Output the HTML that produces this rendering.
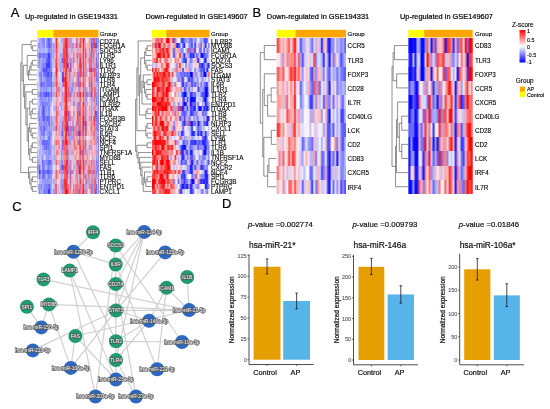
<!DOCTYPE html>
<html><head><meta charset="utf-8"><style>html,body{margin:0;padding:0;background:#fff;overflow:hidden}svg{display:block;will-change:transform}</style></head><body>
<svg width="550" height="409" viewBox="0 0 550 409" font-family='"Liberation Sans", sans-serif'>
<rect width="550" height="409" fill="#fff"/>
<path fill="#d8d8fc" d="M37 38h1v5h-1zM37 72h1v5h-1zM60 77h1v5h-1zM51 106h1v5h-1zM37 111h1v5h-1zM53 111h1v5h-1zM53 131h1v5h-1zM37 136h1v4h-1zM37 140h1v5h-1zM52 140h1v5h-1zM37 145h1v5h-1zM44 155h1v5h-1zM37 179h1v5h-1z"/>
<path fill="#c0c0fc" d="M38 38h1v5h-1zM45 43h1v5h-1zM38 48h1v5h-1zM45 48h1v5h-1zM53 63h1v5h-1zM52 68h1v4h-1zM52 77h2v5h-2zM37 82h1v5h-1zM60 82h1v5h-1zM87 87h1v5h-1zM51 102h1v4h-1zM71 102h1v4h-1zM38 106h1v5h-1zM50 106h1v5h-1zM53 106h1v5h-1zM60 106h1v5h-1zM61 111h1v5h-1zM38 121h1v5h-1zM38 126h1v5h-1zM39 136h1v4h-1zM46 136h1v4h-1zM60 136h1v4h-1zM41 145h1v5h-1zM41 150h1v5h-1zM40 155h1v5h-1zM45 155h1v5h-1zM52 155h1v5h-1zM40 160h1v5h-1zM53 160h1v5h-1zM52 165h1v5h-1zM38 174h1v5h-1zM52 179h1v5h-1zM38 189h1v5h-1zM52 189h1v5h-1z"/>
<path fill="#a8a8fc" d="M39 38h2v5h-2zM46 38h1v5h-1zM61 38h1v5h-1zM40 43h2v5h-2zM39 48h2v5h-2zM43 48h2v5h-2zM47 48h1v5h-1zM71 48h1v5h-1zM98 48h1v5h-1zM37 53h1v5h-1zM40 58h2v5h-2zM40 63h1v5h-1zM40 68h1v4h-1zM42 72h1v5h-1zM42 77h1v5h-1zM44 77h1v5h-1zM42 87h1v5h-1zM50 87h1v5h-1zM39 97h1v5h-1zM47 97h1v5h-1zM50 97h1v5h-1zM50 102h1v4h-1zM40 106h2v5h-2zM47 106h1v5h-1zM61 106h1v5h-1zM47 111h1v5h-1zM38 116h1v5h-1zM39 126h1v5h-1zM46 131h1v5h-1zM41 136h1v4h-1zM47 136h1v4h-1zM51 136h1v4h-1zM40 140h1v5h-1zM51 140h1v5h-1zM39 150h1v5h-1zM42 150h3v5h-3zM49 155h3v5h-3zM39 160h1v5h-1zM40 165h1v5h-1zM37 170h1v4h-1zM52 170h1v4h-1zM97 170h1v4h-1zM37 174h1v5h-1zM41 174h1v5h-1zM50 179h1v5h-1zM42 184h1v5h-1zM51 184h1v5h-1zM40 189h1v5h-1zM42 189h1v5h-1z"/>
<path fill="#9c9cfc" d="M41 38h1v5h-1zM38 43h1v5h-1zM42 43h1v5h-1zM98 43h1v5h-1zM50 48h1v5h-1zM38 53h1v5h-1zM61 53h1v5h-1zM42 58h1v5h-1zM44 58h2v5h-2zM98 58h1v5h-1zM41 63h1v5h-1zM98 68h1v4h-1zM43 77h1v5h-1zM40 87h1v5h-1zM45 87h1v5h-1zM47 87h2v5h-2zM43 97h1v5h-1zM46 97h1v5h-1zM39 106h1v5h-1zM45 106h1v5h-1zM39 111h1v5h-1zM45 111h2v5h-2zM40 116h1v5h-1zM40 121h1v5h-1zM42 121h1v5h-1zM47 121h1v5h-1zM46 126h1v5h-1zM51 126h1v5h-1zM40 131h1v5h-1zM47 131h1v5h-1zM98 131h1v5h-1zM40 136h1v4h-1zM44 136h1v4h-1zM50 136h1v4h-1zM71 136h1v4h-1zM41 140h1v5h-1zM50 140h1v5h-1zM42 145h1v5h-1zM50 145h2v5h-2zM45 150h1v5h-1zM45 160h1v5h-1zM38 165h1v5h-1zM51 165h1v5h-1zM38 170h1v4h-1zM41 170h1v4h-1zM40 174h1v5h-1zM47 174h1v5h-1zM42 179h3v5h-3zM46 179h1v5h-1zM48 179h1v5h-1zM51 179h1v5h-1zM61 179h1v5h-1zM40 184h1v5h-1zM43 184h1v5h-1zM41 189h1v5h-1zM43 189h1v5h-1z"/>
<path fill="#8484fc" d="M42 38h2v5h-2zM51 38h1v5h-1zM98 38h1v5h-1zM47 43h1v5h-1zM48 48h1v5h-1zM41 53h2v5h-2zM98 53h1v5h-1zM39 58h1v5h-1zM50 58h1v5h-1zM51 63h1v5h-1zM98 63h1v5h-1zM42 68h1v4h-1zM50 68h2v4h-2zM40 72h1v5h-1zM43 72h1v5h-1zM98 72h1v5h-1zM41 77h1v5h-1zM98 77h1v5h-1zM40 82h1v5h-1zM46 82h1v5h-1zM98 82h1v5h-1zM46 87h1v5h-1zM98 87h1v5h-1zM41 92h2v5h-2zM98 92h1v5h-1zM48 97h1v5h-1zM98 97h1v5h-1zM43 102h2v4h-2zM98 102h1v4h-1zM48 106h2v5h-2zM98 106h1v5h-1zM49 111h1v5h-1zM98 111h1v5h-1zM39 116h1v5h-1zM45 116h1v5h-1zM98 116h1v5h-1zM44 121h1v5h-1zM46 121h1v5h-1zM98 121h1v5h-1zM40 126h1v5h-1zM45 126h1v5h-1zM49 126h1v5h-1zM98 126h1v5h-1zM41 131h2v5h-2zM44 131h1v5h-1zM49 131h1v5h-1zM98 136h1v4h-1zM98 140h1v5h-1zM47 145h1v5h-1zM49 145h1v5h-1zM98 145h1v5h-1zM49 150h1v5h-1zM98 155h1v5h-1zM46 160h2v5h-2zM51 160h1v5h-1zM61 160h1v5h-1zM98 160h1v5h-1zM42 165h1v5h-1zM44 165h1v5h-1zM97 165h2v5h-2zM45 170h1v4h-1zM98 170h1v4h-1zM44 174h1v5h-1zM98 174h1v5h-1zM98 179h1v5h-1zM41 184h1v5h-1zM44 184h1v5h-1zM47 184h1v5h-1zM39 189h1v5h-1zM50 189h1v5h-1zM98 189h1v5h-1z"/>
<path fill="#9090fc" d="M44 38h1v5h-1zM50 38h1v5h-1zM39 43h1v5h-1zM43 43h2v5h-2zM46 43h1v5h-1zM51 43h1v5h-1zM51 48h1v5h-1zM46 53h1v5h-1zM51 53h1v5h-1zM43 58h1v5h-1zM51 58h1v5h-1zM61 58h1v5h-1zM39 63h1v5h-1zM42 63h1v5h-1zM44 63h1v5h-1zM41 68h1v4h-1zM39 72h1v5h-1zM40 77h1v5h-1zM45 77h1v5h-1zM45 82h1v5h-1zM41 87h1v5h-1zM43 87h2v5h-2zM71 87h1v5h-1zM39 92h1v5h-1zM50 92h1v5h-1zM40 97h3v5h-3zM44 97h2v5h-2zM49 97h1v5h-1zM51 97h1v5h-1zM40 102h2v4h-2zM46 102h1v4h-1zM48 102h2v4h-2zM46 106h1v5h-1zM38 111h1v5h-1zM41 111h1v5h-1zM48 111h1v5h-1zM41 116h1v5h-1zM39 121h1v5h-1zM41 121h1v5h-1zM43 121h1v5h-1zM45 121h1v5h-1zM42 126h1v5h-1zM47 126h1v5h-1zM48 131h1v5h-1zM50 131h2v5h-2zM61 131h1v5h-1zM43 136h1v4h-1zM43 145h1v5h-1zM48 150h1v5h-1zM50 150h1v5h-1zM61 150h1v5h-1zM98 150h1v5h-1zM42 155h1v5h-1zM46 155h1v5h-1zM48 155h1v5h-1zM44 160h1v5h-1zM47 165h1v5h-1zM49 165h2v5h-2zM45 174h1v5h-1zM49 174h3v5h-3zM45 179h1v5h-1zM47 179h1v5h-1zM49 179h1v5h-1zM39 184h1v5h-1zM45 184h1v5h-1zM50 184h1v5h-1zM61 184h1v5h-1zM98 184h1v5h-1zM45 189h1v5h-1zM53 189h1v5h-1z"/>
<path fill="#b4b4fc" d="M45 38h1v5h-1zM37 48h1v5h-1zM41 48h2v5h-2zM46 48h1v5h-1zM38 58h1v5h-1zM53 58h1v5h-1zM37 63h2v5h-2zM52 63h1v5h-1zM61 63h1v5h-1zM39 68h1v4h-1zM52 72h1v5h-1zM61 72h1v5h-1zM39 82h1v5h-1zM49 87h1v5h-1zM37 92h2v5h-2zM39 102h1v4h-1zM50 126h1v5h-1zM52 126h1v5h-1zM39 131h1v5h-1zM45 131h1v5h-1zM42 136h1v4h-1zM39 140h1v5h-1zM40 145h1v5h-1zM40 150h1v5h-1zM54 150h1v5h-1zM39 155h1v5h-1zM41 155h1v5h-1zM43 155h1v5h-1zM53 155h1v5h-1zM41 160h1v5h-1zM52 160h1v5h-1zM41 165h1v5h-1zM45 165h2v5h-2zM46 174h1v5h-1zM40 179h2v5h-2zM38 184h1v5h-1zM51 189h1v5h-1zM61 189h1v5h-1z"/>
<path fill="#7878fc" d="M47 38h1v5h-1zM50 43h1v5h-1zM49 48h1v5h-1zM40 53h1v5h-1zM43 53h3v5h-3zM50 53h1v5h-1zM43 63h1v5h-1zM45 63h1v5h-1zM50 63h1v5h-1zM48 68h1v4h-1zM41 72h1v5h-1zM50 72h1v5h-1zM46 77h6v5h-6zM42 82h3v5h-3zM47 82h4v5h-4zM51 87h1v5h-1zM43 92h1v5h-1zM49 92h1v5h-1zM45 102h1v4h-1zM47 102h1v4h-1zM42 116h1v5h-1zM46 116h1v5h-1zM49 116h1v5h-1zM48 121h1v5h-1zM41 126h1v5h-1zM43 126h1v5h-1zM48 136h1v4h-1zM45 140h1v5h-1zM48 140h2v5h-2zM44 145h2v5h-2zM48 145h1v5h-1zM43 160h1v5h-1zM43 165h1v5h-1zM48 165h1v5h-1zM61 165h1v5h-1zM42 170h1v4h-1zM50 170h2v4h-2zM39 174h1v5h-1zM42 174h1v5h-1zM48 174h1v5h-1zM46 184h1v5h-1zM48 184h1v5h-1zM46 189h2v5h-2z"/>
<path fill="#6060fc" d="M48 38h2v5h-2zM46 58h2v5h-2zM45 68h1v4h-1zM47 68h1v4h-1zM49 68h1v4h-1zM46 72h1v5h-1zM41 82h1v5h-1zM44 92h2v5h-2zM43 116h2v5h-2zM47 116h1v5h-1zM44 126h1v5h-1zM44 140h1v5h-1zM46 145h1v5h-1zM49 160h1v5h-1zM40 170h1v4h-1zM43 170h2v4h-2zM47 170h3v4h-3zM43 174h1v5h-1zM49 184h1v5h-1zM44 189h1v5h-1z"/>
<path fill="#ccccfc" d="M52 38h1v5h-1zM37 43h1v5h-1zM61 43h1v5h-1zM37 58h1v5h-1zM52 58h1v5h-1zM38 68h1v4h-1zM38 72h1v5h-1zM53 72h1v5h-1zM60 72h1v5h-1zM38 82h1v5h-1zM61 82h1v5h-1zM37 87h3v5h-3zM38 97h1v5h-1zM52 97h1v5h-1zM37 102h2v4h-2zM54 102h1v4h-1zM50 111h2v5h-2zM62 111h1v5h-1zM37 116h1v5h-1zM38 131h1v5h-1zM52 131h1v5h-1zM45 136h1v4h-1zM38 150h1v5h-1zM71 155h1v5h-1zM53 170h1v4h-1zM60 174h1v5h-1zM97 179h1v5h-1zM37 184h1v5h-1zM52 184h2v5h-2z"/>
<path fill="#e4e4fc" d="M53 38h1v5h-1zM37 68h1v4h-1zM53 68h1v4h-1zM37 97h1v5h-1zM52 102h1v4h-1zM38 179h1v5h-1z"/>
<path fill="#d8ccf0" d="M54 38h1v5h-1zM61 48h1v5h-1zM71 121h1v5h-1zM60 140h1v5h-1zM52 150h1v5h-1zM59 155h2v5h-2z"/>
<path fill="#f0909c" d="M55 38h1v5h-1zM55 43h1v5h-1zM84 48h1v5h-1zM82 58h1v5h-1zM77 68h1v4h-1zM85 77h1v5h-1zM69 82h1v5h-1zM80 87h1v5h-1zM63 97h1v5h-1zM94 106h1v5h-1zM73 111h1v5h-1zM63 116h1v5h-1zM95 131h1v5h-1zM85 136h1v4h-1zM95 140h1v5h-1zM69 184h1v5h-1zM74 189h1v5h-1z"/>
<path fill="#fc3030" d="M56 38h1v5h-1zM56 43h1v5h-1zM83 43h1v5h-1zM64 58h1v5h-1zM56 72h1v5h-1zM64 77h1v5h-1zM65 92h1v5h-1zM65 97h1v5h-1zM65 116h1v5h-1zM65 126h1v5h-1zM65 136h1v4h-1zM65 184h1v5h-1z"/>
<path fill="#fc9c9c" d="M57 38h1v5h-1zM89 43h1v5h-1zM84 53h1v5h-1zM84 58h1v5h-1zM89 72h1v5h-1zM94 82h1v5h-1zM76 92h1v5h-1zM81 92h1v5h-1zM57 97h1v5h-1zM81 97h1v5h-1zM73 106h1v5h-1zM89 106h1v5h-1zM64 131h1v5h-1zM75 140h1v5h-1zM73 145h1v5h-1zM77 145h1v5h-1zM76 150h2v5h-2zM88 160h2v5h-2zM57 174h1v5h-1z"/>
<path fill="#fccccc" d="M58 38h1v5h-1zM81 48h1v5h-1zM86 77h2v5h-2zM74 121h1v5h-1zM89 189h1v5h-1z"/>
<path fill="#f0ccd8" d="M59 38h1v5h-1zM75 38h1v5h-1zM74 63h1v5h-1zM59 97h1v5h-1zM58 102h1v4h-1zM81 102h1v4h-1zM88 102h1v4h-1zM75 106h1v5h-1zM88 126h1v5h-1zM89 136h1v4h-1zM90 150h1v5h-1zM59 174h1v5h-1z"/>
<path fill="#d8d8f0" d="M60 38h1v5h-1z"/>
<path fill="#c0a8e4" d="M62 38h1v5h-1zM92 53h1v5h-1zM61 68h1v4h-1zM96 87h1v5h-1zM62 97h1v5h-1zM97 97h1v5h-1zM97 102h1v4h-1zM97 106h1v5h-1zM71 116h2v5h-2zM54 126h1v5h-1zM72 131h1v5h-1zM71 150h1v5h-1zM59 160h1v5h-1z"/>
<path fill="#f08484" d="M63 38h1v5h-1z"/>
<path fill="#fc6060" d="M64 38h1v5h-1zM64 43h1v5h-1zM64 97h1v5h-1zM83 97h1v5h-1zM64 116h1v5h-1zM82 116h1v5h-1zM80 121h1v5h-1zM56 140h1v5h-1zM64 140h1v5h-1zM74 140h1v5h-1zM64 145h2v5h-2zM56 160h1v5h-1zM65 160h1v5h-1zM64 170h1v4h-1zM64 174h1v5h-1zM83 179h1v5h-1z"/>
<path fill="#fc4848" d="M65 38h1v5h-1zM56 48h1v5h-1zM64 48h1v5h-1zM64 53h2v5h-2zM56 58h1v5h-1zM65 68h1v4h-1zM89 68h1v4h-1zM94 72h1v5h-1zM66 77h1v5h-1zM56 82h1v5h-1zM83 82h1v5h-1zM56 92h1v5h-1zM77 116h1v5h-1zM64 165h1v5h-1zM65 170h1v4h-1zM89 170h1v4h-1z"/>
<path fill="#f0243c" d="M66 38h1v5h-1zM66 53h1v5h-1z"/>
<path fill="#a860c0" d="M67 38h1v5h-1zM67 111h1v5h-1z"/>
<path fill="#d890b4" d="M68 38h1v5h-1zM82 63h1v5h-1zM84 72h1v5h-1zM84 92h1v5h-1zM77 102h1v4h-1zM74 111h1v5h-1zM84 126h1v5h-1zM84 140h1v5h-1zM93 160h1v5h-1zM93 165h1v5h-1zM55 170h1v4h-1z"/>
<path fill="#e490b4" d="M69 38h1v5h-1zM94 53h1v5h-1zM86 111h1v5h-1zM55 116h1v5h-1zM55 140h1v5h-1zM73 170h1v4h-1z"/>
<path fill="#c084c0" d="M70 38h1v5h-1zM70 58h1v5h-1zM58 87h1v5h-1zM55 126h1v5h-1zM68 165h3v5h-3zM92 179h1v5h-1z"/>
<path fill="#b4a8f0" d="M71 38h1v5h-1zM54 43h1v5h-1zM60 53h1v5h-1zM92 58h1v5h-1zM96 82h1v5h-1zM52 92h1v5h-1zM62 102h1v4h-1zM87 102h1v4h-1zM50 116h1v5h-1zM52 121h1v5h-1zM61 121h1v5h-1zM61 145h1v5h-1zM96 145h1v5h-1zM38 160h1v5h-1zM91 174h1v5h-1zM53 179h1v5h-1zM54 189h1v5h-1z"/>
<path fill="#d8ccfc" d="M72 38h1v5h-1zM53 97h1v5h-1zM53 102h1v4h-1zM53 165h1v5h-1zM52 174h1v5h-1z"/>
<path fill="#f0cccc" d="M73 38h1v5h-1zM75 111h1v5h-1zM74 174h1v5h-1z"/>
<path fill="#fcd8d8" d="M74 38h1v5h-1zM75 63h1v5h-1zM88 72h1v5h-1zM58 77h1v5h-1zM74 77h1v5h-1zM86 82h1v5h-1zM72 106h1v5h-1zM88 136h1v4h-1zM88 189h1v5h-1z"/>
<path fill="#c078b4" d="M76 38h1v5h-1zM79 68h1v4h-1zM92 87h1v5h-1zM74 102h1v4h-1zM78 111h1v5h-1zM78 126h1v5h-1zM69 131h1v5h-1zM70 160h1v5h-1zM78 189h1v5h-1z"/>
<path fill="#f0849c" d="M77 38h1v5h-1zM90 87h1v5h-1zM85 97h1v5h-1zM92 121h1v5h-1zM81 165h1v5h-1zM85 179h1v5h-1z"/>
<path fill="#e4b4cc" d="M78 38h1v5h-1zM79 48h1v5h-1zM86 58h1v5h-1zM58 68h1v4h-1zM58 82h1v5h-1zM74 87h1v5h-1zM75 102h1v4h-1zM93 102h1v4h-1zM74 116h1v5h-1zM58 121h1v5h-1zM55 136h1v4h-1zM69 145h1v5h-1zM88 145h1v5h-1zM92 145h1v5h-1zM55 150h1v5h-1zM78 155h1v5h-1zM75 170h1v4h-1zM90 174h1v5h-1zM73 179h1v5h-1z"/>
<path fill="#d8a8cc" d="M79 38h1v5h-1zM90 43h1v5h-1zM97 53h1v5h-1zM76 72h1v5h-1zM73 77h1v5h-1zM81 82h1v5h-1zM97 87h1v5h-1zM74 97h1v5h-1zM70 150h1v5h-1zM87 150h1v5h-1zM74 165h2v5h-2zM87 165h1v5h-1zM68 174h1v5h-1zM75 174h1v5h-1zM87 174h1v5h-1zM71 179h1v5h-1z"/>
<path fill="#f05460" d="M80 38h1v5h-1zM63 48h1v5h-1zM85 53h1v5h-1zM65 63h1v5h-1zM63 82h1v5h-1zM80 111h1v5h-1zM83 111h1v5h-1zM85 126h1v5h-1zM83 145h1v5h-1z"/>
<path fill="#f090a8" d="M81 38h1v5h-1zM90 72h1v5h-1zM75 82h1v5h-1zM58 111h1v5h-1zM95 136h1v4h-1zM90 165h1v5h-1z"/>
<path fill="#fc7878" d="M82 38h1v5h-1zM77 58h1v5h-1zM64 68h1v4h-1zM57 82h1v5h-1zM82 92h1v5h-1zM82 106h1v5h-1zM74 145h2v5h-2zM57 150h1v5h-1zM65 155h1v5h-1zM88 165h2v5h-2z"/>
<path fill="#f02430" d="M83 38h1v5h-1zM56 68h1v4h-1zM83 116h1v5h-1zM66 131h1v5h-1zM66 165h1v5h-1zM83 189h1v5h-1z"/>
<path fill="#cc78a8" d="M84 38h1v5h-1zM76 82h1v5h-1zM79 106h1v5h-1zM84 116h1v5h-1zM76 121h1v5h-1zM59 170h1v4h-1zM63 179h1v5h-1z"/>
<path fill="#f0b4c0" d="M85 38h1v5h-1zM69 48h1v5h-1zM74 48h1v5h-1zM76 48h1v5h-1zM59 53h1v5h-1zM75 72h1v5h-1zM77 87h1v5h-1zM93 92h1v5h-1zM75 97h1v5h-1zM89 97h1v5h-1zM70 106h1v5h-1zM81 111h1v5h-1zM75 121h1v5h-1zM81 121h1v5h-1zM55 131h1v5h-1zM88 131h1v5h-1zM92 136h1v4h-1zM76 140h1v5h-1zM92 140h1v5h-1zM95 145h1v5h-1zM88 150h1v5h-1zM94 155h1v5h-1zM63 174h1v5h-1zM82 174h1v5h-1zM72 189h1v5h-1z"/>
<path fill="#fce4e4" d="M86 38h1v5h-1z"/>
<path fill="#fcd8e4" d="M87 38h1v5h-1zM90 155h1v5h-1zM57 165h2v5h-2zM58 179h1v5h-1z"/>
<path fill="#f0c0cc" d="M88 38h1v5h-1zM86 43h1v5h-1zM75 48h1v5h-1zM88 53h1v5h-1zM74 68h1v4h-1zM76 87h1v5h-1zM76 97h1v5h-1zM68 102h1v4h-1zM74 106h1v5h-1zM57 145h1v5h-1zM87 145h1v5h-1zM74 170h1v4h-1zM74 179h1v5h-1zM57 184h1v5h-1zM57 189h1v5h-1z"/>
<path fill="#f0a8b4" d="M89 38h1v5h-1zM55 53h1v5h-1zM58 63h1v5h-1zM75 92h1v5h-1zM77 97h1v5h-1zM59 102h1v4h-1zM63 102h1v4h-1zM63 106h1v5h-1zM68 106h1v5h-1zM90 111h1v5h-1zM90 121h1v5h-1zM90 126h1v5h-1zM90 131h1v5h-1zM77 136h2v4h-2zM95 150h1v5h-1zM58 160h1v5h-1zM73 160h1v5h-1zM81 170h1v4h-1zM85 170h1v4h-1zM69 179h1v5h-1z"/>
<path fill="#cc9ccc" d="M90 38h1v5h-1zM81 58h1v5h-1zM70 72h1v5h-1zM54 82h1v5h-1zM70 82h1v5h-1zM55 106h1v5h-1zM86 106h1v5h-1zM93 106h1v5h-1zM97 131h1v5h-1zM68 145h1v5h-1zM91 145h1v5h-1zM81 160h1v5h-1zM95 165h1v5h-1zM88 179h1v5h-1z"/>
<path fill="#846ce4" d="M91 38h1v5h-1zM91 48h1v5h-1zM91 82h1v5h-1z"/>
<path fill="#9c90fc" d="M92 38h1v5h-1zM60 68h1v4h-1zM51 116h1v5h-1zM46 150h1v5h-1zM96 165h1v5h-1z"/>
<path fill="#9c60cc" d="M93 38h1v5h-1zM67 43h1v5h-1zM62 145h1v5h-1z"/>
<path fill="#f04854" d="M94 38h1v5h-1zM80 43h1v5h-1zM63 53h1v5h-1zM94 68h1v4h-1zM66 72h1v5h-1zM80 82h1v5h-1zM77 111h1v5h-1zM94 121h1v5h-1zM56 126h1v5h-1zM85 131h1v5h-1zM80 145h1v5h-1z"/>
<path fill="#e484a8" d="M95 38h1v5h-1zM55 68h1v4h-1zM95 72h1v5h-1zM73 102h1v4h-1zM57 121h1v5h-1zM76 126h1v5h-1zM85 150h1v5h-1zM95 170h1v4h-1zM76 174h1v5h-1z"/>
<path fill="#786cf0" d="M96 38h1v5h-1zM96 184h1v5h-1zM96 189h1v5h-1z"/>
<path fill="#c09cd8" d="M97 38h1v5h-1zM62 53h1v5h-1zM93 63h1v5h-1zM78 68h1v4h-1zM86 68h1v4h-1zM62 116h1v5h-1zM72 121h1v5h-1zM91 131h1v5h-1zM72 150h1v5h-1zM96 150h1v5h-1zM86 184h1v5h-1z"/>
<path fill="#6c6cfc" d="M48 43h1v5h-1zM39 53h1v5h-1zM47 53h1v5h-1zM44 72h2v5h-2zM49 72h1v5h-1zM51 82h1v5h-1zM40 92h1v5h-1zM47 92h1v5h-1zM42 102h1v4h-1zM42 106h1v5h-1zM44 106h1v5h-1zM42 111h1v5h-1zM44 111h1v5h-1zM48 116h1v5h-1zM49 121h1v5h-1zM43 131h1v5h-1zM49 136h1v4h-1zM42 140h2v5h-2zM46 140h2v5h-2zM42 160h1v5h-1zM48 160h1v5h-1zM50 160h1v5h-1zM39 165h1v5h-1zM46 170h1v4h-1z"/>
<path fill="#5454fc" d="M49 43h1v5h-1zM43 68h2v4h-2zM46 68h1v4h-1zM47 72h1v5h-1zM51 72h1v5h-1zM48 92h1v5h-1zM43 106h1v5h-1zM43 111h1v5h-1z"/>
<path fill="#b4a8fc" d="M52 43h1v5h-1zM39 77h1v5h-1zM71 82h1v5h-1zM54 106h1v5h-1zM60 116h1v5h-1zM48 126h1v5h-1zM37 155h1v5h-1zM60 179h1v5h-1zM60 184h1v5h-1zM97 184h1v5h-1z"/>
<path fill="#a89cfc" d="M53 43h1v5h-1zM53 126h1v5h-1zM47 150h1v5h-1zM51 150h1v5h-1zM47 155h1v5h-1zM54 155h1v5h-1zM61 155h1v5h-1zM61 174h1v5h-1z"/>
<path fill="#fc8484" d="M57 43h1v5h-1zM85 43h1v5h-1zM82 48h1v5h-1zM55 82h1v5h-1zM64 87h1v5h-1zM56 102h1v4h-1zM64 102h1v4h-1zM64 136h1v4h-1zM94 136h1v4h-1zM94 140h1v5h-1zM82 145h1v5h-1zM56 150h1v5h-1zM82 165h1v5h-1zM75 184h1v5h-1z"/>
<path fill="#fcb4b4" d="M58 43h1v5h-1zM88 43h1v5h-1zM75 53h1v5h-1zM55 111h1v5h-1zM81 116h1v5h-1zM57 131h1v5h-1zM57 136h1v4h-1zM89 140h1v5h-1zM93 140h1v5h-1zM94 145h1v5h-1zM75 150h1v5h-1zM74 155h1v5h-1zM88 155h2v5h-2zM58 174h1v5h-1z"/>
<path fill="#e4c0d8" d="M59 43h1v5h-1zM87 48h2v5h-2zM72 53h1v5h-1zM95 53h1v5h-1zM88 63h1v5h-1zM72 72h1v5h-1zM55 87h1v5h-1zM55 97h1v5h-1zM90 97h1v5h-1zM93 111h1v5h-1zM38 140h1v5h-1zM59 150h1v5h-1zM95 155h1v5h-1z"/>
<path fill="#ccc0fc" d="M60 43h1v5h-1zM61 77h1v5h-1zM87 97h1v5h-1zM60 126h1v5h-1zM39 145h1v5h-1zM60 145h1v5h-1zM53 150h1v5h-1zM38 155h1v5h-1z"/>
<path fill="#ccb4e4" d="M62 43h1v5h-1zM68 48h1v5h-1zM70 48h1v5h-1zM72 92h1v5h-1zM86 102h1v4h-1zM60 111h1v5h-1zM54 116h1v5h-1zM59 121h1v5h-1zM97 155h1v5h-1zM97 174h1v5h-1zM58 184h1v5h-1zM87 184h1v5h-1z"/>
<path fill="#f07884" d="M63 43h1v5h-1zM57 87h1v5h-1zM94 111h1v5h-1zM63 126h1v5h-1zM58 140h1v5h-1zM77 140h1v5h-1zM85 160h1v5h-1zM77 165h1v5h-1zM77 174h1v5h-1zM73 184h1v5h-1zM82 184h1v5h-1z"/>
<path fill="#fc2424" d="M65 43h1v5h-1zM65 87h2v5h-2zM66 97h1v5h-1zM65 111h1v5h-1zM65 140h1v5h-1zM65 179h1v5h-1z"/>
<path fill="#e4243c" d="M66 43h1v5h-1zM80 170h1v4h-1z"/>
<path fill="#cc90c0" d="M68 43h1v5h-1zM70 43h1v5h-1zM93 48h1v5h-1zM78 53h1v5h-1zM86 72h1v5h-1zM79 77h1v5h-1zM74 92h1v5h-1zM79 97h1v5h-1zM67 102h1v4h-1zM91 121h1v5h-1zM69 126h1v5h-1zM70 140h1v5h-1zM89 145h1v5h-1zM84 150h1v5h-1zM84 184h1v5h-1z"/>
<path fill="#f08490" d="M69 43h1v5h-1zM94 48h1v5h-1zM82 53h1v5h-1zM85 68h1v4h-1zM57 72h1v5h-1zM82 72h1v5h-1zM69 77h1v5h-1zM80 77h1v5h-1zM67 87h1v5h-1zM89 87h1v5h-1zM85 102h1v4h-1zM95 106h1v5h-1zM73 121h1v5h-1zM75 126h1v5h-1zM75 131h1v5h-1zM63 136h1v4h-1zM80 136h1v4h-1zM63 150h1v5h-1zM94 160h1v5h-1zM94 165h1v5h-1zM89 174h1v5h-1zM94 174h1v5h-1z"/>
<path fill="#a89cf0" d="M71 43h1v5h-1zM53 48h1v5h-1zM53 53h1v5h-1zM60 63h1v5h-1zM52 82h2v5h-2zM53 92h1v5h-1zM91 97h1v5h-1zM91 106h1v5h-1zM91 111h1v5h-1zM61 126h1v5h-1zM70 136h1v4h-1zM62 179h1v5h-1z"/>
<path fill="#9c90f0" d="M72 43h1v5h-1zM71 68h1v4h-1zM72 82h1v5h-1zM71 131h1v5h-1zM96 155h1v5h-1zM60 165h1v5h-1zM61 170h1v4h-1z"/>
<path fill="#d884a8" d="M73 43h1v5h-1zM55 58h1v5h-1zM68 68h1v4h-1zM55 72h1v5h-1zM67 97h2v5h-2zM95 121h1v5h-1zM74 126h1v5h-1zM86 131h1v5h-1zM97 136h1v4h-1zM69 140h1v5h-1zM97 140h1v5h-1zM86 160h1v5h-1zM86 189h1v5h-1z"/>
<path fill="#fca8b4" d="M74 43h1v5h-1zM82 77h1v5h-1zM57 102h1v4h-1zM69 106h1v5h-1zM76 111h1v5h-1zM89 121h1v5h-1zM58 131h1v5h-1zM75 136h1v4h-1zM56 145h1v5h-1z"/>
<path fill="#f09cb4" d="M75 43h1v5h-1zM77 48h1v5h-1zM94 58h1v5h-1zM68 72h1v5h-1zM95 82h1v5h-1zM63 92h1v5h-1zM55 121h1v5h-1zM77 126h1v5h-1zM92 126h1v5h-1zM63 160h1v5h-1z"/>
<path fill="#c05490" d="M76 43h1v5h-1zM79 140h1v5h-1zM82 150h1v5h-1z"/>
<path fill="#f07890" d="M77 43h1v5h-1zM69 58h1v5h-1zM85 111h1v5h-1zM68 184h1v5h-1zM63 189h1v5h-1zM76 189h1v5h-1zM85 189h1v5h-1z"/>
<path fill="#e4a8c0" d="M78 43h1v5h-1zM86 48h1v5h-1zM90 48h1v5h-1zM59 63h1v5h-1zM76 77h1v5h-1zM58 92h1v5h-1zM76 102h1v4h-1zM76 106h1v5h-1zM54 140h1v5h-1zM90 160h1v5h-1zM59 189h1v5h-1zM90 189h1v5h-1z"/>
<path fill="#c06cb4" d="M79 43h1v5h-1z"/>
<path fill="#e4a8cc" d="M81 43h1v5h-1zM76 58h1v5h-1zM95 58h1v5h-1zM74 82h1v5h-1zM93 82h1v5h-1zM86 145h1v5h-1zM92 150h1v5h-1z"/>
<path fill="#fc9090" d="M82 43h1v5h-1zM84 43h1v5h-1zM57 48h1v5h-1zM80 48h1v5h-1zM88 58h1v5h-1zM77 63h1v5h-1zM84 68h1v4h-1zM64 72h1v5h-1zM57 77h1v5h-1zM93 87h1v5h-1zM55 92h1v5h-1zM57 116h1v5h-1zM56 131h1v5h-1zM74 131h1v5h-1zM57 140h1v5h-1zM73 140h1v5h-1zM76 145h1v5h-1zM64 155h1v5h-1zM75 155h1v5h-1zM76 179h1v5h-1z"/>
<path fill="#fcb4c0" d="M87 43h1v5h-1zM58 136h1v4h-1zM78 145h1v5h-1zM85 155h1v5h-1zM73 174h1v5h-1z"/>
<path fill="#6c54e4" d="M91 43h1v5h-1zM96 111h1v5h-1z"/>
<path fill="#906cd8" d="M92 43h1v5h-1z"/>
<path fill="#a86cc0" d="M93 43h1v5h-1zM79 58h1v5h-1zM81 63h1v5h-1zM78 72h1v5h-1zM67 184h1v5h-1z"/>
<path fill="#e43054" d="M94 43h1v5h-1zM80 58h1v5h-1z"/>
<path fill="#9c48a8" d="M95 43h1v5h-1zM78 131h1v5h-1z"/>
<path fill="#7854d8" d="M96 43h1v5h-1zM91 92h1v5h-1z"/>
<path fill="#d8789c" d="M97 43h1v5h-1zM95 87h1v5h-1z"/>
<path fill="#c0a8f0" d="M52 48h1v5h-1zM54 48h1v5h-1zM52 53h1v5h-1zM62 155h1v5h-1zM71 174h1v5h-1zM96 179h1v5h-1z"/>
<path fill="#e490a8" d="M55 48h1v5h-1zM95 48h1v5h-1zM76 53h1v5h-1zM95 63h1v5h-1zM68 77h1v5h-1zM69 87h1v5h-1zM73 92h1v5h-1zM90 116h1v5h-1zM82 136h1v4h-1zM93 136h1v4h-1zM87 155h1v5h-1zM84 160h1v5h-1zM69 170h1v4h-1zM78 184h1v5h-1z"/>
<path fill="#f0b4cc" d="M58 48h1v5h-1zM58 58h1v5h-1zM75 68h1v4h-1zM93 77h1v5h-1zM59 111h1v5h-1zM87 111h1v5h-1zM58 126h1v5h-1zM84 136h1v4h-1zM69 155h1v5h-1zM73 155h1v5h-1zM55 165h1v5h-1z"/>
<path fill="#d8b4d8" d="M59 48h1v5h-1zM70 53h1v5h-1zM59 82h1v5h-1zM88 82h1v5h-1zM92 116h1v5h-1zM54 121h1v5h-1zM97 145h1v5h-1zM86 155h1v5h-1zM75 160h1v5h-1zM59 165h1v5h-1zM81 174h1v5h-1zM68 179h1v5h-1zM71 184h1v5h-1zM58 189h1v5h-1z"/>
<path fill="#ccc0f0" d="M60 48h1v5h-1zM54 53h1v5h-1zM52 87h1v5h-1zM54 87h1v5h-1zM61 92h1v5h-1zM71 97h1v5h-1zM62 106h1v5h-1zM52 116h1v5h-1zM59 136h1v4h-1zM60 189h1v5h-1z"/>
<path fill="#cca8d8" d="M62 48h1v5h-1zM72 48h1v5h-1zM68 58h1v5h-1zM72 58h1v5h-1zM59 131h1v5h-1zM59 140h1v5h-1zM55 155h1v5h-1zM81 155h1v5h-1zM60 170h1v4h-1zM93 174h1v5h-1zM55 179h1v5h-1zM78 179h1v5h-1z"/>
<path fill="#fc5454" d="M65 48h1v5h-1zM56 77h1v5h-1zM64 82h1v5h-1zM94 92h1v5h-1zM83 106h1v5h-1zM64 111h1v5h-1zM65 121h1v5h-1zM83 155h1v5h-1zM65 174h1v5h-1z"/>
<path fill="#e43048" d="M66 48h1v5h-1zM66 63h1v5h-1zM80 63h1v5h-1zM63 72h1v5h-1zM66 121h1v5h-1zM85 121h1v5h-1zM66 160h1v5h-1zM80 165h1v5h-1z"/>
<path fill="#9060cc" d="M67 48h1v5h-1zM91 53h1v5h-1zM67 58h1v5h-1zM67 150h1v5h-1z"/>
<path fill="#f0a8a8" d="M73 48h1v5h-1zM56 165h1v5h-1z"/>
<path fill="#cc9cd8" d="M78 48h1v5h-1zM81 53h1v5h-1zM58 106h1v5h-1zM92 160h1v5h-1zM55 174h1v5h-1z"/>
<path fill="#fc3c3c" d="M83 48h1v5h-1zM83 53h1v5h-1zM83 58h1v5h-1zM64 63h1v5h-1zM83 63h1v5h-1zM83 68h1v4h-1zM65 72h1v5h-1zM65 102h1v4h-1zM65 106h1v5h-1zM65 131h1v5h-1zM65 165h1v5h-1zM64 184h1v5h-1z"/>
<path fill="#fc606c" d="M85 48h1v5h-1zM89 63h1v5h-1zM83 77h1v5h-1zM80 106h1v5h-1zM80 116h1v5h-1zM77 184h1v5h-1zM73 189h1v5h-1z"/>
<path fill="#f07878" d="M89 48h1v5h-1zM77 170h1v4h-1z"/>
<path fill="#b46cb4" d="M92 48h1v5h-1zM67 92h1v5h-1zM70 126h1v5h-1z"/>
<path fill="#a890e4" d="M96 48h1v5h-1zM71 63h1v5h-1zM62 170h1v4h-1z"/>
<path fill="#d8c0e4" d="M97 48h1v5h-1zM54 63h1v5h-1zM59 77h1v5h-1zM78 97h1v5h-1zM69 121h1v5h-1zM87 121h1v5h-1zM87 126h1v5h-1zM87 131h1v5h-1zM91 136h1v4h-1zM72 140h1v5h-1zM70 155h1v5h-1zM78 174h1v5h-1zM72 179h1v5h-1zM71 189h1v5h-1z"/>
<path fill="#3c3cfc" d="M48 53h1v5h-1zM47 63h3v5h-3zM48 189h2v5h-2z"/>
<path fill="#4848fc" d="M49 53h1v5h-1zM48 58h2v5h-2zM46 63h1v5h-1zM48 72h1v5h-1zM46 92h1v5h-1zM39 170h1v4h-1z"/>
<path fill="#fc5460" d="M56 53h1v5h-1zM77 92h1v5h-1zM56 116h1v5h-1zM83 140h1v5h-1zM56 170h1v4h-1zM82 189h1v5h-1z"/>
<path fill="#fc9ca8" d="M57 53h1v5h-1zM75 87h1v5h-1zM56 97h1v5h-1zM74 136h1v4h-1zM89 150h1v5h-1zM56 155h1v5h-1z"/>
<path fill="#f0c0c0" d="M58 53h1v5h-1z"/>
<path fill="#9c60c0" d="M67 53h1v5h-1zM68 63h1v5h-1zM78 77h1v5h-1zM62 140h1v5h-1zM67 174h1v5h-1z"/>
<path fill="#b484cc" d="M68 53h1v5h-1zM79 53h1v5h-1zM70 131h1v5h-1zM68 170h1v4h-1zM92 170h1v4h-1zM67 179h1v5h-1z"/>
<path fill="#f0a8c0" d="M69 53h1v5h-1zM88 68h1v4h-1zM93 72h1v5h-1zM90 106h1v5h-1zM69 150h1v5h-1zM75 179h1v5h-1z"/>
<path fill="#d8b4e4" d="M71 53h1v5h-1zM54 58h1v5h-1zM52 145h1v5h-1zM72 145h1v5h-1z"/>
<path fill="#fc7884" d="M73 53h1v5h-1zM89 53h1v5h-1zM94 77h1v5h-1zM82 82h1v5h-1zM77 179h1v5h-1z"/>
<path fill="#f09ca8" d="M74 53h1v5h-1zM59 58h1v5h-1zM78 63h1v5h-1zM94 63h1v5h-1zM73 72h1v5h-1zM73 116h1v5h-1zM57 126h1v5h-1zM90 140h1v5h-1zM58 145h1v5h-1zM73 150h1v5h-1zM63 155h1v5h-1zM69 160h1v5h-1zM73 165h1v5h-1zM76 165h1v5h-1zM82 170h1v4h-1zM69 174h1v5h-1zM56 179h1v5h-1zM82 179h1v5h-1z"/>
<path fill="#f0606c" d="M77 53h1v5h-1zM63 63h1v5h-1zM80 97h1v5h-1zM56 111h1v5h-1zM77 121h1v5h-1zM80 126h1v5h-1zM66 145h1v5h-1zM88 170h1v4h-1zM85 174h1v5h-1zM94 179h1v5h-1zM56 184h1v5h-1zM77 189h1v5h-1zM94 189h1v5h-1z"/>
<path fill="#e46078" d="M80 53h1v5h-1zM57 68h1v4h-1zM73 126h1v5h-1zM85 140h1v5h-1zM79 160h1v5h-1z"/>
<path fill="#c084cc" d="M86 53h1v5h-1z"/>
<path fill="#ccc0e4" d="M87 53h1v5h-1z"/>
<path fill="#e48490" d="M90 53h1v5h-1zM85 72h1v5h-1z"/>
<path fill="#9c78d8" d="M93 53h1v5h-1zM91 87h1v5h-1zM86 92h1v5h-1zM78 106h1v5h-1z"/>
<path fill="#9c84e4" d="M96 53h1v5h-1zM62 92h1v5h-1zM96 92h1v5h-1zM96 121h1v5h-1zM91 160h1v5h-1zM72 170h1v4h-1zM62 184h1v5h-1zM92 184h1v5h-1z"/>
<path fill="#f09c9c" d="M57 58h1v5h-1z"/>
<path fill="#ccb4f0" d="M60 58h1v5h-1zM71 72h1v5h-1zM72 102h1v4h-1zM71 145h1v5h-1z"/>
<path fill="#8460e4" d="M62 58h1v5h-1z"/>
<path fill="#e43c54" d="M63 58h1v5h-1zM90 68h1v4h-1zM80 150h1v5h-1z"/>
<path fill="#e44860" d="M65 58h1v5h-1zM80 72h1v5h-1zM94 116h1v5h-1zM80 131h1v5h-1zM63 165h1v5h-1zM80 179h1v5h-1z"/>
<path fill="#e43c60" d="M66 58h1v5h-1zM80 68h1v4h-1z"/>
<path fill="#b490d8" d="M71 58h1v5h-1zM93 58h1v5h-1zM62 82h1v5h-1zM71 92h1v5h-1zM86 97h1v5h-1zM93 97h1v5h-1zM97 111h1v5h-1zM81 131h1v5h-1zM62 136h1v4h-1zM69 136h1v4h-1zM96 136h1v4h-1zM97 160h1v5h-1zM91 165h1v5h-1zM96 174h1v5h-1zM79 179h1v5h-1zM81 184h1v5h-1z"/>
<path fill="#e46c84" d="M73 58h1v5h-1zM95 68h1v4h-1zM77 72h1v5h-1zM85 92h1v5h-1zM69 116h1v5h-1zM79 116h1v5h-1zM80 174h1v5h-1zM80 184h1v5h-1zM80 189h1v5h-1z"/>
<path fill="#d89cc0" d="M74 58h1v5h-1zM97 58h1v5h-1zM97 68h1v4h-1zM92 72h1v5h-1zM67 77h1v5h-1zM95 77h1v5h-1zM69 97h1v5h-1zM76 136h1v4h-1zM70 145h1v5h-1zM92 155h1v5h-1zM93 179h1v5h-1zM93 189h1v5h-1z"/>
<path fill="#f0c0d8" d="M75 58h1v5h-1zM78 58h1v5h-1zM60 92h1v5h-1zM58 97h1v5h-1zM90 102h1v4h-1zM88 121h1v5h-1zM81 136h1v4h-1zM86 165h1v5h-1z"/>
<path fill="#fc6c6c" d="M85 58h1v5h-1zM89 58h1v5h-1zM89 77h1v5h-1zM56 87h1v5h-1zM94 87h1v5h-1zM64 92h1v5h-1zM64 106h1v5h-1zM56 121h1v5h-1zM64 121h1v5h-1zM64 126h1v5h-1zM94 126h1v5h-1zM83 136h1v4h-1zM64 150h2v5h-2zM64 160h1v5h-1zM76 184h1v5h-1zM64 189h1v5h-1z"/>
<path fill="#e4b4d8" d="M87 58h1v5h-1zM60 87h1v5h-1zM55 102h1v4h-1zM88 116h1v5h-1zM55 145h1v5h-1zM86 170h1v4h-1z"/>
<path fill="#e47890" d="M90 58h1v5h-1zM77 77h1v5h-1zM94 97h1v5h-1zM69 111h1v5h-1zM82 111h1v5h-1zM77 131h1v5h-1zM82 155h1v5h-1zM76 170h1v4h-1zM89 184h1v5h-1z"/>
<path fill="#9078e4" d="M91 58h1v5h-1zM91 77h1v5h-1z"/>
<path fill="#906ce4" d="M96 58h1v5h-1zM96 72h1v5h-1zM96 116h1v5h-1z"/>
<path fill="#d878a8" d="M55 63h1v5h-1zM70 116h1v5h-1zM78 121h1v5h-1z"/>
<path fill="#f03c48" d="M56 63h1v5h-1zM66 136h1v4h-1zM80 160h1v5h-1zM66 170h1v4h-1zM83 170h1v4h-1zM66 179h1v5h-1zM83 184h1v5h-1z"/>
<path fill="#f09090" d="M57 63h1v5h-1z"/>
<path fill="#b49ce4" d="M62 63h1v5h-1zM70 87h1v5h-1zM86 87h1v5h-1zM88 92h1v5h-1zM92 97h1v5h-1zM96 131h1v5h-1zM59 145h1v5h-1zM91 179h1v5h-1z"/>
<path fill="#6c3ccc" d="M67 63h1v5h-1z"/>
<path fill="#e49cb4" d="M69 63h1v5h-1zM73 63h1v5h-1zM82 68h1v4h-1zM55 77h1v5h-1zM90 77h1v5h-1zM73 97h1v5h-1zM84 97h1v5h-1zM95 102h1v4h-1zM57 106h1v5h-1zM84 106h1v5h-1zM70 111h1v5h-1zM84 131h1v5h-1zM68 136h1v4h-1zM55 160h1v5h-1zM74 184h1v5h-1zM85 184h1v5h-1z"/>
<path fill="#b45490" d="M70 63h1v5h-1z"/>
<path fill="#d8a8d8" d="M72 63h1v5h-1zM87 68h1v4h-1zM81 126h1v5h-1zM61 140h1v5h-1zM91 150h1v5h-1zM95 160h1v5h-1zM54 184h1v5h-1zM87 189h1v5h-1z"/>
<path fill="#fcc0c0" d="M76 63h1v5h-1zM81 87h1v5h-1zM82 97h1v5h-1zM89 102h1v4h-1zM81 106h1v5h-1zM63 111h1v5h-1zM88 111h1v5h-1zM75 116h1v5h-1zM89 126h1v5h-1zM89 131h1v5h-1zM88 140h1v5h-1zM74 150h1v5h-1zM78 150h1v5h-1zM57 155h1v5h-1zM77 155h1v5h-1zM84 179h1v5h-1z"/>
<path fill="#cc5484" d="M79 63h1v5h-1z"/>
<path fill="#fc909c" d="M84 63h1v5h-1zM74 72h1v5h-1zM85 82h1v5h-1zM57 92h1v5h-1zM82 140h1v5h-1zM58 150h1v5h-1zM69 189h1v5h-1z"/>
<path fill="#fc6c78" d="M85 63h1v5h-1zM63 68h1v4h-1zM75 189h1v5h-1z"/>
<path fill="#d8a8c0" d="M86 63h1v5h-1z"/>
<path fill="#e4cce4" d="M87 63h1v5h-1zM72 68h1v4h-1zM58 72h1v5h-1zM88 87h1v5h-1zM60 97h1v5h-1zM87 106h1v5h-1zM54 111h1v5h-1zM54 131h1v5h-1zM52 136h1v4h-1zM54 136h1v4h-1zM86 136h1v4h-1zM90 136h1v4h-1zM87 140h1v5h-1zM74 160h1v5h-1zM59 179h1v5h-1zM59 184h1v5h-1zM72 184h1v5h-1z"/>
<path fill="#f06c84" d="M90 63h1v5h-1zM56 106h1v5h-1zM57 111h1v5h-1zM63 145h1v5h-1zM79 150h1v5h-1z"/>
<path fill="#a878cc" d="M91 63h1v5h-1zM92 68h1v4h-1zM81 150h1v5h-1zM86 179h1v5h-1z"/>
<path fill="#c0b4f0" d="M92 63h1v5h-1zM54 72h1v5h-1zM54 77h1v5h-1zM71 77h1v5h-1zM53 87h1v5h-1zM61 102h1v4h-1zM92 102h1v4h-1zM92 106h1v5h-1zM40 111h1v5h-1zM92 111h1v5h-1zM50 121h1v5h-1zM53 121h1v5h-1zM60 131h1v5h-1zM71 140h1v5h-1zM53 145h1v5h-1zM54 160h1v5h-1zM60 160h1v5h-1zM71 160h1v5h-1zM71 165h1v5h-1zM62 174h1v5h-1zM97 189h1v5h-1z"/>
<path fill="#9c6cd8" d="M96 63h1v5h-1zM78 102h1v4h-1z"/>
<path fill="#d86c90" d="M97 63h1v5h-1zM89 82h1v5h-1zM85 106h1v5h-1zM82 126h1v5h-1z"/>
<path fill="#e4d8f0" d="M54 68h1v4h-1zM59 106h1v5h-1zM52 111h1v5h-1zM53 140h1v5h-1zM38 145h1v5h-1zM72 165h1v5h-1zM53 174h1v5h-1z"/>
<path fill="#d8c0f0" d="M59 68h1v4h-1zM62 87h1v5h-1zM59 116h1v5h-1zM61 116h1v5h-1zM72 174h1v5h-1z"/>
<path fill="#ccb4d8" d="M62 68h1v4h-1zM88 184h1v5h-1z"/>
<path fill="#f0303c" d="M66 68h1v4h-1zM80 92h1v5h-1zM66 106h1v5h-1zM66 116h1v5h-1zM83 126h1v5h-1zM83 160h1v5h-1zM66 184h1v5h-1z"/>
<path fill="#cc84c0" d="M67 68h1v4h-1z"/>
<path fill="#f0546c" d="M69 68h1v4h-1zM83 131h1v5h-1zM83 150h1v5h-1zM66 174h1v5h-1z"/>
<path fill="#c0549c" d="M70 68h1v4h-1zM79 189h1v5h-1z"/>
<path fill="#fca8a8" d="M73 68h1v4h-1zM88 77h1v5h-1zM82 87h1v5h-1zM89 111h1v5h-1zM76 116h1v5h-1zM93 126h1v5h-1zM56 136h1v4h-1zM94 150h1v5h-1zM76 155h1v5h-1zM84 155h1v5h-1zM57 160h1v5h-1zM57 170h1v4h-1z"/>
<path fill="#fcccd8" d="M76 68h1v4h-1zM58 155h1v5h-1z"/>
<path fill="#a878d8" d="M81 68h1v4h-1zM91 116h1v5h-1z"/>
<path fill="#8448c0" d="M91 68h1v4h-1z"/>
<path fill="#b478c0" d="M93 68h1v4h-1zM67 106h1v5h-1zM67 116h1v5h-1zM93 116h1v5h-1zM97 121h1v5h-1zM62 126h1v5h-1zM82 131h1v5h-1zM67 155h1v5h-1zM67 165h1v5h-1zM55 189h1v5h-1z"/>
<path fill="#a884d8" d="M96 68h1v4h-1zM91 72h1v5h-1zM97 77h1v5h-1zM92 92h1v5h-1zM67 145h1v5h-1zM71 170h1v4h-1zM79 174h1v5h-1zM92 174h1v5h-1zM62 189h1v5h-1z"/>
<path fill="#f0e4f0" d="M59 72h1v5h-1zM88 97h1v5h-1zM37 126h1v5h-1z"/>
<path fill="#7848d8" d="M62 72h1v5h-1z"/>
<path fill="#cc9cc0" d="M67 72h1v5h-1z"/>
<path fill="#f06c78" d="M69 72h1v5h-1zM83 87h1v5h-1zM80 102h1v4h-1zM85 116h1v5h-1zM63 121h1v5h-1zM73 131h1v5h-1zM94 131h1v5h-1zM80 140h1v5h-1zM66 155h1v5h-1zM80 155h1v5h-1zM63 170h1v4h-1zM56 174h1v5h-1zM83 174h1v5h-1zM94 184h1v5h-1z"/>
<path fill="#c06ca8" d="M79 72h1v5h-1zM79 102h1v4h-1zM78 140h1v5h-1zM55 184h1v5h-1z"/>
<path fill="#b478b4" d="M81 72h1v5h-1zM95 184h1v5h-1z"/>
<path fill="#fc303c" d="M83 72h1v5h-1zM83 92h1v5h-1zM83 102h1v4h-1zM83 165h1v5h-1zM64 179h1v5h-1z"/>
<path fill="#e4c0e4" d="M87 72h1v5h-1zM72 97h1v5h-1zM87 116h1v5h-1zM54 174h1v5h-1z"/>
<path fill="#cc84b4" d="M97 72h1v5h-1zM73 82h1v5h-1zM90 82h1v5h-1zM92 82h1v5h-1zM59 87h1v5h-1zM78 92h1v5h-1zM60 102h1v4h-1zM84 111h1v5h-1zM93 131h1v5h-1zM84 145h1v5h-1zM78 170h1v4h-1zM84 189h1v5h-1z"/>
<path fill="#f0f0fc" d="M37 77h1v5h-1zM37 106h1v5h-1z"/>
<path fill="#f0d8f0" d="M38 77h1v5h-1zM71 106h1v5h-1zM53 136h1v4h-1z"/>
<path fill="#6030d8" d="M62 77h1v5h-1z"/>
<path fill="#d8243c" d="M63 77h1v5h-1z"/>
<path fill="#fc1818" d="M65 77h1v5h-1zM65 82h1v5h-1zM65 189h1v5h-1z"/>
<path fill="#d89ccc" d="M70 77h1v5h-1zM73 87h1v5h-1zM97 92h1v5h-1zM86 116h1v5h-1zM81 189h1v5h-1z"/>
<path fill="#cca8e4" d="M72 77h1v5h-1zM54 92h1v5h-1zM96 106h1v5h-1zM54 145h1v5h-1zM54 179h1v5h-1z"/>
<path fill="#fcc0cc" d="M75 77h1v5h-1zM63 87h1v5h-1zM69 102h1v4h-1zM88 106h1v5h-1zM58 116h1v5h-1zM93 145h1v5h-1zM93 150h1v5h-1z"/>
<path fill="#d8c0d8" d="M81 77h1v5h-1z"/>
<path fill="#d884b4" d="M84 77h1v5h-1zM84 82h1v5h-1zM70 97h1v5h-1zM93 121h1v5h-1zM68 140h1v5h-1zM84 174h1v5h-1z"/>
<path fill="#cc90cc" d="M92 77h1v5h-1zM95 97h1v5h-1zM67 136h1v4h-1zM91 140h1v5h-1zM87 170h1v4h-1z"/>
<path fill="#846cf0" d="M96 77h1v5h-1z"/>
<path fill="#fc2430" d="M66 82h1v5h-1z"/>
<path fill="#e4849c" d="M67 82h2v5h-2zM89 92h1v5h-1zM82 102h1v4h-1zM84 102h1v4h-1zM89 116h1v5h-1zM95 126h1v5h-1zM63 131h1v5h-1zM97 150h1v5h-1zM79 155h1v5h-1zM82 160h1v5h-1zM84 165h1v5h-1zM88 174h1v5h-1zM95 174h1v5h-1zM90 184h1v5h-1zM70 189h1v5h-1z"/>
<path fill="#e4789c" d="M77 82h1v5h-1zM85 87h1v5h-1zM90 92h1v5h-1zM77 106h1v5h-1zM76 160h1v5h-1zM79 184h1v5h-1z"/>
<path fill="#9c6ccc" d="M78 82h1v5h-1zM93 170h1v4h-1z"/>
<path fill="#b460b4" d="M79 82h1v5h-1z"/>
<path fill="#f0d8e4" d="M87 82h1v5h-1zM72 111h1v5h-1zM57 179h1v5h-1z"/>
<path fill="#c09ce4" d="M97 82h1v5h-1zM78 87h1v5h-1zM87 179h1v5h-1z"/>
<path fill="#c0b4fc" d="M61 87h1v5h-1zM60 121h1v5h-1zM61 136h1v4h-1zM39 179h1v5h-1z"/>
<path fill="#cc609c" d="M68 87h1v5h-1z"/>
<path fill="#9090f0" d="M72 87h1v5h-1z"/>
<path fill="#b484d8" d="M79 87h1v5h-1zM91 170h1v4h-1z"/>
<path fill="#c090c0" d="M84 87h1v5h-1zM86 150h1v5h-1zM68 160h1v5h-1z"/>
<path fill="#6c60fc" d="M51 92h1v5h-1z"/>
<path fill="#d89cb4" d="M59 92h1v5h-1zM89 179h1v5h-1z"/>
<path fill="#f01830" d="M66 92h1v5h-1zM66 111h1v5h-1z"/>
<path fill="#cc6c9c" d="M68 92h1v5h-1zM95 116h1v5h-1zM86 121h1v5h-1zM86 126h1v5h-1zM95 179h1v5h-1z"/>
<path fill="#f06078" d="M69 92h1v5h-1zM90 170h1v4h-1zM94 170h1v4h-1zM63 184h1v5h-1zM56 189h1v5h-1zM68 189h1v5h-1z"/>
<path fill="#c060a8" d="M70 92h1v5h-1zM70 174h1v5h-1z"/>
<path fill="#b460a8" d="M79 92h1v5h-1z"/>
<path fill="#9084f0" d="M87 92h1v5h-1zM71 126h1v5h-1zM62 160h1v5h-1zM37 165h1v5h-1zM92 189h1v5h-1z"/>
<path fill="#d86c9c" d="M95 92h1v5h-1zM79 136h1v4h-1z"/>
<path fill="#e4ccf0" d="M54 97h1v5h-1zM71 111h1v5h-1zM91 155h1v5h-1zM72 160h1v5h-1z"/>
<path fill="#c0b4e4" d="M61 97h1v5h-1z"/>
<path fill="#8478f0" d="M96 97h1v5h-1zM96 102h1v4h-1zM96 160h1v5h-1zM96 170h1v4h-1z"/>
<path fill="#f03030" d="M66 102h1v4h-1z"/>
<path fill="#cca8cc" d="M70 102h1v4h-1zM86 140h1v5h-1z"/>
<path fill="#b49cf0" d="M91 102h1v4h-1zM62 150h1v5h-1zM37 160h1v5h-1z"/>
<path fill="#fc8490" d="M94 102h1v4h-1zM85 165h1v5h-1z"/>
<path fill="#f0e4fc" d="M52 106h1v5h-1zM87 136h1v4h-1z"/>
<path fill="#9c54b4" d="M68 111h1v5h-1z"/>
<path fill="#b44890" d="M79 111h1v5h-1z"/>
<path fill="#9c489c" d="M95 111h1v5h-1z"/>
<path fill="#b4b4f0" d="M53 116h1v5h-1z"/>
<path fill="#a860b4" d="M68 116h1v5h-1zM68 131h1v5h-1z"/>
<path fill="#e46c90" d="M78 116h1v5h-1zM79 121h1v5h-1z"/>
<path fill="#a86cb4" d="M97 116h1v5h-1z"/>
<path fill="#fcfcfc" d="M37 121h1v5h-1zM37 189h1v5h-1z"/>
<path fill="#9084fc" d="M51 121h1v5h-1z"/>
<path fill="#b478cc" d="M62 121h1v5h-1z"/>
<path fill="#8454cc" d="M67 121h1v5h-1zM67 160h1v5h-1z"/>
<path fill="#b490e4" d="M68 121h1v5h-1zM59 126h1v5h-1z"/>
<path fill="#e49cc0" d="M70 121h1v5h-1zM81 145h1v5h-1zM92 165h1v5h-1zM90 179h1v5h-1z"/>
<path fill="#d86084" d="M82 121h1v5h-1zM79 126h1v5h-1zM79 145h1v5h-1z"/>
<path fill="#e4303c" d="M83 121h1v5h-1z"/>
<path fill="#c0609c" d="M84 121h1v5h-1zM78 165h1v5h-1zM70 170h1v4h-1z"/>
<path fill="#e41830" d="M66 126h1v5h-1z"/>
<path fill="#783cc0" d="M67 126h1v5h-1z"/>
<path fill="#9054cc" d="M68 126h1v5h-1z"/>
<path fill="#a884e4" d="M72 126h1v5h-1z"/>
<path fill="#a86ccc" d="M91 126h1v5h-1z"/>
<path fill="#9c78e4" d="M96 126h1v5h-1z"/>
<path fill="#c078c0" d="M97 126h1v5h-1zM67 131h1v5h-1z"/>
<path fill="#fce4f0" d="M37 131h1v5h-1z"/>
<path fill="#7860e4" d="M62 131h1v5h-1z"/>
<path fill="#cc78b4" d="M76 131h1v5h-1z"/>
<path fill="#b43084" d="M79 131h1v5h-1z"/>
<path fill="#e49ca8" d="M92 131h1v5h-1z"/>
<path fill="#e4d8fc" d="M38 136h1v4h-1z"/>
<path fill="#a890f0" d="M72 136h1v4h-1z"/>
<path fill="#d8849c" d="M73 136h1v4h-1z"/>
<path fill="#f04860" d="M63 140h1v5h-1zM77 160h1v5h-1z"/>
<path fill="#f01824" d="M66 140h1v5h-1z"/>
<path fill="#b454a8" d="M67 140h1v5h-1z"/>
<path fill="#d890c0" d="M81 140h1v5h-1zM84 170h1v4h-1zM86 174h1v5h-1z"/>
<path fill="#c090d8" d="M96 140h1v5h-1z"/>
<path fill="#e46084" d="M85 145h1v5h-1z"/>
<path fill="#c090cc" d="M90 145h1v5h-1zM68 155h1v5h-1zM93 184h1v5h-1z"/>
<path fill="#c0c0f0" d="M37 150h1v5h-1z"/>
<path fill="#ccccf0" d="M60 150h1v5h-1zM72 155h1v5h-1z"/>
<path fill="#e4546c" d="M66 150h1v5h-1z"/>
<path fill="#b490cc" d="M68 150h1v5h-1z"/>
<path fill="#e4c0cc" d="M93 155h1v5h-1z"/>
<path fill="#cc6090" d="M78 160h1v5h-1z"/>
<path fill="#d8b4cc" d="M87 160h1v5h-1z"/>
<path fill="#f0e4e4" d="M54 165h1v5h-1z"/>
<path fill="#6c48d8" d="M62 165h1v5h-1z"/>
<path fill="#9c3c9c" d="M79 165h1v5h-1z"/>
<path fill="#f0cce4" d="M54 170h1v4h-1z"/>
<path fill="#f0b4b4" d="M58 170h1v4h-1z"/>
<path fill="#9c54c0" d="M67 170h1v4h-1z"/>
<path fill="#9c2484" d="M79 170h1v4h-1z"/>
<path fill="#d86090" d="M70 179h1v5h-1zM70 184h1v5h-1z"/>
<path fill="#cc90b4" d="M81 179h1v5h-1z"/>
<path fill="#9084e4" d="M91 184h1v5h-1z"/>
<path fill="#f00c24" d="M66 189h1v5h-1z"/>
<path fill="#a83c9c" d="M67 189h1v5h-1z"/>
<path fill="#9078f0" d="M91 189h1v5h-1z"/>
<path fill="#a854a8" d="M95 189h1v5h-1z"/>
<rect x="37.2" y="29.8" width="16.2" height="7.6" fill="#ffff00"/>
<rect x="53.4" y="29.8" width="45.1" height="7.6" fill="#ffa500"/>
<text x="99.6" y="43.53" font-size="6.3" fill="#000" stroke="#000" stroke-width="0.12" text-anchor="start" >CD274</text>
<text x="99.6" y="48.38" font-size="6.3" fill="#000" stroke="#000" stroke-width="0.12" text-anchor="start" >FCGR1A</text>
<text x="99.6" y="53.23" font-size="6.3" fill="#000" stroke="#000" stroke-width="0.12" text-anchor="start" >SOCS3</text>
<text x="99.6" y="58.09" font-size="6.3" fill="#000" stroke="#000" stroke-width="0.12" text-anchor="start" >TLR5</text>
<text x="99.6" y="62.94" font-size="6.3" fill="#000" stroke="#000" stroke-width="0.12" text-anchor="start" >LY96</text>
<text x="99.6" y="67.79" font-size="6.3" fill="#000" stroke="#000" stroke-width="0.12" text-anchor="start" >IL1R1</text>
<text x="99.6" y="72.65" font-size="6.3" fill="#000" stroke="#000" stroke-width="0.12" text-anchor="start" >TLR2</text>
<text x="99.6" y="77.5" font-size="6.3" fill="#000" stroke="#000" stroke-width="0.12" text-anchor="start" >NLRP3</text>
<text x="99.6" y="82.35" font-size="6.3" fill="#000" stroke="#000" stroke-width="0.12" text-anchor="start" >TLR8</text>
<text x="99.6" y="87.2" font-size="6.3" fill="#000" stroke="#000" stroke-width="0.12" text-anchor="start" >TLR4</text>
<text x="99.6" y="92.06" font-size="6.3" fill="#000" stroke="#000" stroke-width="0.12" text-anchor="start" >ITGAM</text>
<text x="99.6" y="96.91" font-size="6.3" fill="#000" stroke="#000" stroke-width="0.12" text-anchor="start" >LAMP1</text>
<text x="99.6" y="101.76" font-size="6.3" fill="#000" stroke="#000" stroke-width="0.12" text-anchor="start" >ICAM1</text>
<text x="99.6" y="106.62" font-size="6.3" fill="#000" stroke="#000" stroke-width="0.12" text-anchor="start" >LILRB2</text>
<text x="99.6" y="111.47" font-size="6.3" fill="#000" stroke="#000" stroke-width="0.12" text-anchor="start" >ITGAX</text>
<text x="99.6" y="116.32" font-size="6.3" fill="#000" stroke="#000" stroke-width="0.12" text-anchor="start" >IL1B</text>
<text x="99.6" y="121.18" font-size="6.3" fill="#000" stroke="#000" stroke-width="0.12" text-anchor="start" >FCGR3B</text>
<text x="99.6" y="126.03" font-size="6.3" fill="#000" stroke="#000" stroke-width="0.12" text-anchor="start" >CXCR2</text>
<text x="99.6" y="130.88" font-size="6.3" fill="#000" stroke="#000" stroke-width="0.12" text-anchor="start" >STAT3</text>
<text x="99.6" y="135.74" font-size="6.3" fill="#000" stroke="#000" stroke-width="0.12" text-anchor="start" >IL6R</text>
<text x="99.6" y="140.59" font-size="6.3" fill="#000" stroke="#000" stroke-width="0.12" text-anchor="start" >NCF2</text>
<text x="99.6" y="145.44" font-size="6.3" fill="#000" stroke="#000" stroke-width="0.12" text-anchor="start" >NCF4</text>
<text x="99.6" y="150.3" font-size="6.3" fill="#000" stroke="#000" stroke-width="0.12" text-anchor="start" >SPI1</text>
<text x="99.6" y="155.15" font-size="6.3" fill="#000" stroke="#000" stroke-width="0.12" text-anchor="start" >TNFRSF1A</text>
<text x="99.6" y="160" font-size="6.3" fill="#000" stroke="#000" stroke-width="0.12" text-anchor="start" >MYD88</text>
<text x="99.6" y="164.85" font-size="6.3" fill="#000" stroke="#000" stroke-width="0.12" text-anchor="start" >SELL</text>
<text x="99.6" y="169.71" font-size="6.3" fill="#000" stroke="#000" stroke-width="0.12" text-anchor="start" >FAS</text>
<text x="99.6" y="174.56" font-size="6.3" fill="#000" stroke="#000" stroke-width="0.12" text-anchor="start" >TLR1</text>
<text x="99.6" y="179.41" font-size="6.3" fill="#000" stroke="#000" stroke-width="0.12" text-anchor="start" >TLR6</text>
<text x="99.6" y="184.27" font-size="6.3" fill="#000" stroke="#000" stroke-width="0.12" text-anchor="start" >PTPRC</text>
<text x="99.6" y="189.12" font-size="6.3" fill="#000" stroke="#000" stroke-width="0.12" text-anchor="start" >ENTPD1</text>
<text x="99.6" y="193.97" font-size="6.3" fill="#000" stroke="#000" stroke-width="0.12" text-anchor="start" >CXCL1</text>
<text x="99.8" y="36.3" font-size="6.2" fill="#000" stroke="#000" stroke-width="0.12" text-anchor="start" >Group</text>
<path fill="none" stroke="#444" stroke-width="0.6" d="M32.32 45.78V50.63M32.32 45.78H36.8M32.32 50.63H36.8M31.04 40.93V48.21M31.04 40.93H36.8M31.04 48.21H32.32M32.32 60.34V65.19M32.32 60.34H36.8M32.32 65.19H36.8M31.04 62.77V70.05M31.04 62.77H32.32M31.04 70.05H36.8M29.76 66.41V74.9M29.76 66.41H31.04M29.76 74.9H36.8M28.48 70.65V79.75M28.48 70.65H29.76M28.48 79.75H36.8M27.2 55.49V75.2M27.2 55.49H36.8M27.2 75.2H28.48M32.32 89.46V94.31M32.32 89.46H36.8M32.32 94.31H36.8M32.32 99.16V104.02M32.32 99.16H36.8M32.32 104.02H36.8M32.32 108.87V113.72M32.32 108.87H36.8M32.32 113.72H36.8M31.04 111.3V118.58M31.04 111.3H32.32M31.04 118.58H36.8M29.76 101.59V114.94M29.76 101.59H32.32M29.76 114.94H31.04M32.32 133.14V137.99M32.32 133.14H36.8M32.32 137.99H36.8M31.04 128.28V135.56M31.04 128.28H36.8M31.04 135.56H32.32M29.76 123.43V131.92M29.76 123.43H36.8M29.76 131.92H31.04M32.32 142.84V147.7M32.32 142.84H36.8M32.32 147.7H36.8M31.04 145.27V152.55M31.04 145.27H32.32M31.04 152.55H36.8M32.32 157.4V162.25M32.32 157.4H36.8M32.32 162.25H36.8M29.76 148.91V159.83M29.76 148.91H31.04M29.76 159.83H32.32M28.48 127.68V154.37M28.48 127.68H29.76M28.48 154.37H29.76M27.2 108.26V141.02M27.2 108.26H29.76M27.2 141.02H28.48M25.92 91.88V124.64M25.92 91.88H32.32M25.92 124.64H27.2M24.64 84.6V108.26M24.64 84.6H36.8M24.64 108.26H25.92M23.36 65.34V96.43M23.36 65.34H27.2M23.36 96.43H24.64M22.08 44.57V80.89M22.08 44.57H31.04M22.08 80.89H23.36M32.32 176.81V181.67M32.32 176.81H36.8M32.32 181.67H36.8M32.32 186.52V191.37M32.32 186.52H36.8M32.32 191.37H36.8M31.04 179.24V188.95M31.04 179.24H32.32M31.04 188.95H32.32M29.76 171.96V184.09M29.76 171.96H36.8M29.76 184.09H31.04M28.48 167.11V178.03M28.48 167.11H36.8M28.48 178.03H29.76M20.8 62.73V172.57M20.8 62.73H22.08M20.8 172.57H28.48"/>
<path fill="#fcc0c0" d="M152 38h3v5h-3zM153 53h1v5h-1zM158 58h1v5h-1zM161 58h1v5h-1zM171 58h1v5h-1zM174 58h1v5h-1zM164 63h1v5h-1zM181 63h1v5h-1zM195 63h1v5h-1zM185 68h1v4h-1zM169 92h2v5h-2zM176 92h1v5h-1zM174 97h1v5h-1zM179 97h2v5h-2zM171 102h1v4h-1zM171 111h1v5h-1zM174 116h1v5h-1zM170 121h1v5h-1zM176 126h1v5h-1zM176 131h1v5h-1zM164 136h1v4h-1zM172 140h2v5h-2zM174 145h1v5h-1zM175 150h1v5h-1zM177 165h1v5h-1zM169 184h1v5h-1zM175 189h1v5h-1z"/>
<path fill="#fc9090" d="M155 38h1v5h-1zM153 43h2v5h-2zM165 43h1v5h-1zM167 43h1v5h-1zM153 58h1v5h-1zM164 58h1v5h-1zM165 63h1v5h-1zM157 68h1v4h-1zM172 97h1v5h-1zM176 106h1v5h-1zM153 111h1v5h-1zM167 111h2v5h-2zM178 111h1v5h-1zM175 116h2v5h-2zM158 121h1v5h-1zM164 121h1v5h-1zM166 121h1v5h-1zM156 126h1v5h-1zM160 126h1v5h-1zM167 131h2v5h-2zM170 131h1v5h-1zM166 136h1v4h-1zM179 136h1v4h-1zM174 140h1v5h-1zM160 145h1v5h-1zM170 150h1v5h-1zM159 155h2v5h-2zM174 155h1v5h-1zM174 160h2v5h-2zM152 170h1v4h-1zM158 174h1v5h-1zM156 184h1v5h-1zM158 184h1v5h-1zM174 184h1v5h-1zM158 189h1v5h-1zM170 189h1v5h-1z"/>
<path fill="#fc6c6c" d="M156 38h1v5h-1zM158 38h1v5h-1zM162 38h1v5h-1zM163 43h1v5h-1zM156 48h1v5h-1zM156 53h1v5h-1zM155 58h1v5h-1zM165 58h1v5h-1zM158 68h1v4h-1zM155 72h1v5h-1zM208 72h1v5h-1zM153 77h1v5h-1zM169 77h1v5h-1zM160 82h2v5h-2zM164 87h1v5h-1zM170 87h1v5h-1zM158 92h1v5h-1zM166 97h1v5h-1zM154 111h1v5h-1zM162 111h1v5h-1zM153 116h1v5h-1zM157 116h1v5h-1zM170 116h1v5h-1zM157 121h1v5h-1zM168 121h1v5h-1zM157 126h1v5h-1zM156 136h1v4h-1zM161 136h1v4h-1zM168 136h1v4h-1zM159 145h1v5h-1zM163 150h1v5h-1zM166 150h2v5h-2zM152 155h1v5h-1zM157 155h1v5h-1zM164 160h1v5h-1zM174 170h1v4h-1zM156 174h2v5h-2zM169 179h1v5h-1zM167 184h1v5h-1zM173 184h1v5h-1zM159 189h1v5h-1zM161 189h2v5h-2z"/>
<path fill="#fc6060" d="M157 38h1v5h-1zM164 43h1v5h-1zM164 48h1v5h-1zM161 53h1v5h-1zM165 53h1v5h-1zM160 58h1v5h-1zM166 58h1v5h-1zM153 72h1v5h-1zM166 72h1v5h-1zM160 77h1v5h-1zM168 77h1v5h-1zM159 82h1v5h-1zM156 92h1v5h-1zM161 92h1v5h-1zM168 92h1v5h-1zM164 97h1v5h-1zM152 102h1v4h-1zM157 106h1v5h-1zM170 106h1v5h-1zM175 111h1v5h-1zM161 116h1v5h-1zM166 116h1v5h-1zM153 121h1v5h-1zM159 121h1v5h-1zM167 121h1v5h-1zM159 126h1v5h-1zM171 131h1v5h-1zM162 136h1v4h-1zM167 140h1v5h-1zM153 145h1v5h-1zM157 145h1v5h-1zM162 150h1v5h-1zM164 150h2v5h-2zM162 165h1v5h-1zM171 170h1v4h-1zM155 174h1v5h-1zM168 174h1v5h-1zM157 184h1v5h-1zM170 184h1v5h-1zM172 184h1v5h-1zM160 189h1v5h-1z"/>
<path fill="#fc7878" d="M159 38h2v5h-2zM168 43h2v5h-2zM155 48h1v5h-1zM157 48h2v5h-2zM154 58h1v5h-1zM175 58h1v5h-1zM161 63h1v5h-1zM153 68h1v4h-1zM163 68h1v4h-1zM176 68h1v4h-1zM165 82h1v5h-1zM154 87h1v5h-1zM156 87h1v5h-1zM154 92h1v5h-1zM160 92h1v5h-1zM175 92h1v5h-1zM165 97h1v5h-1zM155 102h1v4h-1zM163 111h1v5h-1zM166 111h1v5h-1zM165 116h1v5h-1zM153 126h1v5h-1zM168 126h1v5h-1zM173 131h1v5h-1zM153 136h1v4h-1zM158 136h1v4h-1zM152 165h1v5h-1zM155 165h1v5h-1zM163 165h1v5h-1zM165 174h1v5h-1zM156 179h1v5h-1zM170 179h1v5h-1zM159 184h1v5h-1z"/>
<path fill="#fc4848" d="M161 38h1v5h-1zM168 48h1v5h-1zM162 53h1v5h-1zM164 68h1v4h-1zM156 72h1v5h-1zM158 72h2v5h-2zM161 72h1v5h-1zM165 77h1v5h-1zM157 82h1v5h-1zM162 82h1v5h-1zM164 82h1v5h-1zM170 82h1v5h-1zM153 87h1v5h-1zM161 87h1v5h-1zM164 92h1v5h-1zM158 97h3v5h-3zM154 102h1v4h-1zM156 102h1v4h-1zM171 106h1v5h-1zM156 111h2v5h-2zM154 126h1v5h-1zM164 126h1v5h-1zM158 145h1v5h-1zM169 145h1v5h-1zM153 150h1v5h-1zM161 150h1v5h-1zM176 150h1v5h-1zM163 155h2v5h-2zM152 160h1v5h-1zM153 170h1v4h-1zM155 170h1v4h-1zM160 170h1v4h-1zM163 170h1v4h-1zM169 170h2v4h-2zM175 170h1v4h-1zM152 174h1v5h-1zM158 179h1v5h-1zM165 179h1v5h-1zM164 184h1v5h-1zM171 184h1v5h-1zM152 189h1v5h-1z"/>
<path fill="#fca8a8" d="M163 38h1v5h-1zM173 43h1v5h-1zM152 58h1v5h-1zM180 68h1v4h-1zM170 77h1v5h-1zM179 87h1v5h-1zM152 111h1v5h-1zM164 111h1v5h-1zM177 111h1v5h-1zM158 116h1v5h-1zM164 116h1v5h-1zM177 116h1v5h-1zM165 121h1v5h-1zM152 131h1v5h-1zM173 145h1v5h-1zM175 145h1v5h-1zM170 160h1v5h-1zM176 170h2v4h-2zM197 174h1v5h-1zM155 184h1v5h-1zM171 189h1v5h-1zM173 189h1v5h-1z"/>
<path fill="#fcd8e4" d="M164 38h1v5h-1zM154 48h1v5h-1zM170 68h1v4h-1zM169 126h1v5h-1zM157 189h1v5h-1z"/>
<path fill="#fc909c" d="M165 38h1v5h-1z"/>
<path fill="#fc2424" d="M166 38h1v5h-1zM160 43h1v5h-1zM168 53h1v5h-1zM165 68h1v4h-1zM167 68h1v4h-1zM169 72h1v5h-1zM157 77h1v5h-1zM162 77h2v5h-2zM163 82h1v5h-1zM168 82h1v5h-1zM152 92h1v5h-1zM157 92h1v5h-1zM163 97h1v5h-1zM162 102h1v4h-1zM165 102h1v4h-1zM153 106h1v5h-1zM159 106h1v5h-1zM158 111h1v5h-1zM152 121h1v5h-1zM155 121h1v5h-1zM167 126h1v5h-1zM172 131h1v5h-1zM154 136h2v4h-2zM163 140h1v5h-1zM161 145h1v5h-1zM172 145h1v5h-1zM156 150h1v5h-1zM159 150h1v5h-1zM161 155h2v5h-2zM167 155h1v5h-1zM153 160h1v5h-1zM165 170h1v4h-1zM168 170h1v4h-1zM155 179h1v5h-1zM159 179h2v5h-2zM162 184h1v5h-1zM165 189h1v5h-1zM169 189h1v5h-1z"/>
<path fill="#fc0000" d="M167 38h1v5h-1zM159 43h1v5h-1zM158 53h2v5h-2zM155 77h1v5h-1zM152 82h1v5h-1zM167 87h1v5h-1zM152 97h3v5h-3zM158 102h3v4h-3zM152 106h1v5h-1zM162 106h1v5h-1zM164 106h2v5h-2zM152 116h1v5h-1zM161 121h2v5h-2zM155 140h1v5h-1zM162 145h1v5h-1zM152 150h1v5h-1zM161 160h2v5h-2zM167 160h1v5h-1zM168 165h1v5h-1zM161 174h1v5h-1zM152 179h3v5h-3zM162 179h2v5h-2zM152 184h1v5h-1z"/>
<path fill="#fc0c0c" d="M168 38h1v5h-1zM166 68h1v4h-1zM164 72h1v5h-1zM154 77h1v5h-1zM158 77h1v5h-1zM153 82h1v5h-1zM169 82h1v5h-1zM158 87h1v5h-1zM166 87h1v5h-1zM166 92h1v5h-1zM162 97h1v5h-1zM157 102h1v4h-1zM166 102h1v4h-1zM161 106h1v5h-1zM163 106h1v5h-1zM166 106h1v5h-1zM163 126h1v5h-1zM154 131h1v5h-1zM156 140h6v5h-6zM164 140h1v5h-1zM163 145h1v5h-1zM157 150h1v5h-1zM166 160h1v5h-1zM168 160h1v5h-1zM167 165h1v5h-1zM160 174h1v5h-1zM161 179h1v5h-1zM164 179h1v5h-1zM153 184h1v5h-1zM163 184h1v5h-1zM166 189h1v5h-1z"/>
<path fill="#fc3c3c" d="M169 38h1v5h-1zM160 48h1v5h-1zM162 48h1v5h-1zM156 58h1v5h-1zM166 63h1v5h-1zM168 63h1v5h-1zM160 72h1v5h-1zM162 72h1v5h-1zM172 72h1v5h-1zM161 77h1v5h-1zM166 77h1v5h-1zM156 82h1v5h-1zM162 87h1v5h-1zM169 87h1v5h-1zM162 92h1v5h-1zM165 92h1v5h-1zM164 102h1v4h-1zM167 102h3v4h-3zM154 106h1v5h-1zM156 106h1v5h-1zM155 111h1v5h-1zM160 116h1v5h-1zM158 126h1v5h-1zM161 126h1v5h-1zM165 126h1v5h-1zM156 131h1v5h-1zM165 131h1v5h-1zM159 136h1v4h-1zM167 136h1v4h-1zM152 140h1v5h-1zM165 140h1v5h-1zM167 145h1v5h-1zM171 145h1v5h-1zM153 155h1v5h-1zM155 155h1v5h-1zM156 160h1v5h-1zM169 160h1v5h-1zM156 165h1v5h-1zM165 165h1v5h-1zM153 174h2v5h-2zM163 174h1v5h-1zM166 174h1v5h-1zM167 179h2v5h-2zM161 184h1v5h-1zM153 189h2v5h-2zM164 189h1v5h-1zM167 189h1v5h-1z"/>
<path fill="#fcb4b4" d="M170 38h2v5h-2zM161 43h2v5h-2zM166 43h1v5h-1zM176 48h2v5h-2zM152 53h1v5h-1zM155 53h1v5h-1zM176 53h1v5h-1zM168 58h1v5h-1zM170 58h1v5h-1zM163 63h1v5h-1zM161 68h1v4h-1zM152 72h1v5h-1zM170 72h1v5h-1zM176 82h1v5h-1zM175 87h1v5h-1zM178 87h1v5h-1zM169 97h2v5h-2zM154 116h1v5h-1zM163 116h1v5h-1zM167 116h1v5h-1zM176 121h2v5h-2zM157 136h1v4h-1zM158 160h1v5h-1zM172 160h1v5h-1zM153 165h1v5h-1zM198 170h1v4h-1zM172 174h2v5h-2zM157 179h1v5h-1zM166 184h1v5h-1zM174 189h1v5h-1z"/>
<path fill="#e4546c" d="M172 38h1v5h-1z"/>
<path fill="#8448c0" d="M173 38h1v5h-1z"/>
<path fill="#9054c0" d="M174 38h1v5h-1z"/>
<path fill="#e47890" d="M175 38h1v5h-1zM171 82h1v5h-1z"/>
<path fill="#e4b4d8" d="M176 38h1v5h-1zM178 150h1v5h-1z"/>
<path fill="#e4e4fc" d="M177 38h1v5h-1zM179 38h1v5h-1zM187 43h1v5h-1zM171 53h1v5h-1zM209 53h1v5h-1zM201 58h1v5h-1zM209 58h1v5h-1zM172 63h2v5h-2zM184 63h1v5h-1zM193 68h1v4h-1zM173 77h1v5h-1zM175 77h1v5h-1zM185 77h1v5h-1zM207 77h1v5h-1zM209 82h1v5h-1zM196 87h1v5h-1zM199 102h1v4h-1zM201 102h1v4h-1zM186 126h1v5h-1zM187 131h1v5h-1zM172 136h2v4h-2zM196 136h1v4h-1zM196 150h1v5h-1zM201 150h1v5h-1zM197 155h1v5h-1zM183 165h1v5h-1zM208 165h1v5h-1zM187 174h1v5h-1zM209 179h1v5h-1zM185 189h1v5h-1zM188 189h1v5h-1zM199 189h1v5h-1z"/>
<path fill="#f0f0fc" d="M178 38h1v5h-1zM198 38h1v5h-1zM184 48h1v5h-1zM171 63h1v5h-1zM174 77h1v5h-1zM178 82h1v5h-1zM209 97h1v5h-1zM208 111h1v5h-1zM185 126h1v5h-1zM194 126h1v5h-1zM205 126h1v5h-1zM207 126h1v5h-1zM208 136h1v4h-1zM196 155h1v5h-1zM188 174h1v5h-1zM190 174h1v5h-1zM178 184h1v5h-1zM201 184h3v5h-3zM186 189h1v5h-1zM209 189h1v5h-1z"/>
<path fill="#b4b4fc" d="M180 38h1v5h-1zM193 38h1v5h-1zM196 38h1v5h-1zM202 38h1v5h-1zM209 43h1v5h-1zM186 48h1v5h-1zM208 53h1v5h-1zM181 58h1v5h-1zM189 58h1v5h-1zM152 63h1v5h-1zM190 63h2v5h-2zM191 68h1v4h-1zM197 72h1v5h-1zM194 77h1v5h-1zM201 77h1v5h-1zM203 77h1v5h-1zM208 77h1v5h-1zM191 87h1v5h-1zM178 92h1v5h-1zM185 97h2v5h-2zM187 102h1v4h-1zM203 102h1v4h-1zM209 106h1v5h-1zM195 116h1v5h-1zM181 121h1v5h-1zM201 121h1v5h-1zM207 131h2v5h-2zM182 136h1v4h-1zM186 136h1v4h-1zM188 140h1v5h-1zM179 145h1v5h-1zM188 145h1v5h-1zM195 145h2v5h-2zM209 145h1v5h-1zM209 150h1v5h-1zM178 155h1v5h-1zM185 155h2v5h-2zM201 155h1v5h-1zM194 160h1v5h-1zM204 160h1v5h-1zM206 160h1v5h-1zM178 174h1v5h-1zM180 174h1v5h-1zM199 174h1v5h-1zM188 179h2v5h-2zM208 179h1v5h-1z"/>
<path fill="#4848fc" d="M181 38h1v5h-1zM183 43h1v5h-1zM195 43h1v5h-1zM192 53h1v5h-1zM184 58h1v5h-1zM204 58h1v5h-1zM201 63h1v5h-1zM203 63h1v5h-1zM203 68h1v4h-1zM203 72h1v5h-1zM182 77h1v5h-1zM189 77h1v5h-1zM206 82h1v5h-1zM198 87h1v5h-1zM186 92h1v5h-1zM204 92h1v5h-1zM183 97h1v5h-1zM187 97h1v5h-1zM206 97h1v5h-1zM206 102h1v4h-1zM187 106h1v5h-1zM190 106h2v5h-2zM198 106h1v5h-1zM190 111h1v5h-1zM192 111h1v5h-1zM183 121h1v5h-1zM200 131h1v5h-1zM204 136h1v4h-1zM206 145h1v5h-1zM183 150h1v5h-1zM203 150h1v5h-1zM202 165h1v5h-1zM181 174h3v5h-3zM202 179h1v5h-1zM181 184h1v5h-1zM184 184h2v5h-2z"/>
<path fill="#3c3cfc" d="M182 38h1v5h-1zM178 43h1v5h-1zM184 53h1v5h-1zM191 53h1v5h-1zM203 53h1v5h-1zM204 68h1v4h-1zM182 82h2v5h-2zM190 92h2v5h-2zM195 97h1v5h-1zM183 102h1v4h-1zM186 102h1v4h-1zM193 106h1v5h-1zM195 106h1v5h-1zM201 106h1v5h-1zM191 111h1v5h-1zM181 131h2v5h-2zM205 131h1v5h-1zM191 140h2v5h-2zM205 140h1v5h-1zM181 145h1v5h-1zM204 145h1v5h-1zM183 170h1v4h-1zM190 170h1v4h-1zM184 179h1v5h-1zM205 179h1v5h-1zM181 189h1v5h-1zM190 189h2v5h-2z"/>
<path fill="#5454fc" d="M183 38h1v5h-1zM204 38h3v5h-3zM191 43h1v5h-1zM199 63h2v5h-2zM207 63h1v5h-1zM201 68h1v4h-1zM187 72h1v5h-1zM188 77h1v5h-1zM191 77h2v5h-2zM192 82h1v5h-1zM207 82h1v5h-1zM182 92h1v5h-1zM192 92h1v5h-1zM202 92h2v5h-2zM184 97h1v5h-1zM192 102h1v4h-1zM192 106h1v5h-1zM205 106h1v5h-1zM184 111h1v5h-1zM199 121h1v5h-1zM204 121h1v5h-1zM191 126h2v5h-2zM191 131h1v5h-1zM194 131h1v5h-1zM203 136h1v4h-1zM206 136h1v4h-1zM193 140h1v5h-1zM199 140h1v5h-1zM187 150h1v5h-1zM192 150h1v5h-1zM191 155h1v5h-1zM208 160h1v5h-1zM192 165h1v5h-1zM195 165h1v5h-1zM184 170h1v4h-1zM192 189h1v5h-1z"/>
<path fill="#7878fc" d="M184 38h1v5h-1zM207 38h1v5h-1zM194 53h1v5h-1zM197 53h1v5h-1zM206 53h1v5h-1zM190 58h1v5h-1zM206 58h1v5h-1zM204 63h1v5h-1zM180 72h1v5h-1zM182 72h2v5h-2zM185 72h2v5h-2zM188 72h1v5h-1zM201 82h1v5h-1zM204 82h1v5h-1zM182 102h1v4h-1zM193 102h1v4h-1zM207 102h1v4h-1zM203 111h1v5h-1zM182 121h1v5h-1zM193 121h1v5h-1zM183 126h1v5h-1zM197 126h1v5h-1zM199 131h1v5h-1zM202 131h1v5h-1zM187 140h1v5h-1zM207 140h1v5h-1zM186 145h1v5h-1zM191 145h1v5h-1zM197 145h1v5h-1zM203 155h2v5h-2zM184 160h1v5h-1zM193 160h1v5h-1zM197 160h1v5h-1zM204 165h1v5h-1zM204 170h1v4h-1zM192 174h1v5h-1zM182 179h1v5h-1zM186 179h1v5h-1zM190 179h1v5h-1zM193 189h1v5h-1zM202 189h1v5h-1z"/>
<path fill="#9090fc" d="M185 38h1v5h-1zM190 43h1v5h-1zM203 48h1v5h-1zM186 63h1v5h-1zM206 63h1v5h-1zM177 72h1v5h-1zM179 72h1v5h-1zM196 72h1v5h-1zM202 72h1v5h-1zM187 77h1v5h-1zM193 77h1v5h-1zM202 77h1v5h-1zM181 82h1v5h-1zM184 82h1v5h-1zM193 82h1v5h-1zM197 82h1v5h-1zM186 87h1v5h-1zM188 87h1v5h-1zM188 97h1v5h-1zM207 97h1v5h-1zM208 102h1v4h-1zM186 106h1v5h-1zM195 111h1v5h-1zM206 111h1v5h-1zM183 116h1v5h-1zM188 116h1v5h-1zM198 116h1v5h-1zM186 121h1v5h-1zM200 121h1v5h-1zM200 126h1v5h-1zM178 131h1v5h-1zM182 140h1v5h-1zM185 140h2v5h-2zM189 145h1v5h-1zM200 145h1v5h-1zM202 150h1v5h-1zM199 155h1v5h-1zM205 155h1v5h-1zM208 155h1v5h-1zM189 165h1v5h-1zM206 165h1v5h-1zM185 170h1v4h-1zM201 174h1v5h-1zM201 189h1v5h-1zM206 189h1v5h-1z"/>
<path fill="#9c9cfc" d="M186 38h1v5h-1zM188 38h1v5h-1zM194 38h1v5h-1zM201 38h1v5h-1zM180 43h1v5h-1zM203 58h1v5h-1zM185 63h1v5h-1zM194 68h1v4h-1zM199 68h1v4h-1zM208 68h1v4h-1zM178 72h1v5h-1zM195 72h1v5h-1zM197 77h1v5h-1zM196 82h1v5h-1zM203 82h1v5h-1zM200 87h1v5h-1zM202 87h1v5h-1zM208 87h1v5h-1zM189 92h1v5h-1zM200 92h1v5h-1zM189 97h1v5h-1zM197 106h1v5h-1zM202 106h1v5h-1zM190 116h1v5h-1zM193 116h1v5h-1zM196 116h1v5h-1zM204 116h1v5h-1zM208 121h1v5h-1zM190 126h1v5h-1zM201 126h1v5h-1zM190 131h1v5h-1zM195 131h1v5h-1zM204 131h1v5h-1zM184 136h1v4h-1zM192 136h1v4h-1zM208 140h1v5h-1zM193 145h1v5h-1zM199 145h1v5h-1zM202 145h1v5h-1zM188 150h2v5h-2zM207 150h1v5h-1zM194 155h1v5h-1zM203 160h1v5h-1zM209 160h1v5h-1zM188 165h1v5h-1zM196 165h1v5h-1zM205 165h1v5h-1zM191 174h1v5h-1zM193 174h1v5h-1zM200 174h1v5h-1zM196 184h1v5h-1z"/>
<path fill="#a8a8fc" d="M187 38h1v5h-1zM200 38h1v5h-1zM188 43h1v5h-1zM180 48h1v5h-1zM183 48h1v5h-1zM208 48h1v5h-1zM182 53h1v5h-1zM188 53h1v5h-1zM195 53h1v5h-1zM192 58h1v5h-1zM199 58h1v5h-1zM205 63h1v5h-1zM198 68h1v4h-1zM205 68h1v4h-1zM177 77h1v5h-1zM196 77h1v5h-1zM198 77h1v5h-1zM201 87h1v5h-1zM187 92h1v5h-1zM202 97h1v5h-1zM202 102h1v4h-1zM204 102h1v4h-1zM185 106h1v5h-1zM187 111h1v5h-1zM189 111h1v5h-1zM182 116h1v5h-1zM194 116h1v5h-1zM203 116h1v5h-1zM196 126h1v5h-1zM180 131h1v5h-1zM203 131h1v5h-1zM185 136h1v4h-1zM191 136h1v4h-1zM193 136h1v4h-1zM207 136h1v4h-1zM194 145h1v5h-1zM184 150h1v5h-1zM193 150h1v5h-1zM200 155h1v5h-1zM193 165h1v5h-1zM186 170h2v4h-2zM203 170h1v4h-1zM186 174h1v5h-1zM208 174h1v5h-1zM195 184h1v5h-1z"/>
<path fill="#8484fc" d="M189 38h1v5h-1zM192 38h1v5h-1zM195 38h1v5h-1zM203 38h1v5h-1zM182 43h1v5h-1zM189 43h1v5h-1zM204 43h1v5h-1zM206 43h1v5h-1zM208 43h1v5h-1zM181 48h2v5h-2zM191 48h1v5h-1zM201 48h1v5h-1zM207 48h1v5h-1zM189 53h1v5h-1zM207 53h1v5h-1zM182 58h1v5h-1zM191 58h1v5h-1zM209 63h1v5h-1zM195 68h1v4h-1zM185 82h1v5h-1zM189 87h1v5h-1zM197 87h1v5h-1zM199 87h1v5h-1zM203 87h1v5h-1zM181 92h1v5h-1zM193 92h1v5h-1zM208 92h1v5h-1zM182 97h1v5h-1zM198 102h1v4h-1zM184 106h1v5h-1zM186 111h1v5h-1zM194 111h1v5h-1zM204 111h1v5h-1zM181 116h1v5h-1zM189 116h1v5h-1zM197 116h1v5h-1zM209 116h1v5h-1zM203 121h1v5h-1zM199 126h1v5h-1zM180 145h1v5h-1zM192 145h1v5h-1zM201 145h1v5h-1zM207 145h2v5h-2zM185 150h1v5h-1zM208 150h1v5h-1zM187 155h1v5h-1zM193 155h1v5h-1zM202 155h1v5h-1zM183 160h1v5h-1zM196 160h1v5h-1zM201 160h2v5h-2zM207 160h1v5h-1zM207 165h1v5h-1zM188 170h1v4h-1zM202 174h2v5h-2zM187 179h1v5h-1zM180 184h1v5h-1zM197 184h1v5h-1zM208 184h1v5h-1zM207 189h1v5h-1z"/>
<path fill="#6c6cfc" d="M190 38h2v5h-2zM194 43h1v5h-1zM200 48h1v5h-1zM183 53h1v5h-1zM196 53h1v5h-1zM205 53h1v5h-1zM200 68h1v4h-1zM202 68h1v4h-1zM181 72h1v5h-1zM189 72h1v5h-1zM201 72h1v5h-1zM206 72h1v5h-1zM190 77h1v5h-1zM186 82h1v5h-1zM194 82h1v5h-1zM194 92h2v5h-2zM201 92h1v5h-1zM182 111h1v5h-1zM185 111h1v5h-1zM193 111h1v5h-1zM202 111h1v5h-1zM205 111h1v5h-1zM185 121h1v5h-1zM194 121h1v5h-1zM206 131h1v5h-1zM184 140h1v5h-1zM196 140h2v5h-2zM200 140h2v5h-2zM190 145h1v5h-1zM203 145h1v5h-1zM184 155h1v5h-1zM182 160h1v5h-1zM186 160h1v5h-1zM194 165h1v5h-1zM189 170h1v4h-1zM207 170h1v4h-1zM185 174h1v5h-1zM204 174h1v5h-1z"/>
<path fill="#d8d8fc" d="M197 38h1v5h-1zM181 43h1v5h-1zM207 43h1v5h-1zM185 48h1v5h-1zM202 48h1v5h-1zM188 58h1v5h-1zM192 68h1v4h-1zM196 68h1v4h-1zM209 68h1v4h-1zM186 77h1v5h-1zM206 77h1v5h-1zM209 87h1v5h-1zM179 92h1v5h-1zM198 97h1v5h-1zM200 111h1v5h-1zM192 116h1v5h-1zM180 121h1v5h-1zM209 121h1v5h-1zM187 126h1v5h-1zM193 126h1v5h-1zM195 126h1v5h-1zM209 126h1v5h-1zM188 131h1v5h-1zM209 131h1v5h-1zM174 136h2v4h-2zM195 136h1v4h-1zM199 136h1v4h-1zM195 150h1v5h-1zM179 155h1v5h-1zM205 160h1v5h-1zM182 165h1v5h-1zM184 165h1v5h-1zM179 174h1v5h-1zM209 174h1v5h-1zM177 184h1v5h-1zM187 189h1v5h-1zM208 189h1v5h-1z"/>
<path fill="#ccccfc" d="M199 38h1v5h-1zM193 43h1v5h-1zM196 43h2v5h-2zM209 48h1v5h-1zM193 58h1v5h-1zM200 58h1v5h-1zM207 58h2v5h-2zM176 77h1v5h-1zM204 77h1v5h-1zM209 77h1v5h-1zM187 87h1v5h-1zM180 92h1v5h-1zM197 92h1v5h-1zM199 92h1v5h-1zM209 92h1v5h-1zM199 97h3v5h-3zM208 97h1v5h-1zM196 106h1v5h-1zM201 111h1v5h-1zM191 116h1v5h-1zM199 116h4v5h-4zM170 126h1v5h-1zM184 126h1v5h-1zM188 126h1v5h-1zM202 126h1v5h-1zM208 126h1v5h-1zM189 131h1v5h-1zM171 136h1v4h-1zM197 136h1v4h-1zM209 140h1v5h-1zM178 145h1v5h-1zM187 145h1v5h-1zM194 150h1v5h-1zM197 150h1v5h-1zM198 155h1v5h-1zM207 155h1v5h-1zM202 170h1v4h-1zM184 189h1v5h-1z"/>
<path fill="#e4d8f0" d="M208 38h1v5h-1zM196 48h1v5h-1zM187 63h1v5h-1zM194 87h1v5h-1zM185 131h1v5h-1zM208 170h1v4h-1zM197 189h1v5h-1zM204 189h1v5h-1z"/>
<path fill="#fcf0f0" d="M209 38h1v5h-1zM197 48h1v5h-1zM172 58h2v5h-2zM172 92h2v5h-2zM177 136h1v4h-1zM175 174h1v5h-1zM195 189h1v5h-1z"/>
<path fill="#fc8484" d="M152 43h1v5h-1zM166 53h1v5h-1zM167 58h1v5h-1zM178 58h1v5h-1zM162 63h1v5h-1zM159 92h1v5h-1zM170 102h1v4h-1zM169 111h1v5h-1zM159 116h1v5h-1zM162 116h1v5h-1zM171 116h1v5h-1zM154 121h1v5h-1zM155 126h1v5h-1zM169 131h1v5h-1zM174 131h2v5h-2zM166 140h1v5h-1zM168 140h1v5h-1zM165 145h1v5h-1zM154 150h1v5h-1zM168 150h1v5h-1zM171 150h1v5h-1zM158 155h1v5h-1zM159 160h1v5h-1zM170 165h1v5h-1zM172 170h2v4h-2zM164 174h1v5h-1zM166 179h1v5h-1zM171 179h1v5h-1zM165 184h1v5h-1zM168 184h1v5h-1z"/>
<path fill="#fc2430" d="M155 43h1v5h-1z"/>
<path fill="#cc4878" d="M156 43h1v5h-1z"/>
<path fill="#a878cc" d="M157 43h1v5h-1zM200 43h1v5h-1zM195 174h1v5h-1z"/>
<path fill="#f01830" d="M158 43h1v5h-1z"/>
<path fill="#d8b4d8" d="M170 43h1v5h-1zM198 63h1v5h-1zM205 116h1v5h-1zM171 126h1v5h-1z"/>
<path fill="#e4cce4" d="M171 43h1v5h-1zM169 68h1v4h-1zM184 68h1v4h-1zM181 126h1v5h-1zM177 155h1v5h-1zM183 189h1v5h-1z"/>
<path fill="#fcc0cc" d="M172 43h1v5h-1zM157 63h1v5h-1zM172 68h1v4h-1zM176 165h1v5h-1z"/>
<path fill="#fc9c9c" d="M174 43h1v5h-1zM152 48h1v5h-1zM159 58h1v5h-1zM176 58h2v5h-2zM169 63h1v5h-1zM154 68h1v4h-1zM159 68h1v4h-1zM162 68h1v4h-1zM171 72h1v5h-1zM209 72h1v5h-1zM166 82h1v5h-1zM176 87h2v5h-2zM155 92h1v5h-1zM171 97h1v5h-1zM173 97h1v5h-1zM168 106h1v5h-1zM165 111h1v5h-1zM176 111h1v5h-1zM169 121h1v5h-1zM166 145h1v5h-1zM169 150h1v5h-1zM173 160h1v5h-1zM197 170h1v4h-1zM172 189h1v5h-1z"/>
<path fill="#e490a8" d="M175 43h1v5h-1zM199 43h1v5h-1z"/>
<path fill="#603ce4" d="M176 43h1v5h-1z"/>
<path fill="#3024fc" d="M177 43h1v5h-1z"/>
<path fill="#6060fc" d="M179 43h1v5h-1zM192 43h1v5h-1zM204 53h1v5h-1zM183 58h1v5h-1zM186 58h1v5h-1zM183 68h1v4h-1zM206 68h1v4h-1zM184 72h1v5h-1zM183 77h1v5h-1zM191 82h1v5h-1zM195 82h1v5h-1zM205 82h1v5h-1zM184 87h2v5h-2zM204 87h1v5h-1zM203 97h1v5h-1zM203 106h1v5h-1zM208 106h1v5h-1zM183 111h1v5h-1zM205 121h1v5h-1zM198 126h1v5h-1zM183 131h1v5h-1zM197 131h1v5h-1zM183 140h1v5h-1zM190 140h1v5h-1zM198 140h1v5h-1zM206 140h1v5h-1zM198 145h1v5h-1zM186 150h1v5h-1zM206 150h1v5h-1zM190 155h1v5h-1zM192 155h1v5h-1zM185 160h1v5h-1zM200 165h1v5h-1zM203 165h1v5h-1zM182 170h1v4h-1zM178 179h1v5h-1zM183 179h1v5h-1zM185 179h1v5h-1zM192 184h1v5h-1zM207 184h1v5h-1z"/>
<path fill="#3030fc" d="M184 43h1v5h-1zM205 43h1v5h-1zM185 58h1v5h-1zM207 68h1v4h-1zM183 92h1v5h-1zM191 102h1v4h-1zM183 106h1v5h-1zM206 106h1v5h-1zM184 121h1v5h-1zM206 121h1v5h-1zM192 131h1v5h-1zM198 131h1v5h-1zM194 140h1v5h-1zM202 140h1v5h-1zM185 145h1v5h-1zM182 155h2v5h-2zM191 160h1v5h-1zM201 165h1v5h-1zM206 170h1v4h-1zM184 174h1v5h-1zM207 174h1v5h-1zM191 179h1v5h-1zM203 179h1v5h-1zM206 179h2v5h-2zM186 184h1v5h-1zM191 184h1v5h-1zM206 184h1v5h-1z"/>
<path fill="#a89cf0" d="M185 43h1v5h-1zM176 72h1v5h-1zM181 87h1v5h-1zM188 106h1v5h-1z"/>
<path fill="#f0e4f0" d="M186 43h1v5h-1zM193 63h1v5h-1zM199 77h1v5h-1zM186 131h1v5h-1zM176 136h1v4h-1zM177 145h1v5h-1zM172 165h1v5h-1zM198 174h1v5h-1z"/>
<path fill="#c0a8e4" d="M198 43h1v5h-1zM183 87h1v5h-1z"/>
<path fill="#8478f0" d="M201 43h1v5h-1zM181 77h1v5h-1z"/>
<path fill="#e4c0d8" d="M202 43h1v5h-1zM181 68h1v4h-1zM171 77h1v5h-1zM199 82h1v5h-1zM160 111h1v5h-1zM179 140h1v5h-1zM188 160h1v5h-1zM199 160h1v5h-1zM180 165h1v5h-1zM177 174h1v5h-1z"/>
<path fill="#ccb4e4" d="M203 43h1v5h-1zM181 53h1v5h-1zM156 63h1v5h-1zM195 170h1v4h-1z"/>
<path fill="#fccccc" d="M153 48h1v5h-1zM154 53h1v5h-1zM177 53h2v5h-2zM163 58h1v5h-1zM179 58h1v5h-1zM158 63h1v5h-1zM160 63h1v5h-1zM171 68h1v4h-1zM155 87h1v5h-1zM174 87h1v5h-1zM171 92h1v5h-1zM176 97h1v5h-1zM170 111h1v5h-1zM179 111h1v5h-1zM169 116h1v5h-1zM171 121h1v5h-1zM152 126h1v5h-1zM179 126h2v5h-2zM165 136h1v4h-1zM169 140h3v5h-3zM173 155h1v5h-1zM171 160h1v5h-1zM171 165h1v5h-1zM179 165h1v5h-1zM169 174h1v5h-1zM174 174h1v5h-1z"/>
<path fill="#fc5454" d="M159 48h1v5h-1zM161 48h1v5h-1zM165 48h1v5h-1zM169 53h1v5h-1zM179 53h1v5h-1zM179 63h2v5h-2zM156 68h1v4h-1zM167 72h1v5h-1zM164 77h1v5h-1zM167 77h1v5h-1zM158 82h1v5h-1zM167 82h1v5h-1zM160 87h1v5h-1zM165 87h1v5h-1zM153 92h1v5h-1zM157 97h1v5h-1zM168 97h1v5h-1zM153 102h1v4h-1zM167 106h1v5h-1zM153 131h1v5h-1zM157 131h3v5h-3zM163 131h1v5h-1zM166 131h1v5h-1zM163 136h1v4h-1zM152 145h1v5h-1zM154 145h1v5h-1zM164 145h1v5h-1zM170 145h1v5h-1zM155 150h1v5h-1zM156 155h1v5h-1zM165 155h2v5h-2zM168 155h1v5h-1zM155 160h1v5h-1zM165 160h1v5h-1zM161 165h1v5h-1zM164 165h1v5h-1zM158 170h2v4h-2zM161 170h2v4h-2zM178 170h1v4h-1zM159 174h1v5h-1zM160 184h1v5h-1zM155 189h1v5h-1zM163 189h1v5h-1z"/>
<path fill="#fc1818" d="M163 48h1v5h-1zM167 48h1v5h-1zM157 53h1v5h-1zM160 53h1v5h-1zM163 53h1v5h-1zM167 63h1v5h-1zM157 72h1v5h-1zM163 72h1v5h-1zM156 77h1v5h-1zM154 82h1v5h-1zM157 87h1v5h-1zM168 87h1v5h-1zM163 92h1v5h-1zM167 92h1v5h-1zM155 97h1v5h-1zM161 97h1v5h-1zM161 102h1v4h-1zM155 106h1v5h-1zM158 106h1v5h-1zM160 121h1v5h-1zM163 121h1v5h-1zM162 126h1v5h-1zM166 126h1v5h-1zM155 131h1v5h-1zM160 136h1v4h-1zM154 140h1v5h-1zM162 140h1v5h-1zM155 145h1v5h-1zM160 150h1v5h-1zM154 155h1v5h-1zM154 160h1v5h-1zM160 160h1v5h-1zM163 160h1v5h-1zM169 165h1v5h-1zM154 170h1v4h-1zM157 170h1v4h-1zM164 170h1v4h-1zM167 170h1v4h-1zM162 174h1v5h-1zM167 174h1v5h-1z"/>
<path fill="#fc3030" d="M166 48h1v5h-1zM164 53h1v5h-1zM167 53h1v5h-1zM157 58h1v5h-1zM152 68h1v4h-1zM155 68h1v4h-1zM154 72h1v5h-1zM165 72h1v5h-1zM168 72h1v5h-1zM159 77h1v5h-1zM155 82h1v5h-1zM152 87h1v5h-1zM159 87h1v5h-1zM163 87h1v5h-1zM156 97h1v5h-1zM167 97h1v5h-1zM163 102h1v4h-1zM160 106h1v5h-1zM155 116h2v5h-2zM156 121h1v5h-1zM164 131h1v5h-1zM153 140h1v5h-1zM156 145h1v5h-1zM168 145h1v5h-1zM158 150h1v5h-1zM175 155h1v5h-1zM157 160h1v5h-1zM166 165h1v5h-1zM156 170h1v4h-1zM166 170h1v4h-1zM154 184h1v5h-1zM168 189h1v5h-1z"/>
<path fill="#fc9ca8" d="M169 48h1v5h-1zM178 48h1v5h-1zM176 155h1v5h-1zM196 170h1v4h-1zM156 189h1v5h-1z"/>
<path fill="#d8c0e4" d="M170 48h1v5h-1zM186 53h1v5h-1zM199 53h1v5h-1zM173 68h1v4h-1zM187 68h1v4h-1zM182 87h1v5h-1zM196 102h1v4h-1zM201 136h1v4h-1zM179 160h1v5h-1zM186 165h1v5h-1zM194 170h1v4h-1z"/>
<path fill="#e4c0e4" d="M171 48h1v5h-1z"/>
<path fill="#e4a8c0" d="M172 48h1v5h-1zM196 58h1v5h-1zM188 68h1v4h-1z"/>
<path fill="#846ce4" d="M173 48h1v5h-1zM190 48h1v5h-1zM206 116h1v5h-1zM173 126h1v5h-1z"/>
<path fill="#906cd8" d="M174 48h1v5h-1zM174 126h1v5h-1zM173 179h1v5h-1z"/>
<path fill="#f090a8" d="M175 48h1v5h-1z"/>
<path fill="#cca8d8" d="M179 48h1v5h-1zM196 121h1v5h-1z"/>
<path fill="#9c84f0" d="M187 48h1v5h-1zM187 121h1v5h-1z"/>
<path fill="#cc6090" d="M188 48h1v5h-1zM188 121h1v5h-1z"/>
<path fill="#d85484" d="M189 48h1v5h-1z"/>
<path fill="#a884d8" d="M192 48h1v5h-1z"/>
<path fill="#d86c90" d="M193 48h1v5h-1z"/>
<path fill="#8448cc" d="M194 48h1v5h-1z"/>
<path fill="#6054f0" d="M195 48h1v5h-1z"/>
<path fill="#e4ccf0" d="M198 48h1v5h-1zM187 58h1v5h-1z"/>
<path fill="#8478fc" d="M199 48h1v5h-1zM196 111h1v5h-1zM182 126h1v5h-1zM181 179h1v5h-1z"/>
<path fill="#6c60fc" d="M204 48h1v5h-1zM173 53h1v5h-1zM195 102h1v4h-1zM202 136h1v4h-1zM181 155h1v5h-1z"/>
<path fill="#d8c0f0" d="M205 48h1v5h-1zM172 87h1v5h-1zM176 184h1v5h-1z"/>
<path fill="#b4a8f0" d="M206 48h1v5h-1zM173 102h2v4h-2zM170 155h1v5h-1zM199 165h1v5h-1zM181 170h1v4h-1zM203 189h1v5h-1z"/>
<path fill="#f0c0cc" d="M170 53h1v5h-1zM175 102h1v4h-1zM180 102h1v4h-1zM169 155h1v5h-1z"/>
<path fill="#c0c0fc" d="M172 53h1v5h-1zM192 63h1v5h-1zM197 68h1v4h-1zM172 77h1v5h-1zM184 77h1v5h-1zM195 77h1v5h-1zM205 77h1v5h-1zM202 82h1v5h-1zM208 82h1v5h-1zM190 87h1v5h-1zM188 92h1v5h-1zM196 92h1v5h-1zM198 92h1v5h-1zM209 102h1v4h-1zM188 111h1v5h-1zM207 111h1v5h-1zM202 121h1v5h-1zM189 126h1v5h-1zM203 126h2v5h-2zM179 131h1v5h-1zM196 131h1v5h-1zM183 136h1v4h-1zM194 136h1v4h-1zM198 136h1v4h-1zM189 140h1v5h-1zM195 155h1v5h-1zM206 155h1v5h-1zM209 155h1v5h-1zM187 160h1v5h-1zM195 160h1v5h-1zM174 165h1v5h-1zM179 184h1v5h-1zM193 184h2v5h-2zM204 184h1v5h-1zM209 184h1v5h-1zM189 189h1v5h-1zM194 189h1v5h-1zM200 189h1v5h-1z"/>
<path fill="#8460d8" d="M174 53h1v5h-1zM178 106h1v5h-1z"/>
<path fill="#e49ca8" d="M175 53h1v5h-1z"/>
<path fill="#f04860" d="M180 53h1v5h-1z"/>
<path fill="#a890e4" d="M185 53h1v5h-1zM176 63h1v5h-1zM198 179h1v5h-1z"/>
<path fill="#a89cfc" d="M187 53h1v5h-1zM198 53h1v5h-1zM189 63h1v5h-1z"/>
<path fill="#2424fc" d="M190 53h1v5h-1zM193 53h1v5h-1zM202 63h1v5h-1zM208 63h1v5h-1zM207 87h1v5h-1zM207 92h1v5h-1zM204 97h1v5h-1zM205 102h1v4h-1zM182 106h1v5h-1zM194 106h1v5h-1zM204 106h1v5h-1zM207 116h2v5h-2zM192 121h1v5h-1zM198 121h1v5h-1zM207 121h1v5h-1zM201 131h1v5h-1zM195 140h1v5h-1zM203 140h2v5h-2zM182 145h1v5h-1zM182 150h1v5h-1zM190 150h2v5h-2zM192 160h1v5h-1zM191 165h1v5h-1zM191 170h1v4h-1zM205 174h1v5h-1zM201 179h1v5h-1zM204 179h1v5h-1zM183 184h1v5h-1zM205 184h1v5h-1z"/>
<path fill="#7860f0" d="M200 53h1v5h-1z"/>
<path fill="#1818fc" d="M201 53h1v5h-1zM205 58h1v5h-1zM190 72h1v5h-1zM205 87h1v5h-1zM185 92h1v5h-1zM190 97h1v5h-1zM193 97h2v5h-2zM200 106h1v5h-1zM207 106h1v5h-1zM191 121h1v5h-1zM193 131h1v5h-1zM205 136h1v4h-1zM183 145h1v5h-1zM205 145h1v5h-1zM190 165h1v5h-1zM205 170h1v4h-1zM206 174h1v5h-1zM182 184h1v5h-1z"/>
<path fill="#0c0cfc" d="M202 53h1v5h-1zM204 72h2v5h-2zM206 87h1v5h-1zM184 92h1v5h-1zM205 92h1v5h-1zM192 97h1v5h-1zM205 97h1v5h-1zM184 102h2v4h-2zM199 106h1v5h-1zM184 145h1v5h-1zM204 150h2v5h-2z"/>
<path fill="#fcd8d8" d="M162 58h1v5h-1zM169 58h1v5h-1zM159 63h1v5h-1zM194 63h1v5h-1zM196 63h2v5h-2zM160 68h1v4h-1zM152 77h1v5h-1zM175 97h1v5h-1zM177 97h1v5h-1zM176 102h1v4h-1zM168 116h1v5h-1zM172 116h1v5h-1zM178 121h1v5h-1zM177 126h1v5h-1zM178 136h1v4h-1zM180 140h1v5h-1zM176 145h1v5h-1zM176 160h1v5h-1zM154 165h1v5h-1zM171 174h1v5h-1zM176 174h1v5h-1zM200 184h1v5h-1zM177 189h1v5h-1z"/>
<path fill="#e4d8fc" d="M180 58h1v5h-1zM195 87h1v5h-1zM177 160h1v5h-1z"/>
<path fill="#f0c0d8" d="M194 58h1v5h-1zM198 111h1v5h-1zM172 121h1v5h-1z"/>
<path fill="#fcb4c0" d="M195 58h1v5h-1zM174 92h1v5h-1zM175 184h1v5h-1z"/>
<path fill="#6c54e4" d="M197 58h1v5h-1zM197 121h1v5h-1z"/>
<path fill="#3c30fc" d="M198 58h1v5h-1z"/>
<path fill="#f0e4fc" d="M202 58h1v5h-1zM181 140h1v5h-1z"/>
<path fill="#d8ccf0" d="M153 63h1v5h-1zM182 63h1v5h-1zM198 72h1v5h-1zM180 82h1v5h-1zM177 92h1v5h-1zM196 97h1v5h-1zM181 102h1v4h-1zM180 111h1v5h-1z"/>
<path fill="#f0d8f0" d="M154 63h1v5h-1zM193 87h1v5h-1zM181 97h1v5h-1zM179 121h1v5h-1zM200 136h1v4h-1zM199 170h1v4h-1z"/>
<path fill="#c0b4fc" d="M155 63h1v5h-1zM188 63h1v5h-1zM173 82h1v5h-1zM178 160h1v5h-1zM177 179h1v5h-1z"/>
<path fill="#fce4e4" d="M170 63h1v5h-1zM177 82h1v5h-1zM173 116h1v5h-1zM178 126h1v5h-1zM152 136h1v4h-1zM200 150h1v5h-1zM178 165h1v5h-1zM170 174h1v5h-1zM176 189h1v5h-1zM196 189h1v5h-1z"/>
<path fill="#f0d8e4" d="M174 63h1v5h-1zM174 72h1v5h-1zM185 165h1v5h-1zM201 170h1v4h-1zM196 179h1v5h-1z"/>
<path fill="#f0b4cc" d="M175 63h1v5h-1zM188 136h1v4h-1z"/>
<path fill="#b49ce4" d="M177 63h1v5h-1zM180 160h1v5h-1zM182 189h1v5h-1z"/>
<path fill="#f0a8b4" d="M178 63h1v5h-1zM179 68h1v4h-1zM178 189h1v5h-1z"/>
<path fill="#d8ccfc" d="M183 63h1v5h-1zM200 77h1v5h-1zM199 111h1v5h-1zM198 189h1v5h-1z"/>
<path fill="#f06c78" d="M168 68h1v4h-1zM159 111h1v5h-1z"/>
<path fill="#e4b4cc" d="M174 68h1v4h-1zM199 72h1v5h-1zM188 102h1v4h-1zM178 116h1v5h-1zM161 131h1v5h-1z"/>
<path fill="#fc8490" d="M175 68h1v4h-1zM172 150h1v5h-1z"/>
<path fill="#f0849c" d="M177 68h1v4h-1z"/>
<path fill="#d8b4e4" d="M178 68h1v4h-1z"/>
<path fill="#6c60f0" d="M182 68h1v4h-1z"/>
<path fill="#f0b4c0" d="M186 68h1v4h-1zM175 121h1v5h-1zM189 136h1v4h-1zM195 179h1v5h-1z"/>
<path fill="#d890b4" d="M189 68h1v4h-1z"/>
<path fill="#9c90f0" d="M190 68h1v4h-1zM190 82h1v5h-1zM198 82h1v5h-1zM197 102h1v4h-1zM198 160h1v5h-1z"/>
<path fill="#e49cb4" d="M173 72h1v5h-1zM172 126h1v5h-1z"/>
<path fill="#f0ccd8" d="M175 72h1v5h-1zM173 87h1v5h-1zM172 102h1v4h-1zM169 106h1v5h-1zM169 136h1v4h-1zM173 150h1v5h-1zM199 150h1v5h-1zM172 155h1v5h-1zM175 179h1v5h-1z"/>
<path fill="#0000fc" d="M191 72h1v5h-1zM206 92h1v5h-1zM191 97h1v5h-1zM192 179h1v5h-1z"/>
<path fill="#3c30f0" d="M192 72h1v5h-1zM190 184h1v5h-1z"/>
<path fill="#d890c0" d="M193 72h1v5h-1z"/>
<path fill="#c09cd8" d="M194 72h1v5h-1zM174 106h1v5h-1zM188 155h1v5h-1z"/>
<path fill="#9c84e4" d="M200 72h1v5h-1z"/>
<path fill="#cca8e4" d="M207 72h1v5h-1z"/>
<path fill="#786cf0" d="M178 77h1v5h-1zM179 116h1v5h-1zM195 121h1v5h-1z"/>
<path fill="#cc90c0" d="M179 77h2v5h-2zM174 82h1v5h-1z"/>
<path fill="#c0b4f0" d="M172 82h1v5h-1zM187 116h1v5h-1zM197 179h1v5h-1z"/>
<path fill="#fc6c78" d="M175 82h1v5h-1zM160 165h1v5h-1z"/>
<path fill="#f0f0f0" d="M179 82h1v5h-1z"/>
<path fill="#9084fc" d="M187 82h1v5h-1zM181 111h1v5h-1zM187 165h1v5h-1z"/>
<path fill="#cc9ccc" d="M188 82h1v5h-1zM158 165h1v5h-1z"/>
<path fill="#d89cc0" d="M189 82h1v5h-1zM180 87h1v5h-1zM159 165h1v5h-1z"/>
<path fill="#a890f0" d="M200 82h1v5h-1zM173 121h1v5h-1z"/>
<path fill="#f09ca8" d="M171 87h1v5h-1z"/>
<path fill="#b4a8fc" d="M192 87h1v5h-1zM184 131h1v5h-1zM177 140h2v5h-2zM205 189h1v5h-1z"/>
<path fill="#fce4f0" d="M178 97h1v5h-1zM174 150h1v5h-1zM176 179h1v5h-1z"/>
<path fill="#e4e4f0" d="M197 97h1v5h-1zM175 165h1v5h-1z"/>
<path fill="#ccc0f0" d="M177 102h1v4h-1zM177 131h1v5h-1zM187 136h1v4h-1zM190 136h1v4h-1zM198 150h1v5h-1z"/>
<path fill="#9084f0" d="M178 102h1v4h-1zM181 136h1v4h-1zM198 184h1v5h-1z"/>
<path fill="#d89ccc" d="M179 102h1v4h-1z"/>
<path fill="#b484cc" d="M189 102h1v4h-1z"/>
<path fill="#2418f0" d="M190 102h1v4h-1z"/>
<path fill="#6054fc" d="M194 102h1v4h-1zM180 116h1v5h-1z"/>
<path fill="#fcfcfc" d="M200 102h1v4h-1zM209 111h1v5h-1zM206 126h1v5h-1zM209 136h1v4h-1zM209 165h1v5h-1zM209 170h1v4h-1zM189 174h1v5h-1z"/>
<path fill="#f0606c" d="M172 106h1v5h-1z"/>
<path fill="#c090cc" d="M173 106h1v5h-1z"/>
<path fill="#f0909c" d="M175 106h1v5h-1zM172 111h1v5h-1zM179 150h1v5h-1z"/>
<path fill="#cc78b4" d="M177 106h1v5h-1z"/>
<path fill="#cc3c6c" d="M179 106h1v5h-1z"/>
<path fill="#c0306c" d="M180 106h1v5h-1z"/>
<path fill="#6048e4" d="M181 106h1v5h-1z"/>
<path fill="#c0a8f0" d="M189 106h1v5h-1zM171 155h1v5h-1zM179 179h1v5h-1z"/>
<path fill="#fc7884" d="M161 111h1v5h-1z"/>
<path fill="#cc9cd8" d="M173 111h1v5h-1zM189 155h1v5h-1z"/>
<path fill="#cc84b4" d="M174 111h1v5h-1z"/>
<path fill="#c09ce4" d="M197 111h1v5h-1z"/>
<path fill="#5448f0" d="M184 116h1v5h-1z"/>
<path fill="#b478c0" d="M185 116h1v5h-1z"/>
<path fill="#e49cc0" d="M186 116h1v5h-1z"/>
<path fill="#b490e4" d="M174 121h1v5h-1z"/>
<path fill="#c04878" d="M189 121h1v5h-1z"/>
<path fill="#543ce4" d="M190 121h1v5h-1z"/>
<path fill="#f09cb4" d="M175 126h1v5h-1zM162 131h1v5h-1z"/>
<path fill="#fc606c" d="M160 131h1v5h-1z"/>
<path fill="#ccc0fc" d="M170 136h1v4h-1zM180 155h1v5h-1zM173 165h1v5h-1zM181 165h1v5h-1z"/>
<path fill="#d86c9c" d="M180 136h1v4h-1zM199 179h1v5h-1z"/>
<path fill="#fc3c48" d="M175 140h1v5h-1z"/>
<path fill="#cc84c0" d="M176 140h1v5h-1z"/>
<path fill="#f05460" d="M177 150h1v5h-1z"/>
<path fill="#c0609c" d="M180 150h1v5h-1z"/>
<path fill="#483cf0" d="M181 150h1v5h-1zM192 170h1v4h-1z"/>
<path fill="#5448fc" d="M181 160h1v5h-1zM180 189h1v5h-1z"/>
<path fill="#d8a8cc" d="M189 160h1v5h-1zM197 165h1v5h-1z"/>
<path fill="#786cfc" d="M190 160h1v5h-1z"/>
<path fill="#b49cf0" d="M200 160h1v5h-1z"/>
<path fill="#f0303c" d="M157 165h1v5h-1z"/>
<path fill="#f0a8c0" d="M198 165h1v5h-1zM199 184h1v5h-1z"/>
<path fill="#fc5460" d="M179 170h1v4h-1z"/>
<path fill="#f07890" d="M180 170h1v4h-1z"/>
<path fill="#d8a8d8" d="M193 170h1v4h-1z"/>
<path fill="#f0e4e4" d="M200 170h1v4h-1z"/>
<path fill="#9c90fc" d="M194 174h1v5h-1z"/>
<path fill="#f0546c" d="M196 174h1v5h-1z"/>
<path fill="#f08490" d="M172 179h1v5h-1z"/>
<path fill="#9c90e4" d="M174 179h1v5h-1z"/>
<path fill="#ccb4f0" d="M180 179h1v5h-1z"/>
<path fill="#180cfc" d="M193 179h1v5h-1z"/>
<path fill="#9c60cc" d="M194 179h1v5h-1z"/>
<path fill="#783cc0" d="M200 179h1v5h-1z"/>
<path fill="#2418fc" d="M187 184h1v5h-1z"/>
<path fill="#9c6ccc" d="M188 184h1v5h-1z"/>
<path fill="#b478cc" d="M189 184h1v5h-1z"/>
<path fill="#9078e4" d="M179 189h1v5h-1z"/>
<rect x="152" y="29.8" width="14.2" height="7.6" fill="#ffff00"/>
<rect x="166.2" y="29.8" width="43.3" height="7.6" fill="#ffa500"/>
<text x="211" y="43.53" font-size="6.3" fill="#000" stroke="#000" stroke-width="0.12" text-anchor="start" >LILRB2</text>
<text x="211" y="48.38" font-size="6.3" fill="#000" stroke="#000" stroke-width="0.12" text-anchor="start" >MYD88</text>
<text x="211" y="53.23" font-size="6.3" fill="#000" stroke="#000" stroke-width="0.12" text-anchor="start" >ICAM1</text>
<text x="211" y="58.09" font-size="6.3" fill="#000" stroke="#000" stroke-width="0.12" text-anchor="start" >FCGR1A</text>
<text x="211" y="62.94" font-size="6.3" fill="#000" stroke="#000" stroke-width="0.12" text-anchor="start" >CD274</text>
<text x="211" y="67.79" font-size="6.3" fill="#000" stroke="#000" stroke-width="0.12" text-anchor="start" >SOCS3</text>
<text x="211" y="72.65" font-size="6.3" fill="#000" stroke="#000" stroke-width="0.12" text-anchor="start" >FAS</text>
<text x="211" y="77.5" font-size="6.3" fill="#000" stroke="#000" stroke-width="0.12" text-anchor="start" >ITGAM</text>
<text x="211" y="82.35" font-size="6.3" fill="#000" stroke="#000" stroke-width="0.12" text-anchor="start" >STAT3</text>
<text x="211" y="87.2" font-size="6.3" fill="#000" stroke="#000" stroke-width="0.12" text-anchor="start" >IL6R</text>
<text x="211" y="92.06" font-size="6.3" fill="#000" stroke="#000" stroke-width="0.12" text-anchor="start" >IL1R1</text>
<text x="211" y="96.91" font-size="6.3" fill="#000" stroke="#000" stroke-width="0.12" text-anchor="start" >TLR2</text>
<text x="211" y="101.76" font-size="6.3" fill="#000" stroke="#000" stroke-width="0.12" text-anchor="start" >TLR4</text>
<text x="211" y="106.62" font-size="6.3" fill="#000" stroke="#000" stroke-width="0.12" text-anchor="start" >ENTPD1</text>
<text x="211" y="111.47" font-size="6.3" fill="#000" stroke="#000" stroke-width="0.12" text-anchor="start" >ITGAX</text>
<text x="211" y="116.32" font-size="6.3" fill="#000" stroke="#000" stroke-width="0.12" text-anchor="start" >TLR8</text>
<text x="211" y="121.18" font-size="6.3" fill="#000" stroke="#000" stroke-width="0.12" text-anchor="start" >TLR5</text>
<text x="211" y="126.03" font-size="6.3" fill="#000" stroke="#000" stroke-width="0.12" text-anchor="start" >NLRP3</text>
<text x="211" y="130.88" font-size="6.3" fill="#000" stroke="#000" stroke-width="0.12" text-anchor="start" >CXCL1</text>
<text x="211" y="135.74" font-size="6.3" fill="#000" stroke="#000" stroke-width="0.12" text-anchor="start" >SELL</text>
<text x="211" y="140.59" font-size="6.3" fill="#000" stroke="#000" stroke-width="0.12" text-anchor="start" >LY96</text>
<text x="211" y="145.44" font-size="6.3" fill="#000" stroke="#000" stroke-width="0.12" text-anchor="start" >TLR1</text>
<text x="211" y="150.3" font-size="6.3" fill="#000" stroke="#000" stroke-width="0.12" text-anchor="start" >TLR6</text>
<text x="211" y="155.15" font-size="6.3" fill="#000" stroke="#000" stroke-width="0.12" text-anchor="start" >IL1B</text>
<text x="211" y="160" font-size="6.3" fill="#000" stroke="#000" stroke-width="0.12" text-anchor="start" >TNFRSF1A</text>
<text x="211" y="164.85" font-size="6.3" fill="#000" stroke="#000" stroke-width="0.12" text-anchor="start" >NCF2</text>
<text x="211" y="169.71" font-size="6.3" fill="#000" stroke="#000" stroke-width="0.12" text-anchor="start" >CXCR2</text>
<text x="211" y="174.56" font-size="6.3" fill="#000" stroke="#000" stroke-width="0.12" text-anchor="start" >NCF4</text>
<text x="211" y="179.41" font-size="6.3" fill="#000" stroke="#000" stroke-width="0.12" text-anchor="start" >SPI1</text>
<text x="211" y="184.27" font-size="6.3" fill="#000" stroke="#000" stroke-width="0.12" text-anchor="start" >FCGR3B</text>
<text x="211" y="189.12" font-size="6.3" fill="#000" stroke="#000" stroke-width="0.12" text-anchor="start" >PTPRC</text>
<text x="211" y="193.97" font-size="6.3" fill="#000" stroke="#000" stroke-width="0.12" text-anchor="start" >LAMP1</text>
<text x="211" y="36.3" font-size="6.2" fill="#000" stroke="#000" stroke-width="0.12" text-anchor="start" >Group</text>
<path fill="none" stroke="#444" stroke-width="0.6" d="M147.12 45.78V50.63M147.12 45.78H151.6M147.12 50.63H151.6M145.84 48.21V55.49M145.84 48.21H147.12M145.84 55.49H151.6M147.12 65.19V70.05M147.12 65.19H151.6M147.12 70.05H151.6M145.84 60.34V67.62M145.84 60.34H151.6M145.84 67.62H147.12M144.56 51.85V63.98M144.56 51.85H145.84M144.56 63.98H145.84M147.12 79.75V84.6M147.12 79.75H151.6M147.12 84.6H151.6M147.12 94.31V99.16M147.12 94.31H151.6M147.12 99.16H151.6M145.84 89.46V96.74M145.84 89.46H151.6M145.84 96.74H147.12M144.56 82.18V93.1M144.56 82.18H147.12M144.56 93.1H145.84M143.28 74.9V87.64M143.28 74.9H151.6M143.28 87.64H144.56M142 81.27V104.02M142 81.27H143.28M142 104.02H151.6M140.72 57.91V92.64M140.72 57.91H144.56M140.72 92.64H142M147.12 108.87V113.72M147.12 108.87H151.6M147.12 113.72H151.6M145.84 111.3V118.58M145.84 111.3H147.12M145.84 118.58H151.6M139.44 75.28V114.94M139.44 75.28H140.72M139.44 114.94H145.84M138.16 40.93V95.11M138.16 40.93H151.6M138.16 95.11H139.44M147.12 123.43V128.28M147.12 123.43H151.6M147.12 128.28H151.6M147.12 133.14V137.99M147.12 133.14H151.6M147.12 137.99H151.6M145.84 125.86V135.56M145.84 125.86H147.12M145.84 135.56H147.12M136.88 68.02V130.71M136.88 68.02H138.16M136.88 130.71H145.84M147.12 142.84V147.7M147.12 142.84H151.6M147.12 147.7H151.6M147.12 176.81V181.67M147.12 176.81H151.6M147.12 181.67H151.6M145.84 179.24V186.52M145.84 179.24H147.12M145.84 186.52H151.6M144.56 171.96V182.88M144.56 171.96H151.6M144.56 182.88H145.84M143.28 177.42V191.37M143.28 177.42H144.56M143.28 191.37H151.6M142 167.11V184.4M142 167.11H151.6M142 184.4H143.28M140.72 162.25V175.75M140.72 162.25H151.6M140.72 175.75H142M139.44 157.4V169M139.44 157.4H151.6M139.44 169H140.72M138.16 152.55V163.2M138.16 152.55H151.6M138.16 163.2H139.44M136.88 145.27V157.88M136.88 145.27H147.12M136.88 157.88H138.16M135.6 99.36V151.57M135.6 99.36H136.88M135.6 151.57H136.88"/>
<path fill="#fcc0c0" d="M276 38h1v15h-1zM284 38h1v15h-1zM290 38h1v15h-1zM306 67h1v14h-1zM319 67h1v14h-1zM281 81h1v14h-1zM292 81h2v14h-2zM288 95h1v14h-1zM318 109h2v14h-2zM325 109h1v14h-1zM276 123h1v14h-1zM281 123h1v14h-1zM284 123h1v14h-1zM288 123h2v14h-2zM277 137h2v14h-2zM284 166h1v14h-1zM298 166h1v14h-1zM278 180h1v14h-1zM292 180h2v14h-2zM298 180h1v14h-1z"/>
<path fill="#fc4848" d="M277 38h1v15h-1zM290 67h1v14h-1zM292 151h1v15h-1z"/>
<path fill="#fc5454" d="M278 38h1v15h-1zM294 53h1v14h-1zM283 67h1v14h-1zM294 81h1v14h-1zM287 109h1v14h-1zM294 109h1v14h-1zM279 123h1v14h-1zM295 123h1v14h-1zM289 151h1v15h-1z"/>
<path fill="#fc8484" d="M279 38h1v15h-1zM287 53h1v14h-1zM291 53h1v14h-1zM293 53h1v14h-1zM279 67h1v14h-1zM288 137h1v14h-1zM294 137h1v14h-1zM279 151h1v15h-1zM295 151h1v15h-1zM278 166h1v14h-1z"/>
<path fill="#fca8a8" d="M280 38h1v15h-1zM283 38h1v15h-1zM286 38h1v15h-1zM296 38h1v15h-1zM281 67h1v14h-1zM284 67h1v14h-1zM278 81h1v14h-1zM277 95h1v14h-1zM280 95h1v14h-1zM291 95h2v14h-2zM290 109h2v14h-2zM293 109h1v14h-1zM282 123h1v14h-1zM298 123h1v14h-1zM292 137h2v14h-2zM283 166h1v14h-1zM295 166h1v14h-1zM296 180h1v14h-1z"/>
<path fill="#fccccc" d="M281 38h1v15h-1zM285 38h1v15h-1zM325 38h1v15h-1zM276 67h1v14h-1zM307 67h1v14h-1zM280 81h1v14h-1zM288 81h1v14h-1zM283 109h1v14h-1zM287 123h1v14h-1zM296 123h1v14h-1zM279 137h1v14h-1zM287 137h1v14h-1zM305 151h1v15h-1zM307 151h1v15h-1zM276 166h1v14h-1zM289 166h1v14h-1zM293 166h1v14h-1zM306 180h3v14h-3zM319 180h1v14h-1z"/>
<path fill="#fcb4b4" d="M282 38h1v15h-1zM324 38h1v15h-1zM288 67h1v14h-1zM282 81h1v14h-1zM281 95h3v14h-3zM290 95h1v14h-1zM279 109h1v14h-1zM292 109h1v14h-1zM299 123h1v14h-1zM334 137h1v14h-1zM278 151h1v15h-1zM287 151h1v15h-1zM306 151h1v15h-1zM279 166h1v14h-1zM277 180h1v14h-1zM297 180h1v14h-1z"/>
<path fill="#fc9090" d="M287 38h1v15h-1zM292 38h1v15h-1zM288 53h3v14h-3zM292 53h1v14h-1zM289 67h1v14h-1zM296 67h2v14h-2zM277 81h1v14h-1zM291 81h1v14h-1zM289 109h1v14h-1zM280 123h1v14h-1zM283 123h1v14h-1zM290 137h1v14h-1zM295 137h1v14h-1zM283 180h1v14h-1zM288 180h1v14h-1z"/>
<path fill="#fc6c6c" d="M288 38h2v15h-2zM293 38h1v15h-1zM298 67h1v14h-1zM287 95h1v14h-1zM293 123h1v14h-1zM289 137h1v14h-1zM288 151h1v15h-1zM289 180h1v14h-1zM294 180h1v14h-1z"/>
<path fill="#fcd8d8" d="M291 38h1v15h-1zM287 67h1v14h-1zM276 81h1v14h-1zM279 81h1v14h-1zM289 81h1v14h-1zM296 95h1v14h-1zM286 123h1v14h-1zM297 123h1v14h-1zM284 137h1v14h-1zM286 137h1v14h-1zM296 137h1v14h-1zM286 151h1v15h-1zM298 151h1v15h-1zM319 151h1v15h-1z"/>
<path fill="#fc2424" d="M294 38h1v15h-1z"/>
<path fill="#fc3030" d="M295 38h1v15h-1zM294 67h2v14h-2zM294 95h1v14h-1z"/>
<path fill="#fcccd8" d="M297 38h1v15h-1zM306 38h1v15h-1zM314 123h1v14h-1z"/>
<path fill="#e4d8fc" d="M298 38h1v15h-1zM308 38h1v15h-1zM332 81h1v14h-1zM291 166h1v14h-1zM300 166h1v14h-1zM314 180h1v14h-1z"/>
<path fill="#b4b4fc" d="M299 38h1v15h-1zM303 38h2v15h-2zM338 38h2v15h-2zM321 53h1v14h-1zM345 53h1v14h-1zM303 67h1v14h-1zM322 67h1v14h-1zM334 67h2v14h-2zM339 67h1v14h-1zM302 81h1v14h-1zM342 81h2v14h-2zM337 95h1v14h-1zM302 109h1v14h-1zM310 109h1v14h-1zM345 109h1v14h-1zM331 123h1v14h-1zM337 123h1v14h-1zM301 137h1v14h-1zM321 137h1v14h-1zM345 137h1v14h-1zM301 151h1v15h-1zM311 151h1v15h-1zM320 166h1v14h-1zM331 166h1v14h-1zM301 180h1v14h-1zM313 180h1v14h-1zM336 180h1v14h-1z"/>
<path fill="#6060fc" d="M300 38h1v15h-1zM327 38h1v15h-1zM345 38h1v15h-1zM324 53h1v14h-1zM328 53h1v14h-1zM330 53h1v14h-1zM329 67h1v14h-1zM344 67h2v14h-2zM328 81h1v14h-1zM333 123h1v14h-1zM342 123h4v14h-4zM327 137h1v14h-1zM343 137h1v14h-1zM327 151h1v15h-1zM321 166h1v14h-1zM327 166h1v14h-1zM311 180h1v14h-1zM327 180h1v14h-1zM344 180h1v14h-1z"/>
<path fill="#6c6cfc" d="M301 38h1v15h-1zM340 53h1v14h-1zM328 67h1v14h-1zM343 67h1v14h-1zM330 81h1v14h-1zM323 95h1v14h-1zM342 95h1v14h-1zM330 109h1v14h-1zM302 137h1v14h-1zM322 151h1v15h-1zM333 151h1v15h-1zM310 166h2v14h-2zM302 180h1v14h-1zM330 180h1v14h-1zM333 180h1v14h-1z"/>
<path fill="#9c9cfc" d="M302 38h1v15h-1zM342 38h2v15h-2zM324 67h1v14h-1zM338 67h1v14h-1zM338 81h1v14h-1zM340 81h2v14h-2zM345 81h1v14h-1zM344 109h1v14h-1zM340 123h1v14h-1zM304 137h1v14h-1zM308 137h1v14h-1zM344 137h1v14h-1zM324 151h1v15h-1zM340 166h1v14h-1zM315 180h1v14h-1z"/>
<path fill="#d8c0e4" d="M305 38h1v15h-1zM296 53h1v14h-1zM297 109h1v14h-1zM281 151h1v15h-1zM336 166h1v14h-1zM309 180h1v14h-1zM338 180h1v14h-1z"/>
<path fill="#f0d8e4" d="M307 38h1v15h-1zM335 38h1v15h-1zM308 67h1v14h-1zM335 81h1v14h-1zM339 95h1v14h-1zM282 109h1v14h-1zM285 109h1v14h-1zM296 151h1v15h-1zM325 180h1v14h-1z"/>
<path fill="#c0c0fc" d="M309 38h1v15h-1zM304 53h1v14h-1zM331 53h1v14h-1zM338 53h1v14h-1zM332 67h1v14h-1zM303 95h1v14h-1zM308 95h1v14h-1zM344 95h1v14h-1zM301 109h1v14h-1zM333 109h1v14h-1zM336 109h1v14h-1zM310 123h1v14h-1zM305 137h1v14h-1zM307 137h1v14h-1zM322 137h1v14h-1zM303 151h1v15h-1zM310 151h1v15h-1zM339 151h1v15h-1zM345 151h1v15h-1zM304 166h1v14h-1zM332 166h1v14h-1z"/>
<path fill="#a8a8fc" d="M310 38h1v15h-1zM320 38h1v15h-1zM332 53h1v14h-1zM339 53h1v14h-1zM344 53h1v14h-1zM333 67h1v14h-1zM339 81h1v14h-1zM344 81h1v14h-1zM302 95h1v14h-1zM311 109h1v14h-1zM322 109h1v14h-1zM337 109h1v14h-1zM331 151h1v15h-1zM340 151h1v15h-1zM344 151h1v15h-1zM309 166h1v14h-1zM344 166h2v14h-2zM310 180h1v14h-1zM332 180h1v14h-1zM334 180h1v14h-1z"/>
<path fill="#8484fc" d="M311 38h1v15h-1zM341 38h1v15h-1zM323 67h1v14h-1zM327 67h1v14h-1zM320 81h1v14h-1zM328 95h1v14h-1zM332 123h1v14h-1zM321 151h1v15h-1zM338 151h1v15h-1zM342 151h2v15h-2zM312 166h1v14h-1zM341 166h2v14h-2zM303 180h1v14h-1zM343 180h1v14h-1z"/>
<path fill="#7878fc" d="M312 38h1v15h-1zM344 38h1v15h-1zM303 53h1v14h-1zM342 53h1v14h-1zM310 67h1v14h-1zM337 67h1v14h-1zM341 67h2v14h-2zM301 81h1v14h-1zM311 81h1v14h-1zM309 95h1v14h-1zM343 95h1v14h-1zM340 109h1v14h-1zM330 123h1v14h-1zM341 123h1v14h-1zM303 137h1v14h-1zM311 137h1v14h-1zM341 137h1v14h-1zM323 151h1v15h-1zM323 166h1v14h-1zM342 180h1v14h-1z"/>
<path fill="#cca8e4" d="M313 38h1v15h-1zM326 38h1v15h-1zM309 81h1v14h-1z"/>
<path fill="#f0ccd8" d="M314 38h1v15h-1zM336 53h1v14h-1zM325 81h1v14h-1zM280 109h1v14h-1zM317 109h1v14h-1zM280 166h1v14h-1zM288 166h1v14h-1z"/>
<path fill="#ccc0f0" d="M315 38h1v15h-1zM319 38h1v15h-1zM321 67h1v14h-1zM319 95h1v14h-1zM336 95h1v14h-1zM300 109h1v14h-1zM291 123h1v14h-1zM336 123h1v14h-1zM326 151h1v15h-1z"/>
<path fill="#c0b4f0" d="M316 38h1v15h-1zM336 38h1v15h-1zM281 53h1v14h-1zM312 151h1v15h-1z"/>
<path fill="#f0c0cc" d="M317 38h2v15h-2zM320 67h1v14h-1zM318 95h1v14h-1zM314 137h1v14h-1zM325 137h1v14h-1zM282 166h1v14h-1zM299 180h1v14h-1z"/>
<path fill="#3c3cfc" d="M321 38h1v15h-1zM323 53h1v14h-1zM311 95h1v14h-1zM328 151h1v15h-1z"/>
<path fill="#5448f0" d="M322 38h1v15h-1zM312 67h1v14h-1z"/>
<path fill="#e49cc0" d="M323 38h1v15h-1z"/>
<path fill="#3030fc" d="M328 38h1v15h-1zM328 166h1v14h-1zM328 180h1v14h-1z"/>
<path fill="#1818fc" d="M329 38h1v15h-1zM329 53h1v14h-1zM329 109h1v14h-1zM329 151h1v15h-1zM329 166h1v14h-1zM329 180h1v14h-1z"/>
<path fill="#4848fc" d="M330 38h1v15h-1zM310 95h1v14h-1zM328 109h1v14h-1zM341 109h2v14h-2zM312 180h1v14h-1z"/>
<path fill="#9090fc" d="M331 38h3v15h-3zM340 38h1v15h-1zM301 53h1v14h-1zM316 53h1v14h-1zM322 53h1v14h-1zM343 53h1v14h-1zM302 67h1v14h-1zM330 67h1v14h-1zM336 67h1v14h-1zM340 67h1v14h-1zM300 95h2v14h-2zM341 95h1v14h-1zM309 137h2v14h-2zM332 151h1v15h-1zM341 151h1v15h-1zM343 166h1v14h-1z"/>
<path fill="#ccb4f0" d="M334 38h1v15h-1zM326 180h1v14h-1z"/>
<path fill="#a89cfc" d="M337 38h1v15h-1zM327 53h1v14h-1zM302 151h1v15h-1z"/>
<path fill="#fcf0f0" d="M276 53h1v14h-1zM306 109h3v14h-3zM285 123h1v14h-1zM306 123h2v14h-2zM332 137h1v14h-1z"/>
<path fill="#fce4e4" d="M277 53h3v14h-3zM276 95h1v14h-1zM289 95h1v14h-1zM276 109h1v14h-1zM284 109h1v14h-1zM313 123h1v14h-1zM276 137h1v14h-1zM285 137h1v14h-1zM297 137h2v14h-2zM333 137h1v14h-1zM277 151h1v15h-1zM318 151h1v15h-1zM285 166h1v14h-1zM276 180h1v14h-1z"/>
<path fill="#e4ccf0" d="M280 53h1v14h-1zM285 53h1v14h-1zM309 53h1v14h-1zM325 53h2v14h-2zM334 81h1v14h-1zM338 95h1v14h-1zM317 151h1v15h-1z"/>
<path fill="#d89cc0" d="M282 53h1v14h-1zM326 95h1v14h-1z"/>
<path fill="#fc909c" d="M283 53h1v14h-1z"/>
<path fill="#f0b4cc" d="M284 53h1v14h-1zM286 81h1v14h-1z"/>
<path fill="#f0a8b4" d="M286 53h1v14h-1z"/>
<path fill="#fc606c" d="M295 53h1v14h-1zM298 53h1v14h-1z"/>
<path fill="#e4b4d8" d="M297 53h1v14h-1zM317 95h1v14h-1z"/>
<path fill="#e46c84" d="M299 53h1v14h-1z"/>
<path fill="#b49ce4" d="M300 53h1v14h-1zM334 151h1v15h-1z"/>
<path fill="#5454fc" d="M302 53h1v14h-1zM341 53h1v14h-1zM311 67h1v14h-1zM312 95h1v14h-1zM343 109h1v14h-1zM328 123h2v14h-2zM328 137h2v14h-2zM342 137h1v14h-1zM330 151h1v15h-1zM322 166h1v14h-1zM330 166h1v14h-1zM341 180h1v14h-1zM345 180h1v14h-1z"/>
<path fill="#d8d8fc" d="M305 53h2v14h-2zM311 53h1v14h-1zM318 53h2v14h-2zM299 95h1v14h-1zM345 95h1v14h-1zM332 109h1v14h-1zM339 109h1v14h-1zM302 123h1v14h-1zM309 123h1v14h-1zM339 123h1v14h-1zM300 137h1v14h-1zM306 137h1v14h-1zM318 137h1v14h-1zM305 166h1v14h-1zM315 166h1v14h-1zM338 166h2v14h-2zM300 180h1v14h-1zM324 180h1v14h-1zM331 180h1v14h-1z"/>
<path fill="#f0d8f0" d="M307 53h1v14h-1zM317 123h1v14h-1zM335 123h1v14h-1zM281 166h1v14h-1z"/>
<path fill="#fcd8e4" d="M308 53h1v14h-1zM305 67h1v14h-1zM298 81h1v14h-1zM292 166h1v14h-1zM279 180h1v14h-1zM320 180h1v14h-1z"/>
<path fill="#ccccfc" d="M310 53h1v14h-1zM317 53h1v14h-1zM320 53h1v14h-1zM331 67h1v14h-1zM303 81h1v14h-1zM323 81h1v14h-1zM320 95h1v14h-1zM322 95h1v14h-1zM303 109h1v14h-1zM309 109h1v14h-1zM338 109h1v14h-1zM316 123h1v14h-1zM338 123h1v14h-1zM316 137h2v14h-2zM303 166h1v14h-1zM313 166h1v14h-1zM285 180h1v14h-1zM304 180h1v14h-1zM321 180h3v14h-3z"/>
<path fill="#e4cce4" d="M312 53h1v14h-1zM331 95h1v14h-1zM315 109h1v14h-1zM280 137h1v14h-1zM305 180h1v14h-1z"/>
<path fill="#f06c78" d="M313 53h1v14h-1z"/>
<path fill="#f04854" d="M314 53h1v14h-1z"/>
<path fill="#a86cc0" d="M315 53h1v14h-1z"/>
<path fill="#8478fc" d="M333 53h1v14h-1zM337 81h1v14h-1zM329 95h1v14h-1zM327 109h1v14h-1z"/>
<path fill="#c084cc" d="M334 53h1v14h-1zM313 67h1v14h-1z"/>
<path fill="#f09ca8" d="M335 53h1v14h-1zM299 109h1v14h-1z"/>
<path fill="#e4e4fc" d="M337 53h1v14h-1zM305 81h1v14h-1zM304 95h1v14h-1zM307 95h1v14h-1zM321 95h1v14h-1zM331 109h1v14h-1zM301 123h1v14h-1zM303 123h1v14h-1zM311 123h1v14h-1zM320 137h1v14h-1zM323 137h1v14h-1zM301 166h2v14h-2zM314 166h1v14h-1z"/>
<path fill="#fc6060" d="M277 67h2v14h-2zM292 67h2v14h-2zM295 81h1v14h-1zM283 151h1v15h-1zM294 151h1v15h-1zM290 180h1v14h-1zM295 180h1v14h-1z"/>
<path fill="#fc9c9c" d="M280 67h1v14h-1zM290 81h1v14h-1zM278 95h2v14h-2zM293 95h1v14h-1zM277 109h2v14h-2zM298 109h1v14h-1zM291 137h1v14h-1zM290 151h2v15h-2zM294 166h1v14h-1zM318 180h1v14h-1z"/>
<path fill="#fc7878" d="M282 67h1v14h-1zM299 67h1v14h-1zM288 109h1v14h-1zM277 166h1v14h-1zM291 180h1v14h-1z"/>
<path fill="#f0e4f0" d="M285 67h1v14h-1zM322 81h1v14h-1zM281 109h1v14h-1zM335 109h1v14h-1zM299 137h1v14h-1zM324 137h1v14h-1zM331 137h1v14h-1zM285 151h1v15h-1zM297 151h1v15h-1zM304 151h1v15h-1zM296 166h2v14h-2zM280 180h2v14h-2z"/>
<path fill="#fce4f0" d="M286 67h1v14h-1zM324 109h1v14h-1zM318 123h1v14h-1zM321 123h1v14h-1zM308 151h1v15h-1zM287 180h1v14h-1z"/>
<path fill="#fc3c3c" d="M291 67h1v14h-1zM295 95h1v14h-1zM277 123h2v14h-2zM294 123h1v14h-1zM293 151h1v15h-1z"/>
<path fill="#fcb4c0" d="M300 67h1v14h-1zM318 67h1v14h-1zM283 137h1v14h-1zM318 166h1v14h-1z"/>
<path fill="#d8b4d8" d="M301 67h1v14h-1zM284 95h1v14h-1zM335 151h1v15h-1z"/>
<path fill="#f0e4fc" d="M304 67h1v14h-1zM297 81h1v14h-1zM286 180h1v14h-1z"/>
<path fill="#b4a8f0" d="M309 67h1v14h-1zM312 109h1v14h-1zM324 123h1v14h-1z"/>
<path fill="#e49cb4" d="M314 67h1v14h-1z"/>
<path fill="#a890e4" d="M315 67h1v14h-1zM316 81h1v14h-1z"/>
<path fill="#9c90f0" d="M316 67h1v14h-1zM316 95h1v14h-1zM327 95h1v14h-1z"/>
<path fill="#e4a8cc" d="M317 67h1v14h-1zM284 180h1v14h-1z"/>
<path fill="#e4d8f0" d="M325 67h1v14h-1zM285 81h1v14h-1zM321 81h1v14h-1zM331 81h1v14h-1zM316 109h1v14h-1zM300 123h1v14h-1zM322 123h1v14h-1zM325 151h1v15h-1zM290 166h1v14h-1zM335 180h1v14h-1z"/>
<path fill="#d8c0f0" d="M326 67h1v14h-1zM290 123h1v14h-1zM315 137h1v14h-1zM319 166h1v14h-1z"/>
<path fill="#fca8b4" d="M283 81h1v14h-1zM287 81h1v14h-1zM314 109h1v14h-1zM284 151h1v15h-1z"/>
<path fill="#f0c0d8" d="M284 81h1v14h-1zM325 123h1v14h-1z"/>
<path fill="#f0cce4" d="M296 81h1v14h-1zM335 95h1v14h-1zM299 151h1v15h-1z"/>
<path fill="#ccb4e4" d="M299 81h1v14h-1zM338 137h1v14h-1z"/>
<path fill="#786cfc" d="M300 81h1v14h-1zM333 95h1v14h-1zM312 137h1v14h-1z"/>
<path fill="#f0f0fc" d="M304 81h1v14h-1zM305 95h2v14h-2zM323 109h1v14h-1zM304 123h1v14h-1zM319 123h2v14h-2zM319 137h1v14h-1zM306 166h1v14h-1zM308 166h1v14h-1z"/>
<path fill="#d8ccfc" d="M306 81h1v14h-1zM309 151h1v15h-1z"/>
<path fill="#e4c0d8" d="M307 81h1v14h-1zM314 95h1v14h-1zM282 137h1v14h-1zM339 137h1v14h-1zM320 151h1v15h-1zM334 166h1v14h-1z"/>
<path fill="#f0b4c0" d="M308 81h1v14h-1zM320 109h1v14h-1zM317 166h1v14h-1zM335 166h1v14h-1zM282 180h1v14h-1z"/>
<path fill="#9c90fc" d="M310 81h1v14h-1zM327 81h1v14h-1zM330 137h1v14h-1zM337 180h1v14h-1z"/>
<path fill="#7860f0" d="M312 81h1v14h-1z"/>
<path fill="#cc5484" d="M313 81h1v14h-1z"/>
<path fill="#f05460" d="M314 81h1v14h-1z"/>
<path fill="#b484cc" d="M315 81h1v14h-1z"/>
<path fill="#e48490" d="M317 81h1v14h-1z"/>
<path fill="#e47890" d="M318 81h1v14h-1zM286 95h1v14h-1z"/>
<path fill="#846ce4" d="M319 81h1v14h-1zM324 95h1v14h-1z"/>
<path fill="#d8ccf0" d="M324 81h1v14h-1zM334 109h1v14h-1zM315 123h1v14h-1zM281 137h1v14h-1zM286 166h1v14h-1z"/>
<path fill="#d8c0d8" d="M326 81h1v14h-1z"/>
<path fill="#2418fc" d="M329 81h1v14h-1z"/>
<path fill="#ccc0fc" d="M333 81h1v14h-1zM300 151h1v15h-1zM287 166h1v14h-1zM333 166h1v14h-1zM337 166h1v14h-1z"/>
<path fill="#a89cf0" d="M336 81h1v14h-1zM315 95h1v14h-1zM321 109h1v14h-1zM334 123h1v14h-1zM340 137h1v14h-1z"/>
<path fill="#c0b4e4" d="M285 95h1v14h-1z"/>
<path fill="#fcfcfc" d="M297 95h2v14h-2zM305 109h1v14h-1zM276 151h1v15h-1zM307 166h1v14h-1z"/>
<path fill="#c09cd8" d="M313 95h1v14h-1z"/>
<path fill="#e490a8" d="M325 95h1v14h-1z"/>
<path fill="#b49cf0" d="M330 95h1v14h-1zM332 95h1v14h-1zM334 95h1v14h-1z"/>
<path fill="#b4a8fc" d="M340 95h1v14h-1zM323 123h1v14h-1z"/>
<path fill="#fc8490" d="M286 109h1v14h-1z"/>
<path fill="#fc5460" d="M295 109h1v14h-1z"/>
<path fill="#d8b4e4" d="M296 109h1v14h-1z"/>
<path fill="#fcf0fc" d="M304 109h1v14h-1zM305 123h1v14h-1zM308 123h1v14h-1zM312 123h1v14h-1z"/>
<path fill="#e4a8c0" d="M313 109h1v14h-1zM313 151h1v15h-1zM325 166h1v14h-1z"/>
<path fill="#d8a8cc" d="M326 109h1v14h-1z"/>
<path fill="#f0909c" d="M292 123h1v14h-1zM282 151h1v15h-1z"/>
<path fill="#cca8d8" d="M326 123h1v14h-1z"/>
<path fill="#6c60fc" d="M327 123h1v14h-1z"/>
<path fill="#cc9cd8" d="M313 137h1v14h-1zM326 137h1v14h-1z"/>
<path fill="#f08490" d="M335 137h1v14h-1z"/>
<path fill="#b478cc" d="M336 137h1v14h-1z"/>
<path fill="#9084f0" d="M337 137h1v14h-1z"/>
<path fill="#f09cb4" d="M280 151h1v15h-1zM314 151h1v15h-1z"/>
<path fill="#9c84e4" d="M315 151h1v15h-1z"/>
<path fill="#9084fc" d="M316 151h1v15h-1z"/>
<path fill="#6c54f0" d="M336 151h1v15h-1z"/>
<path fill="#2424fc" d="M337 151h1v15h-1z"/>
<path fill="#fcc0cc" d="M299 166h1v14h-1z"/>
<path fill="#ccccf0" d="M316 166h1v14h-1z"/>
<path fill="#9c84f0" d="M324 166h1v14h-1z"/>
<path fill="#cc90cc" d="M326 166h1v14h-1z"/>
<path fill="#8478f0" d="M316 180h1v14h-1z"/>
<path fill="#d884a8" d="M317 180h1v14h-1z"/>
<path fill="#e4c0e4" d="M339 180h1v14h-1z"/>
<path fill="#786cf0" d="M340 180h1v14h-1z"/>
<rect x="276.7" y="29.8" width="18.8" height="7.6" fill="#ffff00"/>
<rect x="295.5" y="29.8" width="50.5" height="7.6" fill="#ffa500"/>
<text x="347.6" y="48.41" font-size="6.3" fill="#000" stroke="#000" stroke-width="0.12" text-anchor="start" >CCR5</text>
<text x="347.6" y="62.53" font-size="6.3" fill="#000" stroke="#000" stroke-width="0.12" text-anchor="start" >TLR3</text>
<text x="347.6" y="76.65" font-size="6.3" fill="#000" stroke="#000" stroke-width="0.12" text-anchor="start" >FOXP3</text>
<text x="347.6" y="90.76" font-size="6.3" fill="#000" stroke="#000" stroke-width="0.12" text-anchor="start" >CD28</text>
<text x="347.6" y="104.88" font-size="6.3" fill="#000" stroke="#000" stroke-width="0.12" text-anchor="start" >IL7R</text>
<text x="347.6" y="119" font-size="6.3" fill="#000" stroke="#000" stroke-width="0.12" text-anchor="start" >CD40LG</text>
<text x="347.6" y="133.12" font-size="6.3" fill="#000" stroke="#000" stroke-width="0.12" text-anchor="start" >LCK</text>
<text x="347.6" y="147.24" font-size="6.3" fill="#000" stroke="#000" stroke-width="0.12" text-anchor="start" >CD2</text>
<text x="347.6" y="161.35" font-size="6.3" fill="#000" stroke="#000" stroke-width="0.12" text-anchor="start" >CD83</text>
<text x="347.6" y="175.47" font-size="6.3" fill="#000" stroke="#000" stroke-width="0.12" text-anchor="start" >CXCR5</text>
<text x="347.6" y="189.59" font-size="6.3" fill="#000" stroke="#000" stroke-width="0.12" text-anchor="start" >IRF4</text>
<text x="347.6" y="36.3" font-size="6.2" fill="#000" stroke="#000" stroke-width="0.12" text-anchor="start" >Group</text>
<path fill="none" stroke="#444" stroke-width="0.6" d="M264.3 45.56V59.68M264.3 45.56H276.3M264.3 59.68H276.3M271.18 87.91V102.03M271.18 87.91H276.3M271.18 102.03H276.3M267.66 94.97V116.15M267.66 94.97H271.18M267.66 116.15H276.3M264.3 73.8V105.56M264.3 73.8H276.3M264.3 105.56H267.66M271.34 130.27V144.39M271.34 130.27H276.3M271.34 144.39H276.3M268.94 158.5V172.62M268.94 158.5H276.3M268.94 172.62H276.3M267.66 165.56V186.74M267.66 165.56H268.94M267.66 186.74H276.3M263.82 137.33V176.15M263.82 137.33H271.34M263.82 176.15H267.66M262.7 89.68V156.74M262.7 89.68H264.3M262.7 156.74H263.82M260.3 52.62V123.21M260.3 52.62H264.3M260.3 123.21H262.7"/>
<path fill="#6060fc" d="M408 38h1v15h-1zM416 38h1v15h-1zM414 53h1v14h-1zM420 53h1v14h-1zM408 67h1v14h-1zM424 67h1v14h-1zM408 95h1v14h-1zM436 95h1v14h-1zM408 109h1v14h-1zM411 109h1v14h-1zM409 123h2v14h-2zM413 123h1v14h-1zM408 137h1v14h-1zM410 137h1v14h-1zM436 137h1v14h-1zM408 151h1v15h-1zM433 151h1v15h-1zM462 151h1v15h-1zM408 166h1v14h-1zM408 180h1v14h-1zM412 180h1v14h-1z"/>
<path fill="#0c0cfc" d="M409 38h1v15h-1zM412 38h1v15h-1zM414 38h2v15h-2zM422 38h2v15h-2zM421 53h1v14h-1zM409 67h2v14h-2zM421 67h1v14h-1zM423 67h1v14h-1zM416 81h1v14h-1zM409 95h1v14h-1zM411 95h1v14h-1zM415 109h1v14h-1zM415 123h2v14h-2zM414 137h1v14h-1zM415 151h1v15h-1zM409 180h2v14h-2zM415 180h2v14h-2z"/>
<path fill="#0000fc" d="M410 38h2v15h-2zM422 53h1v14h-1zM422 67h1v14h-1zM410 95h1v14h-1zM415 137h2v14h-2zM416 151h1v15h-1z"/>
<path fill="#1818fc" d="M413 38h1v15h-1zM421 38h1v15h-1zM410 53h2v14h-2zM423 53h1v14h-1zM411 67h1v14h-1zM415 67h1v14h-1zM417 81h1v14h-1zM416 95h1v14h-1zM409 109h1v14h-1zM416 109h1v14h-1zM409 137h1v14h-1zM413 137h1v14h-1zM433 137h1v14h-1zM409 151h1v15h-1zM417 151h1v15h-1zM416 166h1v14h-1zM411 180h1v14h-1z"/>
<path fill="#a8a8fc" d="M417 38h2v15h-2zM419 67h1v14h-1zM425 67h1v14h-1zM435 81h2v14h-2zM426 95h1v14h-1zM433 109h3v14h-3zM435 151h1v15h-1zM435 180h1v14h-1z"/>
<path fill="#9090fc" d="M419 38h1v15h-1zM452 53h1v14h-1zM456 67h1v14h-1zM411 81h2v14h-2zM454 95h1v14h-1zM418 109h1v14h-1zM454 109h1v14h-1zM408 123h1v14h-1zM422 123h1v14h-1zM432 123h1v14h-1zM411 137h1v14h-1zM435 137h1v14h-1zM460 137h1v14h-1zM412 151h2v15h-2zM436 151h1v15h-1zM413 180h1v14h-1z"/>
<path fill="#5454fc" d="M420 38h1v15h-1zM420 67h1v14h-1zM414 81h1v14h-1zM413 95h1v14h-1zM412 137h1v14h-1zM434 137h1v14h-1zM463 137h1v14h-1zM422 166h1v14h-1z"/>
<path fill="#4848fc" d="M424 38h1v15h-1zM409 81h1v14h-1zM414 95h1v14h-1zM455 109h1v14h-1zM410 151h1v15h-1zM414 151h1v15h-1zM463 151h1v15h-1zM414 180h1v14h-1z"/>
<path fill="#9084f0" d="M425 38h1v15h-1zM454 81h1v14h-1zM441 95h1v14h-1zM431 109h1v14h-1zM447 151h1v15h-1zM410 166h1v14h-1zM423 180h1v14h-1zM454 180h1v14h-1z"/>
<path fill="#cc78a8" d="M426 38h1v15h-1z"/>
<path fill="#f0606c" d="M427 38h1v15h-1zM443 109h1v14h-1zM419 180h1v14h-1z"/>
<path fill="#e49ca8" d="M428 38h1v15h-1z"/>
<path fill="#ccc0f0" d="M429 38h1v15h-1zM453 166h1v14h-1zM431 180h1v14h-1z"/>
<path fill="#6c6cfc" d="M430 38h1v15h-1zM410 81h1v14h-1zM434 81h1v14h-1zM433 95h1v14h-1zM411 123h2v14h-2zM421 123h1v14h-1zM454 123h1v14h-1zM422 137h1v14h-1zM432 137h1v14h-1zM461 166h1v14h-1zM433 180h1v14h-1zM463 180h1v14h-1z"/>
<path fill="#2418f0" d="M431 38h1v15h-1zM431 67h1v14h-1zM457 67h1v14h-1zM437 95h1v14h-1zM437 137h1v14h-1zM455 137h1v14h-1zM423 166h1v14h-1zM417 180h1v14h-1z"/>
<path fill="#783cc0" d="M432 38h1v15h-1zM438 95h1v14h-1z"/>
<path fill="#e46c84" d="M433 38h1v15h-1zM444 53h1v14h-1zM457 123h1v14h-1zM457 166h1v14h-1z"/>
<path fill="#a860b4" d="M434 38h1v15h-1z"/>
<path fill="#6c54f0" d="M435 38h1v15h-1z"/>
<path fill="#9c78d8" d="M436 38h1v15h-1z"/>
<path fill="#f0a8b4" d="M437 38h1v15h-1zM429 67h1v14h-1zM465 67h1v14h-1zM448 137h1v14h-1zM465 166h1v14h-1z"/>
<path fill="#fcb4b4" d="M438 38h1v15h-1zM448 53h1v14h-1zM462 67h1v14h-1zM445 81h1v14h-1zM452 81h1v14h-1zM430 123h1v14h-1zM426 166h1v14h-1zM435 166h1v14h-1zM444 166h1v14h-1zM446 166h2v14h-2zM426 180h1v14h-1z"/>
<path fill="#fcc0c0" d="M439 38h3v15h-3zM460 53h1v14h-1zM464 53h1v14h-1zM430 81h1v14h-1zM459 81h1v14h-1z"/>
<path fill="#fc9c9c" d="M442 38h1v15h-1zM438 67h1v14h-1zM472 109h1v14h-1zM443 137h1v14h-1zM445 137h1v14h-1zM428 166h1v14h-1zM444 180h1v14h-1z"/>
<path fill="#f06c78" d="M443 38h1v15h-1zM459 38h1v15h-1zM439 81h1v14h-1zM452 95h1v14h-1zM465 95h1v14h-1zM465 180h1v14h-1z"/>
<path fill="#903ca8" d="M444 38h1v15h-1zM418 180h1v14h-1z"/>
<path fill="#3018e4" d="M445 38h1v15h-1z"/>
<path fill="#78189c" d="M446 38h1v15h-1z"/>
<path fill="#f0303c" d="M447 38h1v15h-1z"/>
<path fill="#fc3c3c" d="M448 38h1v15h-1zM443 53h1v14h-1zM470 53h1v14h-1zM448 81h1v14h-1zM450 81h1v14h-1zM425 123h1v14h-1zM439 123h1v14h-1zM450 137h1v14h-1zM468 137h1v14h-1zM470 151h1v15h-1zM449 166h1v14h-1zM449 180h1v14h-1zM470 180h1v14h-1z"/>
<path fill="#fc4848" d="M449 38h1v15h-1zM472 38h1v15h-1zM428 53h1v14h-1zM437 53h1v14h-1zM471 53h1v14h-1zM472 67h1v14h-1zM445 95h1v14h-1zM466 95h1v14h-1zM445 109h1v14h-1zM472 137h1v14h-1zM467 151h2v15h-2zM472 151h1v15h-1zM450 166h1v14h-1zM472 166h1v14h-1zM450 180h1v14h-1zM466 180h1v14h-1zM469 180h1v14h-1z"/>
<path fill="#fc6060" d="M450 38h1v15h-1zM460 38h1v15h-1zM437 67h1v14h-1zM449 67h1v14h-1zM469 109h2v14h-2zM471 123h1v14h-1zM449 137h1v14h-1zM452 137h1v14h-1z"/>
<path fill="#f08490" d="M451 38h1v15h-1zM462 38h1v15h-1zM465 53h1v14h-1zM425 81h1v14h-1zM446 109h1v14h-1zM448 109h1v14h-1z"/>
<path fill="#9c60c0" d="M452 38h1v15h-1zM458 38h1v15h-1z"/>
<path fill="#3c30f0" d="M453 38h1v15h-1zM423 151h1v15h-1z"/>
<path fill="#7860e4" d="M454 38h1v15h-1zM441 151h1v15h-1z"/>
<path fill="#e4a8cc" d="M455 38h1v15h-1z"/>
<path fill="#c090d8" d="M456 38h1v15h-1z"/>
<path fill="#786cf0" d="M457 38h1v15h-1zM423 109h1v14h-1z"/>
<path fill="#fc5454" d="M461 38h1v15h-1zM438 53h1v14h-1zM442 53h1v14h-1zM448 67h1v14h-1zM430 95h1v14h-1zM444 109h1v14h-1zM429 137h1v14h-1zM469 151h1v15h-1zM472 180h1v14h-1z"/>
<path fill="#f0cce4" d="M463 38h1v15h-1zM453 81h1v14h-1zM411 166h1v14h-1zM447 180h1v14h-1z"/>
<path fill="#f0909c" d="M464 38h1v15h-1zM431 81h1v14h-1zM428 137h1v14h-1zM448 180h1v14h-1z"/>
<path fill="#f01824" d="M465 38h1v15h-1zM429 95h1v14h-1zM429 109h1v14h-1zM439 109h1v14h-1zM425 137h1v14h-1z"/>
<path fill="#cc3060" d="M466 38h1v15h-1z"/>
<path fill="#9060d8" d="M467 38h1v15h-1z"/>
<path fill="#a8489c" d="M468 38h1v15h-1z"/>
<path fill="#f00c18" d="M469 38h1v15h-1z"/>
<path fill="#fc0000" d="M470 38h1v15h-1zM470 67h1v14h-1zM470 137h1v14h-1zM469 166h2v14h-2z"/>
<path fill="#fc0c0c" d="M471 38h1v15h-1zM471 67h1v14h-1zM449 81h1v14h-1zM467 95h1v14h-1zM450 109h1v14h-1zM469 123h1v14h-1zM469 137h1v14h-1zM471 137h1v14h-1zM471 166h1v14h-1zM467 180h1v14h-1z"/>
<path fill="#8484fc" d="M408 53h1v14h-1zM453 53h1v14h-1zM408 81h1v14h-1zM413 81h1v14h-1zM434 95h1v14h-1zM411 151h1v15h-1zM418 151h1v15h-1zM434 151h1v15h-1zM434 180h1v14h-1z"/>
<path fill="#3030fc" d="M409 53h1v14h-1zM412 67h1v14h-1zM415 95h1v14h-1zM414 123h1v14h-1z"/>
<path fill="#7878fc" d="M412 53h1v14h-1zM416 53h1v14h-1zM424 53h1v14h-1zM412 109h2v14h-2zM462 123h1v14h-1zM422 151h1v15h-1zM461 151h1v15h-1zM454 166h1v14h-1zM462 166h1v14h-1zM462 180h1v14h-1z"/>
<path fill="#b4b4fc" d="M413 53h1v14h-1zM458 53h1v14h-1zM453 67h1v14h-1zM462 81h1v14h-1zM463 123h1v14h-1zM448 151h1v15h-1zM460 151h1v15h-1zM433 166h1v14h-1zM436 180h1v14h-1z"/>
<path fill="#2424fc" d="M415 53h1v14h-1zM414 67h1v14h-1zM415 81h1v14h-1zM417 123h1v14h-1zM409 166h1v14h-1zM415 166h1v14h-1zM417 166h1v14h-1z"/>
<path fill="#c0c0fc" d="M417 53h1v14h-1zM419 53h1v14h-1zM463 109h1v14h-1z"/>
<path fill="#d8d8fc" d="M418 53h1v14h-1zM452 67h1v14h-1zM422 81h1v14h-1zM422 95h4v14h-4zM419 109h1v14h-1zM461 109h1v14h-1zM450 151h1v15h-1zM452 151h1v15h-1z"/>
<path fill="#e4ccf0" d="M425 53h1v14h-1zM447 137h1v14h-1z"/>
<path fill="#fc7878" d="M426 53h1v14h-1zM439 53h1v14h-1zM441 53h1v14h-1zM461 53h1v14h-1zM472 53h1v14h-1zM458 95h1v14h-1zM469 95h2v14h-2zM467 109h1v14h-1zM471 109h1v14h-1zM429 123h1v14h-1zM445 123h2v14h-2zM451 123h1v14h-1zM444 151h1v15h-1zM439 180h1v14h-1zM451 180h1v14h-1z"/>
<path fill="#fc1818" d="M427 53h1v14h-1zM451 109h1v14h-1zM468 123h1v14h-1zM471 151h1v15h-1zM468 166h1v14h-1z"/>
<path fill="#fc8490" d="M429 53h1v14h-1zM445 151h1v15h-1zM425 180h1v14h-1z"/>
<path fill="#c090cc" d="M430 53h1v14h-1z"/>
<path fill="#9c90f0" d="M431 53h1v14h-1zM431 166h1v14h-1zM461 180h1v14h-1z"/>
<path fill="#c0b4f0" d="M432 53h1v14h-1zM423 81h1v14h-1zM423 123h1v14h-1zM431 137h1v14h-1zM459 166h1v14h-1z"/>
<path fill="#f0ccd8" d="M433 53h1v14h-1zM443 95h1v14h-1zM427 137h1v14h-1zM458 137h1v14h-1zM453 180h1v14h-1z"/>
<path fill="#ccb4e4" d="M434 53h1v14h-1zM445 53h1v14h-1zM456 53h1v14h-1z"/>
<path fill="#a890f0" d="M435 53h1v14h-1z"/>
<path fill="#cc6c9c" d="M436 53h1v14h-1z"/>
<path fill="#fc8484" d="M440 53h1v14h-1zM451 81h1v14h-1zM468 81h1v14h-1zM444 123h1v14h-1zM447 123h1v14h-1zM458 123h1v14h-1zM448 166h1v14h-1zM466 166h1v14h-1zM459 180h1v14h-1z"/>
<path fill="#d8c0e4" d="M446 53h1v14h-1zM453 109h1v14h-1zM427 123h1v14h-1z"/>
<path fill="#fcb4c0" d="M447 53h1v14h-1z"/>
<path fill="#fca8b4" d="M449 53h1v14h-1zM465 109h1v14h-1z"/>
<path fill="#d8a8cc" d="M450 53h1v14h-1zM426 67h1v14h-1z"/>
<path fill="#a89cfc" d="M451 53h1v14h-1zM421 166h1v14h-1z"/>
<path fill="#b49cf0" d="M454 53h1v14h-1zM441 81h1v14h-1z"/>
<path fill="#f0c0d8" d="M455 53h1v14h-1z"/>
<path fill="#9c90fc" d="M457 53h1v14h-1zM463 166h1v14h-1z"/>
<path fill="#f0f0fc" d="M459 53h1v14h-1zM421 81h1v14h-1z"/>
<path fill="#fc9090" d="M462 53h1v14h-1zM461 67h1v14h-1zM446 81h1v14h-1zM465 81h1v14h-1zM471 81h1v14h-1zM444 95h1v14h-1zM472 95h1v14h-1zM466 109h1v14h-1zM438 123h1v14h-1zM465 123h1v14h-1zM472 123h1v14h-1zM444 137h1v14h-1zM466 151h1v15h-1zM420 180h1v14h-1zM458 180h1v14h-1z"/>
<path fill="#fccccc" d="M463 53h1v14h-1zM434 67h1v14h-1zM464 67h1v14h-1zM464 81h1v14h-1zM470 81h1v14h-1zM458 109h1v14h-1zM449 123h1v14h-1zM443 166h1v14h-1z"/>
<path fill="#9c54b4" d="M466 53h1v14h-1z"/>
<path fill="#240ce4" d="M467 53h1v14h-1z"/>
<path fill="#6018b4" d="M468 53h1v14h-1z"/>
<path fill="#e43c54" d="M469 53h1v14h-1z"/>
<path fill="#3c3cfc" d="M413 67h1v14h-1zM412 95h1v14h-1zM462 95h1v14h-1zM410 109h1v14h-1zM414 109h1v14h-1zM417 109h1v14h-1zM433 123h1v14h-1zM461 137h2v14h-2zM455 151h1v15h-1z"/>
<path fill="#9078e4" d="M416 67h1v14h-1z"/>
<path fill="#e4c0d8" d="M417 67h1v14h-1zM440 166h1v14h-1z"/>
<path fill="#d8c0f0" d="M418 67h1v14h-1zM453 95h1v14h-1zM441 137h1v14h-1z"/>
<path fill="#fc9ca8" d="M427 67h1v14h-1z"/>
<path fill="#fca8a8" d="M428 67h1v14h-1zM436 67h1v14h-1zM458 81h1v14h-1zM472 81h1v14h-1zM447 95h3v14h-3zM448 123h1v14h-1zM450 123h1v14h-1zM466 137h1v14h-1zM445 166h1v14h-1zM428 180h1v14h-1zM440 180h1v14h-1zM452 180h1v14h-1z"/>
<path fill="#8460d8" d="M430 67h1v14h-1zM418 137h1v14h-1z"/>
<path fill="#7854d8" d="M432 67h1v14h-1zM456 95h1v14h-1zM456 151h1v15h-1z"/>
<path fill="#f09cb4" d="M433 67h1v14h-1zM430 180h1v14h-1z"/>
<path fill="#fce4e4" d="M435 67h1v14h-1zM420 81h1v14h-1zM427 180h1v14h-1z"/>
<path fill="#fcf0f0" d="M439 67h1v14h-1zM436 123h1v14h-1zM441 180h2v14h-2z"/>
<path fill="#fcf0fc" d="M440 67h1v14h-1z"/>
<path fill="#f0e4f0" d="M441 67h1v14h-1zM463 81h1v14h-1zM420 109h1v14h-1zM431 123h1v14h-1zM437 166h1v14h-1z"/>
<path fill="#f09ca8" d="M442 67h1v14h-1zM431 95h1v14h-1zM459 123h1v14h-1zM453 137h1v14h-1zM446 180h1v14h-1z"/>
<path fill="#f04854" d="M443 67h1v14h-1zM459 95h1v14h-1z"/>
<path fill="#b44890" d="M444 67h1v14h-1z"/>
<path fill="#7854e4" d="M445 67h1v14h-1z"/>
<path fill="#a854b4" d="M446 67h1v14h-1z"/>
<path fill="#f05460" d="M447 67h1v14h-1z"/>
<path fill="#fc909c" d="M450 67h1v14h-1zM443 123h1v14h-1z"/>
<path fill="#f0d8f0" d="M451 67h1v14h-1zM460 109h1v14h-1zM435 123h1v14h-1z"/>
<path fill="#ccccfc" d="M454 67h1v14h-1zM428 81h1v14h-1zM462 109h1v14h-1zM451 151h1v15h-1z"/>
<path fill="#e4e4fc" d="M455 67h1v14h-1zM449 151h1v15h-1zM453 151h1v15h-1z"/>
<path fill="#6c24b4" d="M458 67h1v14h-1z"/>
<path fill="#e44860" d="M459 67h1v14h-1z"/>
<path fill="#fc6c6c" d="M460 67h1v14h-1zM447 81h1v14h-1zM466 81h1v14h-1zM446 95h1v14h-1zM450 95h1v14h-1zM471 95h1v14h-1zM468 109h1v14h-1zM466 123h1v14h-1zM467 137h1v14h-1zM445 180h1v14h-1z"/>
<path fill="#fcd8d8" d="M463 67h1v14h-1zM444 81h1v14h-1zM412 166h1v14h-1zM427 166h1v14h-1zM443 180h1v14h-1z"/>
<path fill="#b478cc" d="M466 67h1v14h-1z"/>
<path fill="#543ce4" d="M467 67h1v14h-1z"/>
<path fill="#84249c" d="M468 67h1v14h-1z"/>
<path fill="#f00018" d="M469 67h1v14h-1z"/>
<path fill="#846ce4" d="M418 81h1v14h-1zM456 109h1v14h-1zM464 151h1v15h-1zM414 166h1v14h-1z"/>
<path fill="#f0c0cc" d="M419 81h1v14h-1zM465 137h1v14h-1zM413 166h1v14h-1z"/>
<path fill="#d89cc0" d="M424 81h1v14h-1z"/>
<path fill="#cc90c0" d="M426 81h1v14h-1z"/>
<path fill="#a89cf0" d="M427 81h1v14h-1zM437 81h1v14h-1z"/>
<path fill="#fce4f0" d="M429 81h1v14h-1zM443 81h1v14h-1zM437 123h1v14h-1z"/>
<path fill="#9060cc" d="M432 81h1v14h-1z"/>
<path fill="#3c30fc" d="M433 81h1v14h-1zM455 95h1v14h-1z"/>
<path fill="#cc84b4" d="M438 81h1v14h-1zM460 180h1v14h-1z"/>
<path fill="#d884a8" d="M440 81h1v14h-1z"/>
<path fill="#ccc0fc" d="M442 81h1v14h-1zM441 166h1v14h-1z"/>
<path fill="#2418fc" d="M455 81h1v14h-1zM455 123h1v14h-1zM455 166h1v14h-1zM455 180h1v14h-1z"/>
<path fill="#6c3ccc" d="M456 81h1v14h-1z"/>
<path fill="#e4849c" d="M457 81h1v14h-1zM430 137h1v14h-1z"/>
<path fill="#ccb4d8" d="M460 81h1v14h-1z"/>
<path fill="#9c9cfc" d="M461 81h1v14h-1zM435 95h1v14h-1zM432 109h1v14h-1zM436 109h1v14h-1zM432 151h1v15h-1zM454 151h1v15h-1zM432 166h1v14h-1zM460 166h1v14h-1zM432 180h1v14h-1z"/>
<path fill="#fc4854" d="M467 81h1v14h-1z"/>
<path fill="#f0d8e4" d="M469 81h1v14h-1zM421 109h1v14h-1z"/>
<path fill="#180cf0" d="M417 95h1v14h-1z"/>
<path fill="#8430a8" d="M418 95h1v14h-1z"/>
<path fill="#f06078" d="M419 95h1v14h-1zM452 109h1v14h-1z"/>
<path fill="#e49cb4" d="M420 95h1v14h-1zM428 123h1v14h-1zM452 166h1v14h-1zM438 180h1v14h-1z"/>
<path fill="#d8ccf0" d="M421 95h1v14h-1zM431 151h1v15h-1z"/>
<path fill="#846cf0" d="M427 95h1v14h-1z"/>
<path fill="#b43c84" d="M428 95h1v14h-1zM440 151h1v15h-1z"/>
<path fill="#a884d8" d="M432 95h1v14h-1zM420 123h1v14h-1z"/>
<path fill="#e46c90" d="M439 95h1v14h-1zM424 123h1v14h-1z"/>
<path fill="#c078b4" d="M440 95h1v14h-1zM442 109h1v14h-1zM424 180h1v14h-1z"/>
<path fill="#b4a8f0" d="M442 95h1v14h-1zM422 109h1v14h-1zM453 123h1v14h-1z"/>
<path fill="#fc3030" d="M451 95h1v14h-1zM468 95h1v14h-1zM467 123h1v14h-1zM467 166h1v14h-1z"/>
<path fill="#e4909c" d="M457 95h1v14h-1z"/>
<path fill="#a83090" d="M460 95h1v14h-1z"/>
<path fill="#3024f0" d="M461 95h1v14h-1z"/>
<path fill="#6054fc" d="M463 95h1v14h-1zM461 123h1v14h-1z"/>
<path fill="#9c60cc" d="M464 95h1v14h-1z"/>
<path fill="#b4549c" d="M424 109h1v14h-1z"/>
<path fill="#f04860" d="M425 109h1v14h-1z"/>
<path fill="#d8789c" d="M426 109h1v14h-1z"/>
<path fill="#c09cd8" d="M427 109h1v14h-1z"/>
<path fill="#d85484" d="M428 109h1v14h-1zM428 151h1v15h-1z"/>
<path fill="#c04884" d="M430 109h1v14h-1zM438 109h1v14h-1z"/>
<path fill="#9078f0" d="M437 109h1v14h-1z"/>
<path fill="#c03c78" d="M440 109h1v14h-1z"/>
<path fill="#9c78e4" d="M441 109h1v14h-1z"/>
<path fill="#e4c0e4" d="M447 109h1v14h-1z"/>
<path fill="#fc2424" d="M449 109h1v14h-1zM470 123h1v14h-1zM451 137h1v14h-1zM429 151h1v15h-1zM468 180h1v14h-1zM471 180h1v14h-1z"/>
<path fill="#f0a8c0" d="M457 109h1v14h-1zM465 151h1v15h-1z"/>
<path fill="#fcd8e4" d="M459 109h1v14h-1zM438 166h1v14h-1z"/>
<path fill="#d8b4e4" d="M464 109h1v14h-1zM420 166h1v14h-1z"/>
<path fill="#906cd8" d="M418 123h1v14h-1zM454 137h1v14h-1zM418 166h1v14h-1z"/>
<path fill="#e4a8c0" d="M419 123h1v14h-1zM419 137h1v14h-1zM457 137h1v14h-1z"/>
<path fill="#e47890" d="M426 123h1v14h-1z"/>
<path fill="#8484f0" d="M434 123h1v14h-1z"/>
<path fill="#d86084" d="M440 123h1v14h-1z"/>
<path fill="#b49ce4" d="M441 123h1v14h-1z"/>
<path fill="#cc9ccc" d="M442 123h1v14h-1z"/>
<path fill="#e490a8" d="M452 123h1v14h-1zM440 137h1v14h-1zM457 151h1v15h-1zM458 166h1v14h-1zM457 180h1v14h-1z"/>
<path fill="#6c30c0" d="M456 123h1v14h-1zM456 166h1v14h-1z"/>
<path fill="#b484cc" d="M460 123h1v14h-1z"/>
<path fill="#d8a8d8" d="M464 123h1v14h-1z"/>
<path fill="#180cfc" d="M417 137h1v14h-1z"/>
<path fill="#b490d8" d="M420 137h1v14h-1z"/>
<path fill="#8478fc" d="M421 137h1v14h-1z"/>
<path fill="#7860f0" d="M423 137h1v14h-1z"/>
<path fill="#b43078" d="M424 137h1v14h-1z"/>
<path fill="#f07884" d="M426 137h1v14h-1zM443 151h1v15h-1zM425 166h1v14h-1z"/>
<path fill="#7830b4" d="M438 137h1v14h-1z"/>
<path fill="#e46078" d="M439 137h1v14h-1z"/>
<path fill="#e4b4cc" d="M442 137h1v14h-1zM419 166h1v14h-1z"/>
<path fill="#f0b4c0" d="M446 137h1v14h-1zM458 151h1v15h-1zM421 180h1v14h-1z"/>
<path fill="#6c48e4" d="M456 137h1v14h-1z"/>
<path fill="#d8ccfc" d="M459 137h1v14h-1zM421 151h1v15h-1z"/>
<path fill="#9c84f0" d="M464 137h1v14h-1z"/>
<path fill="#f0e4fc" d="M419 151h2v15h-2z"/>
<path fill="#9048b4" d="M424 151h1v15h-1z"/>
<path fill="#e47884" d="M425 151h1v15h-1z"/>
<path fill="#d890c0" d="M426 151h1v15h-1z"/>
<path fill="#c09ce4" d="M427 151h1v15h-1zM422 180h1v14h-1z"/>
<path fill="#f06c84" d="M430 151h1v15h-1z"/>
<path fill="#6c60f0" d="M437 151h1v15h-1z"/>
<path fill="#a83c90" d="M438 151h1v15h-1z"/>
<path fill="#e4243c" d="M439 151h1v15h-1z"/>
<path fill="#a86cc0" d="M442 151h1v15h-1z"/>
<path fill="#cc84c0" d="M446 151h1v15h-1z"/>
<path fill="#d8d8f0" d="M459 151h1v15h-1z"/>
<path fill="#843cb4" d="M424 166h1v14h-1z"/>
<path fill="#fc606c" d="M429 166h1v14h-1z"/>
<path fill="#cc6ca8" d="M430 166h1v14h-1z"/>
<path fill="#d8b4d8" d="M434 166h1v14h-1z"/>
<path fill="#fcccd8" d="M436 166h1v14h-1z"/>
<path fill="#fcc0cc" d="M439 166h1v14h-1z"/>
<path fill="#d8cce4" d="M442 166h1v14h-1z"/>
<path fill="#fc7884" d="M451 166h1v14h-1zM429 180h1v14h-1z"/>
<path fill="#c0a8e4" d="M464 166h1v14h-1z"/>
<path fill="#c0c0f0" d="M437 180h1v14h-1z"/>
<path fill="#6c48d8" d="M456 180h1v14h-1z"/>
<path fill="#9c6ccc" d="M464 180h1v14h-1z"/>
<rect x="408.4" y="29.8" width="15.8" height="7.6" fill="#ffff00"/>
<rect x="424.2" y="29.8" width="48.5" height="7.6" fill="#ffa500"/>
<text x="475" y="48.41" font-size="6.3" fill="#000" stroke="#000" stroke-width="0.12" text-anchor="start" >CD83</text>
<text x="475" y="62.53" font-size="6.3" fill="#000" stroke="#000" stroke-width="0.12" text-anchor="start" >TLR3</text>
<text x="475" y="76.65" font-size="6.3" fill="#000" stroke="#000" stroke-width="0.12" text-anchor="start" >FOXP3</text>
<text x="475" y="90.76" font-size="6.3" fill="#000" stroke="#000" stroke-width="0.12" text-anchor="start" >CCR5</text>
<text x="475" y="104.88" font-size="6.3" fill="#000" stroke="#000" stroke-width="0.12" text-anchor="start" >CXCR5</text>
<text x="475" y="119" font-size="6.3" fill="#000" stroke="#000" stroke-width="0.12" text-anchor="start" >CD40LG</text>
<text x="475" y="133.12" font-size="6.3" fill="#000" stroke="#000" stroke-width="0.12" text-anchor="start" >CD28</text>
<text x="475" y="147.24" font-size="6.3" fill="#000" stroke="#000" stroke-width="0.12" text-anchor="start" >CD2</text>
<text x="475" y="161.35" font-size="6.3" fill="#000" stroke="#000" stroke-width="0.12" text-anchor="start" >LCK</text>
<text x="475" y="175.47" font-size="6.3" fill="#000" stroke="#000" stroke-width="0.12" text-anchor="start" >IRF4</text>
<text x="475" y="189.59" font-size="6.3" fill="#000" stroke="#000" stroke-width="0.12" text-anchor="start" >IL7R</text>
<text x="475" y="36.3" font-size="6.2" fill="#000" stroke="#000" stroke-width="0.12" text-anchor="start" >Group</text>
<path fill="none" stroke="#444" stroke-width="0.6" d="M394.4 45.56V59.68M394.4 45.56H408M394.4 59.68H408M396.64 73.8V87.91M396.64 73.8H408M396.64 87.91H408M393.12 52.62V80.85M393.12 52.62H394.4M393.12 80.85H396.64M401.76 116.15V130.27M401.76 116.15H408M401.76 130.27H408M401.76 144.39V158.5M401.76 144.39H408M401.76 158.5H408M399.36 123.21V151.45M399.36 123.21H401.76M399.36 151.45H401.76M397.6 102.03V137.33M397.6 102.03H408M397.6 137.33H399.36M396.48 119.68V172.62M396.48 119.68H397.6M396.48 172.62H408M395.52 146.15V186.74M395.52 146.15H396.48M395.52 186.74H408M392 66.74V166.45M392 66.74H393.12M392 166.45H395.52"/>
<text x="25" y="19.2" font-size="7.4" fill="#000" stroke="#000" stroke-width="0.2" text-anchor="start" >Up-regulated in GSE194331</text>
<text x="145.4" y="19.2" font-size="7.4" fill="#000" stroke="#000" stroke-width="0.2" text-anchor="start" >Down-regulated in GSE149607</text>
<text x="266.8" y="19" font-size="7.4" fill="#000" stroke="#000" stroke-width="0.2" text-anchor="start" >Down-regulated in GSE194331</text>
<text x="400" y="19" font-size="7.4" fill="#000" stroke="#000" stroke-width="0.2" text-anchor="start" >Up-regulated in GSE149607</text>
<text x="10.8" y="16.9" font-size="13" fill="#000" stroke="#000" stroke-width="0.2" text-anchor="start" >A</text>
<text x="252.6" y="16.9" font-size="13" fill="#000" stroke="#000" stroke-width="0.2" text-anchor="start" >B</text>
<text x="12.3" y="210.6" font-size="13" fill="#000" stroke="#000" stroke-width="0.2" text-anchor="start" >C</text>
<text x="222.1" y="207.9" font-size="13" fill="#000" stroke="#000" stroke-width="0.2" text-anchor="start" >D</text>
<text x="512" y="27" font-size="6.4" fill="#000" stroke="#000" stroke-width="0.12" text-anchor="start" >Z-score</text>
<defs><linearGradient id="zg" x1="0" y1="0" x2="0" y2="1"><stop offset="0" stop-color="#ff0000"/><stop offset="0.5" stop-color="#ffffff"/><stop offset="1" stop-color="#0000ff"/></linearGradient></defs>
<rect x="519.5" y="30" width="6" height="32.5" fill="url(#zg)"/>
<text x="527" y="33.4" font-size="5.3" fill="#000" stroke="#000" stroke-width="0.12" text-anchor="start" >1</text>
<text x="527" y="41.5" font-size="5.3" fill="#000" stroke="#000" stroke-width="0.12" text-anchor="start" >0.5</text>
<text x="527" y="49.1" font-size="5.3" fill="#000" stroke="#000" stroke-width="0.12" text-anchor="start" >0</text>
<text x="527" y="56.7" font-size="5.3" fill="#000" stroke="#000" stroke-width="0.12" text-anchor="start" >-0.5</text>
<text x="527" y="64.2" font-size="5.3" fill="#000" stroke="#000" stroke-width="0.12" text-anchor="start" >-1</text>
<text x="515.8" y="82.5" font-size="6.4" fill="#000" stroke="#000" stroke-width="0.12" text-anchor="start" >Group</text>
<rect x="519.8" y="86.6" width="5.2" height="5.2" fill="#ffa500"/>
<rect x="519.8" y="91.8" width="5.2" height="5.2" fill="#ffff00"/>
<text x="527" y="91.4" font-size="5.3" fill="#000" stroke="#000" stroke-width="0.12" text-anchor="start" >AP</text>
<text x="527" y="96.7" font-size="5.3" fill="#000" stroke="#000" stroke-width="0.12" text-anchor="start" >Control</text>
<path fill="none" stroke="#d2d2d2" stroke-width="1.25" d="M93 232.3L73.5 251.7M73.5 251.7L115.7 264.5M73.5 251.7L116 341.3M144.2 231.9L115.7 264.5M144.2 231.9L116 360M144.2 231.9L115.7 284M144.2 231.9L116 310.5M165.2 252.4L116 310.5M115.7 245.5L182 342M115.7 245.5L95.5 396.5M43.5 279.4L189.1 310.1M48.9 304.4L189.1 310.1M48.9 304.4L41.3 327.4M26.9 306.8L41.3 327.4M48.9 304.4L70.8 367.9M116 310.5L189.1 310.1M116 310.5L149.1 320.7M116 310.5L32.8 350.4M116 341.3L149.1 320.7M116 341.3L182 342M116 360L149.1 320.7M166.5 287.7L157.2 369.3M115.7 264.5L157.2 369.3M166.5 287.7L189.1 310.1M166.5 287.7L149.1 320.7M187.2 277L189.1 310.1M69.7 270.6L115.9 379.5M69.7 270.6L95.5 396.5M75.4 336L189.1 310.1M75.4 336L70.8 367.9M75.4 336L115.9 379.5M116 310.5L70.8 367.9M116 360L136 396.5M115.7 284L136 396.5M115.7 264.5L115.9 379.5"/>
<circle cx="93" cy="232.3" r="7" fill="#1f9b6e"/>
<circle cx="115.7" cy="245.5" r="7" fill="#1f9b6e"/>
<circle cx="115.7" cy="264.5" r="7" fill="#1f9b6e"/>
<circle cx="115.7" cy="284" r="7" fill="#1f9b6e"/>
<circle cx="116" cy="310.5" r="7" fill="#1f9b6e"/>
<circle cx="116" cy="341.3" r="7" fill="#1f9b6e"/>
<circle cx="116" cy="360" r="7" fill="#1f9b6e"/>
<circle cx="69.7" cy="270.6" r="7" fill="#1f9b6e"/>
<circle cx="43.5" cy="279.4" r="7" fill="#1f9b6e"/>
<circle cx="26.9" cy="306.8" r="7" fill="#1f9b6e"/>
<circle cx="48.9" cy="304.4" r="7" fill="#1f9b6e"/>
<circle cx="75.4" cy="336" r="7" fill="#1f9b6e"/>
<circle cx="187.2" cy="277" r="7" fill="#1f9b6e"/>
<circle cx="166.5" cy="287.7" r="7" fill="#1f9b6e"/>
<circle cx="144.2" cy="231.9" r="7" fill="#2c67c4"/>
<circle cx="73.5" cy="251.7" r="7" fill="#2c67c4"/>
<circle cx="165.2" cy="252.4" r="7" fill="#2c67c4"/>
<circle cx="189.1" cy="310.1" r="7" fill="#2c67c4"/>
<circle cx="149.1" cy="320.7" r="7" fill="#2c67c4"/>
<circle cx="41.3" cy="327.4" r="7" fill="#2c67c4"/>
<circle cx="32.8" cy="350.4" r="7" fill="#2c67c4"/>
<circle cx="70.8" cy="367.9" r="7" fill="#2c67c4"/>
<circle cx="182" cy="342" r="7" fill="#2c67c4"/>
<circle cx="157.2" cy="369.3" r="7" fill="#2c67c4"/>
<circle cx="115.9" cy="379.5" r="7" fill="#2c67c4"/>
<circle cx="95.5" cy="396.5" r="7" fill="#2c67c4"/>
<circle cx="136" cy="396.5" r="7" fill="#2c67c4"/>
<text x="93" y="234.1" font-size="4.9" text-anchor="middle" fill="#ffffff" stroke="#5a5a5a" stroke-width="1.3" paint-order="stroke">IRF4</text>
<text x="115.7" y="247.3" font-size="4.9" text-anchor="middle" fill="#ffffff" stroke="#5a5a5a" stroke-width="1.3" paint-order="stroke">SOCS3</text>
<text x="115.7" y="266.3" font-size="4.9" text-anchor="middle" fill="#ffffff" stroke="#5a5a5a" stroke-width="1.3" paint-order="stroke">IL6R</text>
<text x="115.7" y="285.8" font-size="4.9" text-anchor="middle" fill="#ffffff" stroke="#5a5a5a" stroke-width="1.3" paint-order="stroke">CD274</text>
<text x="116" y="312.3" font-size="4.9" text-anchor="middle" fill="#ffffff" stroke="#5a5a5a" stroke-width="1.3" paint-order="stroke">STAT3</text>
<text x="116" y="343.1" font-size="4.9" text-anchor="middle" fill="#ffffff" stroke="#5a5a5a" stroke-width="1.3" paint-order="stroke">TLR2</text>
<text x="116" y="361.8" font-size="4.9" text-anchor="middle" fill="#ffffff" stroke="#5a5a5a" stroke-width="1.3" paint-order="stroke">TLR4</text>
<text x="69.7" y="272.4" font-size="4.9" text-anchor="middle" fill="#ffffff" stroke="#5a5a5a" stroke-width="1.3" paint-order="stroke">LAMP1</text>
<text x="43.5" y="281.2" font-size="4.9" text-anchor="middle" fill="#ffffff" stroke="#5a5a5a" stroke-width="1.3" paint-order="stroke">TLR3</text>
<text x="26.9" y="308.6" font-size="4.9" text-anchor="middle" fill="#ffffff" stroke="#5a5a5a" stroke-width="1.3" paint-order="stroke">SPI1</text>
<text x="48.9" y="306.2" font-size="4.9" text-anchor="middle" fill="#ffffff" stroke="#5a5a5a" stroke-width="1.3" paint-order="stroke">MYD88</text>
<text x="75.4" y="337.8" font-size="4.9" text-anchor="middle" fill="#ffffff" stroke="#5a5a5a" stroke-width="1.3" paint-order="stroke">FAS</text>
<text x="187.2" y="278.8" font-size="4.9" text-anchor="middle" fill="#ffffff" stroke="#5a5a5a" stroke-width="1.3" paint-order="stroke">IL1B</text>
<text x="166.5" y="289.5" font-size="4.9" text-anchor="middle" fill="#ffffff" stroke="#5a5a5a" stroke-width="1.3" paint-order="stroke">ICAM1</text>
<text x="144.2" y="233.7" font-size="4.9" text-anchor="middle" fill="#ffffff" stroke="#5a5a5a" stroke-width="1.3" paint-order="stroke">hsa-miR-124-3p</text>
<text x="73.5" y="253.5" font-size="4.9" text-anchor="middle" fill="#ffffff" stroke="#5a5a5a" stroke-width="1.3" paint-order="stroke">hsa-miR-1256-5p</text>
<text x="165.2" y="254.2" font-size="4.9" text-anchor="middle" fill="#ffffff" stroke="#5a5a5a" stroke-width="1.3" paint-order="stroke">hsa-miR-125a-5p</text>
<text x="189.1" y="311.9" font-size="4.9" text-anchor="middle" fill="#ffffff" stroke="#5a5a5a" stroke-width="1.3" paint-order="stroke">hsa-miR-21-5p</text>
<text x="149.1" y="322.5" font-size="4.9" text-anchor="middle" fill="#ffffff" stroke="#5a5a5a" stroke-width="1.3" paint-order="stroke">hsa-miR-146a-5p</text>
<text x="41.3" y="329.2" font-size="4.9" text-anchor="middle" fill="#ffffff" stroke="#5a5a5a" stroke-width="1.3" paint-order="stroke">hsa-miR-150-5p</text>
<text x="32.8" y="352.2" font-size="4.9" text-anchor="middle" fill="#ffffff" stroke="#5a5a5a" stroke-width="1.3" paint-order="stroke">hsa-miR-223-3p</text>
<text x="70.8" y="369.7" font-size="4.9" text-anchor="middle" fill="#ffffff" stroke="#5a5a5a" stroke-width="1.3" paint-order="stroke">hsa-miR-106a-5p</text>
<text x="182" y="343.8" font-size="4.9" text-anchor="middle" fill="#ffffff" stroke="#5a5a5a" stroke-width="1.3" paint-order="stroke">hsa-miR-19a-3p</text>
<text x="157.2" y="371.1" font-size="4.9" text-anchor="middle" fill="#ffffff" stroke="#5a5a5a" stroke-width="1.3" paint-order="stroke">hsa-miR-221-3p</text>
<text x="115.9" y="381.3" font-size="4.9" text-anchor="middle" fill="#ffffff" stroke="#5a5a5a" stroke-width="1.3" paint-order="stroke">hsa-miR-23a-3p</text>
<text x="95.5" y="398.3" font-size="4.9" text-anchor="middle" fill="#ffffff" stroke="#5a5a5a" stroke-width="1.3" paint-order="stroke">hsa-miR-203a-3p</text>
<text x="136" y="398.3" font-size="4.9" text-anchor="middle" fill="#ffffff" stroke="#5a5a5a" stroke-width="1.3" paint-order="stroke">hsa-miR-27a-3p</text>
<rect x="253.6" y="266.76" width="26.9" height="92.94" fill="#e69f00"/>
<rect x="283.2" y="300.99" width="26.8" height="58.71" fill="#56b4e9"/>
<path fill="none" stroke="#111" stroke-width="0.75" d="M267.05 273.92V258.93M265.75 273.92H268.35M265.75 258.93H268.35"/>
<path fill="none" stroke="#111" stroke-width="0.75" d="M296.6 308.9V293.08M295.3 308.9H297.9M295.3 293.08H297.9"/>
<path fill="none" stroke="#222" stroke-width="0.8" d="M249 254.1V364.5H313.6"/>
<text x="246.7" y="361.7" font-size="5.5" fill="#5a5a5a" stroke="#5a5a5a" stroke-width="0.12" text-anchor="end" >0</text>
<text x="246.7" y="340.88" font-size="5.5" fill="#5a5a5a" stroke="#5a5a5a" stroke-width="0.12" text-anchor="end" >25</text>
<text x="246.7" y="320.06" font-size="5.5" fill="#5a5a5a" stroke="#5a5a5a" stroke-width="0.12" text-anchor="end" >50</text>
<text x="246.7" y="299.24" font-size="5.5" fill="#5a5a5a" stroke="#5a5a5a" stroke-width="0.12" text-anchor="end" >75</text>
<text x="246.7" y="278.42" font-size="5.5" fill="#5a5a5a" stroke="#5a5a5a" stroke-width="0.12" text-anchor="end" >100</text>
<text x="246.7" y="257.6" font-size="5.5" fill="#5a5a5a" stroke="#5a5a5a" stroke-width="0.12" text-anchor="end" >125</text>
<path fill="none" stroke="#333" stroke-width="0.7" d="M247.4 359.7H249M247.4 338.88H249M247.4 318.06H249M247.4 297.24H249M247.4 276.42H249M247.4 255.6H249M267.05 364.5V366.1M296.6 364.5V366.1"/>
<text x="265.05" y="374.6" font-size="7.3" fill="#111" stroke="#111" stroke-width="0.2" text-anchor="middle" >Control</text>
<text x="295.4" y="374.6" font-size="7.3" fill="#111" stroke="#111" stroke-width="0.2" text-anchor="middle" >AP</text>
<text x="234.5" y="309.8" font-size="6.6" fill="#111" stroke="#111" stroke-width="0.2" text-anchor="middle" transform="rotate(-90 234.5 309.8)">Normalized expression</text>
<text x="249" y="247.7" font-size="8.4" fill="#111" stroke="#111" stroke-width="0.2" text-anchor="start" >hsa-miR-21*</text>
<text x="248" y="227.2" font-size="7.8" fill="#111" stroke="#111" stroke-width="0.2"><tspan font-style="italic">p</tspan>-value =0.002774</text>
<rect x="358.5" y="266.84" width="25.8" height="93.16" fill="#e69f00"/>
<rect x="387.6" y="294.46" width="26.4" height="65.54" fill="#56b4e9"/>
<path fill="none" stroke="#111" stroke-width="0.75" d="M371.4 274.55V258.37M370.1 274.55H372.7M370.1 258.37H372.7"/>
<path fill="none" stroke="#111" stroke-width="0.75" d="M400.8 303.17V285.75M399.5 303.17H402.1M399.5 285.75H402.1"/>
<path fill="none" stroke="#222" stroke-width="0.8" d="M353.5 254.8V364.8H418"/>
<text x="351.2" y="362" font-size="5.5" fill="#5a5a5a" stroke="#5a5a5a" stroke-width="0.12" text-anchor="end" >0</text>
<text x="351.2" y="341.26" font-size="5.5" fill="#5a5a5a" stroke="#5a5a5a" stroke-width="0.12" text-anchor="end" >50</text>
<text x="351.2" y="320.52" font-size="5.5" fill="#5a5a5a" stroke="#5a5a5a" stroke-width="0.12" text-anchor="end" >100</text>
<text x="351.2" y="299.78" font-size="5.5" fill="#5a5a5a" stroke="#5a5a5a" stroke-width="0.12" text-anchor="end" >150</text>
<text x="351.2" y="279.04" font-size="5.5" fill="#5a5a5a" stroke="#5a5a5a" stroke-width="0.12" text-anchor="end" >200</text>
<text x="351.2" y="258.3" font-size="5.5" fill="#5a5a5a" stroke="#5a5a5a" stroke-width="0.12" text-anchor="end" >250</text>
<path fill="none" stroke="#333" stroke-width="0.7" d="M351.9 360H353.5M351.9 339.26H353.5M351.9 318.52H353.5M351.9 297.78H353.5M351.9 277.04H353.5M351.9 256.3H353.5M371.4 364.8V366.4M400.8 364.8V366.4"/>
<text x="369.4" y="374.6" font-size="7.3" fill="#111" stroke="#111" stroke-width="0.2" text-anchor="middle" >Control</text>
<text x="399.6" y="374.6" font-size="7.3" fill="#111" stroke="#111" stroke-width="0.2" text-anchor="middle" >AP</text>
<text x="338.8" y="309.8" font-size="6.6" fill="#111" stroke="#111" stroke-width="0.2" text-anchor="middle" transform="rotate(-90 338.8 309.8)">Normalized expression</text>
<text x="353.5" y="247.7" font-size="8.4" fill="#111" stroke="#111" stroke-width="0.2" text-anchor="start" >hsa-miR-146a</text>
<text x="352.5" y="227.2" font-size="7.8" fill="#111" stroke="#111" stroke-width="0.2"><tspan font-style="italic">p</tspan>-value =0.009793</text>
<rect x="464.2" y="269.32" width="26.2" height="90.68" fill="#e69f00"/>
<rect x="493.8" y="295.37" width="26" height="64.64" fill="#56b4e9"/>
<path fill="none" stroke="#111" stroke-width="0.75" d="M477.3 280.02V258.63M476 280.02H478.6M476 258.63H478.6"/>
<path fill="none" stroke="#111" stroke-width="0.75" d="M506.8 306.52V283.74M505.5 306.52H508.1M505.5 283.74H508.1"/>
<path fill="none" stroke="#222" stroke-width="0.8" d="M459.7 253.7V364.8H524"/>
<text x="457.4" y="362" font-size="5.5" fill="#5a5a5a" stroke="#5a5a5a" stroke-width="0.12" text-anchor="end" >0</text>
<text x="457.4" y="338.75" font-size="5.5" fill="#5a5a5a" stroke="#5a5a5a" stroke-width="0.12" text-anchor="end" >50</text>
<text x="457.4" y="315.5" font-size="5.5" fill="#5a5a5a" stroke="#5a5a5a" stroke-width="0.12" text-anchor="end" >100</text>
<text x="457.4" y="292.25" font-size="5.5" fill="#5a5a5a" stroke="#5a5a5a" stroke-width="0.12" text-anchor="end" >150</text>
<text x="457.4" y="269" font-size="5.5" fill="#5a5a5a" stroke="#5a5a5a" stroke-width="0.12" text-anchor="end" >200</text>
<path fill="none" stroke="#333" stroke-width="0.7" d="M458.1 360H459.7M458.1 336.75H459.7M458.1 313.5H459.7M458.1 290.25H459.7M458.1 267H459.7M477.3 364.8V366.4M506.8 364.8V366.4"/>
<text x="475.3" y="374.6" font-size="7.3" fill="#111" stroke="#111" stroke-width="0.2" text-anchor="middle" >Control</text>
<text x="505.6" y="374.6" font-size="7.3" fill="#111" stroke="#111" stroke-width="0.2" text-anchor="middle" >AP</text>
<text x="444.8" y="309.8" font-size="6.6" fill="#111" stroke="#111" stroke-width="0.2" text-anchor="middle" transform="rotate(-90 444.8 309.8)">Normalized expression</text>
<text x="459.7" y="247.7" font-size="8.4" fill="#111" stroke="#111" stroke-width="0.2" text-anchor="start" >hsa-miR-106a*</text>
<text x="458.7" y="227.2" font-size="7.8" fill="#111" stroke="#111" stroke-width="0.2"><tspan font-style="italic">p</tspan>-value =0.01846</text>
</svg>
</body></html>
